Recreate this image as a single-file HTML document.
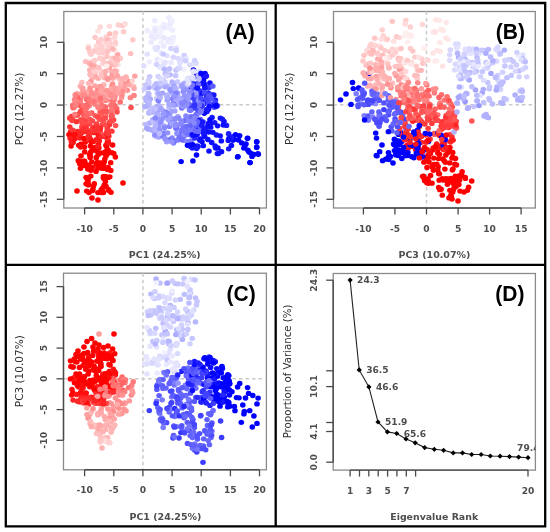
<!DOCTYPE html><html><head><meta charset="utf-8"><style>html,body{margin:0;padding:0;background:#fff}svg{display:block}</style></head><body><svg width="550" height="532" viewBox="0 0 550 532">
<defs><filter id="bl" x="-5%" y="-5%" width="110%" height="110%"><feGaussianBlur stdDeviation="0.35"/></filter></defs>
<rect width="550" height="532" fill="#ffffff"/>
<g filter="url(#bl)">
<clipPath id="cA"><rect x="63.8" y="11.5" width="202.6" height="196.5"/></clipPath>
<rect x="63.8" y="11.5" width="202.6" height="196.5" fill="none" stroke="#8a8a8a" stroke-width="1.3"/>
<line x1="142.9" y1="11.5" x2="142.9" y2="208.0" stroke="#cacaca" stroke-width="1.5" stroke-dasharray="3.5 3.0"/>
<line x1="63.8" y1="104.8" x2="266.4" y2="104.8" stroke="#cacaca" stroke-width="1.5" stroke-dasharray="3.5 3.0"/>
<g clip-path="url(#cA)">
<ellipse cx="215.4" cy="100.1" rx="2.80" ry="2.65" fill="#0f0fff"/>
<ellipse cx="98.2" cy="78.3" rx="2.80" ry="2.65" fill="#ffabab"/>
<ellipse cx="156.7" cy="124.1" rx="2.80" ry="2.65" fill="#ababff"/>
<ellipse cx="193.2" cy="108.2" rx="2.80" ry="2.65" fill="#8888ff"/>
<ellipse cx="114.0" cy="92.7" rx="2.80" ry="2.65" fill="#ff9b9b"/>
<ellipse cx="101.8" cy="58.6" rx="2.80" ry="2.65" fill="#ffd0d0"/>
<ellipse cx="72.7" cy="119.3" rx="2.80" ry="2.65" fill="#ff4d4d"/>
<ellipse cx="182.1" cy="129.7" rx="2.80" ry="2.65" fill="#6f6fff"/>
<ellipse cx="104.6" cy="77.8" rx="2.80" ry="2.65" fill="#ffadad"/>
<ellipse cx="79.4" cy="103.2" rx="2.80" ry="2.65" fill="#ff5e5e"/>
<ellipse cx="106.5" cy="133.2" rx="2.80" ry="2.65" fill="#ff2828"/>
<ellipse cx="160.9" cy="121.2" rx="2.80" ry="2.65" fill="#9c9cff"/>
<ellipse cx="103.3" cy="168.4" rx="2.80" ry="2.65" fill="#ff0000"/>
<ellipse cx="258.0" cy="153.6" rx="2.80" ry="2.65" fill="#0000ff"/>
<ellipse cx="144.3" cy="89.1" rx="2.80" ry="2.65" fill="#ccccff"/>
<ellipse cx="109.3" cy="67.3" rx="2.80" ry="2.65" fill="#ffa2a2"/>
<ellipse cx="111.8" cy="85.6" rx="2.80" ry="2.65" fill="#ffa2a2"/>
<ellipse cx="105.3" cy="100.5" rx="2.80" ry="2.65" fill="#ff8181"/>
<ellipse cx="172.0" cy="137.8" rx="2.80" ry="2.65" fill="#8383ff"/>
<ellipse cx="169.6" cy="126.4" rx="2.80" ry="2.65" fill="#8282ff"/>
<ellipse cx="100.4" cy="110.6" rx="2.80" ry="2.65" fill="#ff8282"/>
<ellipse cx="88.6" cy="46.2" rx="2.80" ry="2.65" fill="#ffe6e6"/>
<ellipse cx="129.0" cy="81.6" rx="2.80" ry="2.65" fill="#ff8d8d"/>
<ellipse cx="220.3" cy="118.1" rx="2.80" ry="2.65" fill="#1515ff"/>
<ellipse cx="69.8" cy="117.9" rx="2.80" ry="2.65" fill="#ff3232"/>
<ellipse cx="200.2" cy="105.2" rx="2.80" ry="2.65" fill="#0e0eff"/>
<ellipse cx="212.8" cy="132.3" rx="2.80" ry="2.65" fill="#0d0dff"/>
<ellipse cx="194.2" cy="133.5" rx="2.80" ry="2.65" fill="#2020ff"/>
<ellipse cx="196.2" cy="130.2" rx="2.80" ry="2.65" fill="#7070ff"/>
<ellipse cx="173.5" cy="141.4" rx="2.80" ry="2.65" fill="#8787ff"/>
<ellipse cx="197.2" cy="106.0" rx="2.80" ry="2.65" fill="#7878ff"/>
<ellipse cx="167.2" cy="95.1" rx="2.80" ry="2.65" fill="#a0a0ff"/>
<ellipse cx="158.1" cy="110.0" rx="2.80" ry="2.65" fill="#a5a5ff"/>
<ellipse cx="103.2" cy="110.0" rx="2.80" ry="2.65" fill="#ff7f7f"/>
<ellipse cx="111.9" cy="71.7" rx="2.80" ry="2.65" fill="#ffa4a4"/>
<ellipse cx="153.6" cy="112.3" rx="2.80" ry="2.65" fill="#bdbdff"/>
<ellipse cx="172.0" cy="92.7" rx="2.80" ry="2.65" fill="#b0b0ff"/>
<ellipse cx="107.1" cy="56.6" rx="2.80" ry="2.65" fill="#ffc3c3"/>
<ellipse cx="98.7" cy="68.8" rx="2.80" ry="2.65" fill="#ffa8a8"/>
<ellipse cx="168.4" cy="69.9" rx="2.80" ry="2.65" fill="#cdcdff"/>
<ellipse cx="224.0" cy="121.5" rx="2.80" ry="2.65" fill="#0d0dff"/>
<ellipse cx="203.5" cy="122.0" rx="2.80" ry="2.65" fill="#7e7eff"/>
<ellipse cx="203.3" cy="145.7" rx="2.80" ry="2.65" fill="#1111ff"/>
<ellipse cx="115.2" cy="64.8" rx="2.80" ry="2.65" fill="#ffa1a1"/>
<ellipse cx="167.3" cy="100.0" rx="2.80" ry="2.65" fill="#9e9eff"/>
<ellipse cx="108.0" cy="140.5" rx="2.80" ry="2.65" fill="#ff0000"/>
<ellipse cx="99.2" cy="130.5" rx="2.80" ry="2.65" fill="#ff3838"/>
<ellipse cx="202.9" cy="83.7" rx="2.80" ry="2.65" fill="#1212ff"/>
<ellipse cx="90.2" cy="61.6" rx="2.80" ry="2.65" fill="#ffdddd"/>
<ellipse cx="200.6" cy="82.7" rx="2.80" ry="2.65" fill="#1313ff"/>
<ellipse cx="149.6" cy="123.1" rx="2.80" ry="2.65" fill="#a5a5ff"/>
<ellipse cx="210.3" cy="123.4" rx="2.80" ry="2.65" fill="#1010ff"/>
<ellipse cx="84.4" cy="147.1" rx="2.80" ry="2.65" fill="#ff0000"/>
<ellipse cx="256.7" cy="147.6" rx="2.80" ry="2.65" fill="#0000ff"/>
<ellipse cx="191.4" cy="93.0" rx="2.80" ry="2.65" fill="#9494ff"/>
<ellipse cx="226.5" cy="125.4" rx="2.80" ry="2.65" fill="#1a1aff"/>
<ellipse cx="95.0" cy="51.3" rx="2.80" ry="2.65" fill="#ffcbcb"/>
<ellipse cx="243.8" cy="148.1" rx="2.80" ry="2.65" fill="#0000ff"/>
<ellipse cx="111.1" cy="99.0" rx="2.80" ry="2.65" fill="#ff9393"/>
<ellipse cx="92.0" cy="198.0" rx="2.80" ry="2.65" fill="#ff0000"/>
<ellipse cx="209.9" cy="83.0" rx="2.80" ry="2.65" fill="#0f0fff"/>
<ellipse cx="93.4" cy="186.2" rx="2.80" ry="2.65" fill="#ff0000"/>
<ellipse cx="157.5" cy="93.5" rx="2.80" ry="2.65" fill="#c3c3ff"/>
<ellipse cx="115.3" cy="95.1" rx="2.80" ry="2.65" fill="#ff9191"/>
<ellipse cx="153.7" cy="129.8" rx="2.80" ry="2.65" fill="#8d8dff"/>
<ellipse cx="90.4" cy="140.4" rx="2.80" ry="2.65" fill="#ff2828"/>
<ellipse cx="84.1" cy="108.0" rx="2.80" ry="2.65" fill="#ff6f6f"/>
<ellipse cx="211.7" cy="142.5" rx="2.80" ry="2.65" fill="#1111ff"/>
<ellipse cx="89.6" cy="119.1" rx="2.80" ry="2.65" fill="#ff4c4c"/>
<ellipse cx="172.6" cy="30.1" rx="2.80" ry="2.65" fill="#ececff"/>
<ellipse cx="105.7" cy="97.6" rx="2.80" ry="2.65" fill="#ff6b6b"/>
<ellipse cx="81.9" cy="82.3" rx="2.80" ry="2.65" fill="#ffbdbd"/>
<ellipse cx="71.5" cy="116.5" rx="2.80" ry="2.65" fill="#ff3434"/>
<ellipse cx="74.1" cy="107.1" rx="2.80" ry="2.65" fill="#ff6b6b"/>
<ellipse cx="81.0" cy="144.2" rx="2.80" ry="2.65" fill="#ff0000"/>
<ellipse cx="90.2" cy="155.7" rx="2.80" ry="2.65" fill="#ff0000"/>
<ellipse cx="204.1" cy="133.5" rx="2.80" ry="2.65" fill="#1515ff"/>
<ellipse cx="122.5" cy="25.6" rx="2.80" ry="2.65" fill="#ffc6c6"/>
<ellipse cx="106.0" cy="186.2" rx="2.80" ry="2.65" fill="#ff0000"/>
<ellipse cx="163.6" cy="24.4" rx="2.80" ry="2.65" fill="#efefff"/>
<ellipse cx="120.2" cy="58.4" rx="2.80" ry="2.65" fill="#ffc3c3"/>
<ellipse cx="157.7" cy="36.7" rx="2.80" ry="2.65" fill="#e5e5ff"/>
<ellipse cx="192.4" cy="148.1" rx="2.80" ry="2.65" fill="#1414ff"/>
<ellipse cx="207.0" cy="111.5" rx="2.80" ry="2.65" fill="#1414ff"/>
<ellipse cx="112.8" cy="58.1" rx="2.80" ry="2.65" fill="#ffc4c4"/>
<ellipse cx="180.3" cy="61.5" rx="2.80" ry="2.65" fill="#dcdcff"/>
<ellipse cx="108.1" cy="150.2" rx="2.80" ry="2.65" fill="#ff0000"/>
<ellipse cx="235.5" cy="134.6" rx="2.80" ry="2.65" fill="#0000ff"/>
<ellipse cx="156.2" cy="86.7" rx="2.80" ry="2.65" fill="#c2c2ff"/>
<ellipse cx="162.7" cy="118.3" rx="2.80" ry="2.65" fill="#9393ff"/>
<ellipse cx="86.1" cy="183.8" rx="2.80" ry="2.65" fill="#ff0000"/>
<ellipse cx="158.1" cy="124.1" rx="2.80" ry="2.65" fill="#ababff"/>
<ellipse cx="82.7" cy="113.5" rx="2.80" ry="2.65" fill="#ff5f5f"/>
<ellipse cx="151.3" cy="112.2" rx="2.80" ry="2.65" fill="#c2c2ff"/>
<ellipse cx="99.2" cy="47.2" rx="2.80" ry="2.65" fill="#ffc5c5"/>
<ellipse cx="204.8" cy="100.6" rx="2.80" ry="2.65" fill="#5f5fff"/>
<ellipse cx="195.1" cy="101.7" rx="2.80" ry="2.65" fill="#4444ff"/>
<ellipse cx="177.5" cy="81.9" rx="2.80" ry="2.65" fill="#c7c7ff"/>
<ellipse cx="149.0" cy="87.5" rx="2.80" ry="2.65" fill="#aaaaff"/>
<ellipse cx="189.0" cy="105.4" rx="2.80" ry="2.65" fill="#8e8eff"/>
<ellipse cx="104.2" cy="185.2" rx="2.80" ry="2.65" fill="#ff0000"/>
<ellipse cx="80.2" cy="100.3" rx="2.80" ry="2.65" fill="#ff8080"/>
<ellipse cx="107.4" cy="169.5" rx="2.80" ry="2.65" fill="#ff0000"/>
<ellipse cx="89.5" cy="123.8" rx="2.80" ry="2.65" fill="#ff5353"/>
<ellipse cx="126.0" cy="77.2" rx="2.80" ry="2.65" fill="#ffa9a9"/>
<ellipse cx="111.0" cy="192.3" rx="2.80" ry="2.65" fill="#ff0000"/>
<ellipse cx="113.0" cy="78.2" rx="2.80" ry="2.65" fill="#ffa9a9"/>
<ellipse cx="107.8" cy="79.6" rx="2.80" ry="2.65" fill="#ffa3a3"/>
<ellipse cx="212.1" cy="117.4" rx="2.80" ry="2.65" fill="#1919ff"/>
<ellipse cx="80.0" cy="98.8" rx="2.80" ry="2.65" fill="#ff7f7f"/>
<ellipse cx="163.9" cy="114.4" rx="2.80" ry="2.65" fill="#9d9dff"/>
<ellipse cx="181.8" cy="108.1" rx="2.80" ry="2.65" fill="#7171ff"/>
<ellipse cx="106.2" cy="36.8" rx="2.80" ry="2.65" fill="#ffd2d2"/>
<ellipse cx="102.2" cy="124.6" rx="2.80" ry="2.65" fill="#ff4343"/>
<ellipse cx="155.0" cy="27.9" rx="2.80" ry="2.65" fill="#ececff"/>
<ellipse cx="152.5" cy="120.2" rx="2.80" ry="2.65" fill="#c6c6ff"/>
<ellipse cx="169.5" cy="89.2" rx="2.80" ry="2.65" fill="#b9b9ff"/>
<ellipse cx="195.2" cy="77.9" rx="2.80" ry="2.65" fill="#d4d4ff"/>
<ellipse cx="90.2" cy="138.8" rx="2.80" ry="2.65" fill="#ff2424"/>
<ellipse cx="105.6" cy="114.5" rx="2.80" ry="2.65" fill="#ff6262"/>
<ellipse cx="228.6" cy="133.7" rx="2.80" ry="2.65" fill="#1a1aff"/>
<ellipse cx="211.5" cy="95.0" rx="2.80" ry="2.65" fill="#1919ff"/>
<ellipse cx="173.5" cy="143.1" rx="2.80" ry="2.65" fill="#8989ff"/>
<ellipse cx="113.3" cy="41.2" rx="2.80" ry="2.65" fill="#ffe2e2"/>
<ellipse cx="200.0" cy="105.1" rx="2.80" ry="2.65" fill="#7575ff"/>
<ellipse cx="156.7" cy="98.8" rx="2.80" ry="2.65" fill="#d0d0ff"/>
<ellipse cx="90.0" cy="102.3" rx="2.80" ry="2.65" fill="#ff9797"/>
<ellipse cx="69.8" cy="126.8" rx="2.80" ry="2.65" fill="#ff3131"/>
<ellipse cx="238.0" cy="156.6" rx="2.80" ry="2.65" fill="#0000ff"/>
<ellipse cx="187.0" cy="132.7" rx="2.80" ry="2.65" fill="#8282ff"/>
<ellipse cx="160.2" cy="36.5" rx="2.80" ry="2.65" fill="#eeeeff"/>
<ellipse cx="97.0" cy="96.7" rx="2.80" ry="2.65" fill="#ff9999"/>
<ellipse cx="90.9" cy="81.5" rx="2.80" ry="2.65" fill="#ff9595"/>
<ellipse cx="196.1" cy="127.2" rx="2.80" ry="2.65" fill="#5151ff"/>
<ellipse cx="127.3" cy="90.3" rx="2.80" ry="2.65" fill="#ff8c8c"/>
<ellipse cx="169.8" cy="24.6" rx="2.80" ry="2.65" fill="#eaeaff"/>
<ellipse cx="192.7" cy="105.4" rx="2.80" ry="2.65" fill="#4b4bff"/>
<ellipse cx="170.5" cy="122.4" rx="2.80" ry="2.65" fill="#9595ff"/>
<ellipse cx="88.4" cy="184.7" rx="2.80" ry="2.65" fill="#ff0000"/>
<ellipse cx="92.9" cy="73.0" rx="2.80" ry="2.65" fill="#ffc7c7"/>
<ellipse cx="176.0" cy="51.0" rx="2.80" ry="2.65" fill="#f1f1ff"/>
<ellipse cx="191.7" cy="80.9" rx="2.80" ry="2.65" fill="#d3d3ff"/>
<ellipse cx="197.2" cy="83.6" rx="2.80" ry="2.65" fill="#8383ff"/>
<ellipse cx="101.7" cy="91.0" rx="2.80" ry="2.65" fill="#ff9c9c"/>
<ellipse cx="98.4" cy="144.7" rx="2.80" ry="2.65" fill="#ff0000"/>
<ellipse cx="107.9" cy="42.9" rx="2.80" ry="2.65" fill="#ffcfcf"/>
<ellipse cx="109.3" cy="41.8" rx="2.80" ry="2.65" fill="#ffcece"/>
<ellipse cx="117.3" cy="89.6" rx="2.80" ry="2.65" fill="#ffa4a4"/>
<ellipse cx="213.8" cy="95.0" rx="2.80" ry="2.65" fill="#1616ff"/>
<ellipse cx="76.7" cy="115.4" rx="2.80" ry="2.65" fill="#ff6767"/>
<ellipse cx="193.0" cy="95.7" rx="2.80" ry="2.65" fill="#8a8aff"/>
<ellipse cx="80.5" cy="111.4" rx="2.80" ry="2.65" fill="#ff4b4b"/>
<ellipse cx="191.1" cy="140.8" rx="2.80" ry="2.65" fill="#7575ff"/>
<ellipse cx="164.8" cy="82.0" rx="2.80" ry="2.65" fill="#cfcfff"/>
<ellipse cx="110.8" cy="105.4" rx="2.80" ry="2.65" fill="#ff8484"/>
<ellipse cx="217.3" cy="153.6" rx="2.80" ry="2.65" fill="#1717ff"/>
<ellipse cx="198.0" cy="146.6" rx="2.80" ry="2.65" fill="#0e0eff"/>
<ellipse cx="110.0" cy="41.2" rx="2.80" ry="2.65" fill="#ffbcbc"/>
<ellipse cx="188.7" cy="103.4" rx="2.80" ry="2.65" fill="#7575ff"/>
<ellipse cx="156.8" cy="98.3" rx="2.80" ry="2.65" fill="#cbcbff"/>
<ellipse cx="103.0" cy="63.3" rx="2.80" ry="2.65" fill="#ffd0d0"/>
<ellipse cx="177.7" cy="93.2" rx="2.80" ry="2.65" fill="#a5a5ff"/>
<ellipse cx="164.2" cy="125.9" rx="2.80" ry="2.65" fill="#aaaaff"/>
<ellipse cx="130.4" cy="97.7" rx="2.80" ry="2.65" fill="#ff8484"/>
<ellipse cx="177.1" cy="124.7" rx="2.80" ry="2.65" fill="#8787ff"/>
<ellipse cx="256.7" cy="141.6" rx="2.80" ry="2.65" fill="#0000ff"/>
<ellipse cx="81.6" cy="161.7" rx="2.80" ry="2.65" fill="#ff0000"/>
<ellipse cx="181.2" cy="135.3" rx="2.80" ry="2.65" fill="#7373ff"/>
<ellipse cx="177.9" cy="116.7" rx="2.80" ry="2.65" fill="#9c9cff"/>
<ellipse cx="169.5" cy="114.0" rx="2.80" ry="2.65" fill="#8c8cff"/>
<ellipse cx="125.0" cy="23.9" rx="2.80" ry="2.65" fill="#ffdbdb"/>
<ellipse cx="184.2" cy="120.7" rx="2.80" ry="2.65" fill="#7272ff"/>
<ellipse cx="188.5" cy="78.3" rx="2.80" ry="2.65" fill="#cbcbff"/>
<ellipse cx="214.2" cy="107.3" rx="2.80" ry="2.65" fill="#4545ff"/>
<ellipse cx="197.6" cy="132.9" rx="2.80" ry="2.65" fill="#7474ff"/>
<ellipse cx="193.5" cy="69.8" rx="2.80" ry="2.65" fill="#0000ff"/>
<ellipse cx="121.8" cy="87.1" rx="2.80" ry="2.65" fill="#ffa0a0"/>
<ellipse cx="104.3" cy="91.5" rx="2.80" ry="2.65" fill="#ff9797"/>
<ellipse cx="174.5" cy="141.0" rx="2.80" ry="2.65" fill="#7171ff"/>
<ellipse cx="208.8" cy="87.5" rx="2.80" ry="2.65" fill="#1010ff"/>
<ellipse cx="110.6" cy="96.9" rx="2.80" ry="2.65" fill="#ff9d9d"/>
<ellipse cx="158.2" cy="76.4" rx="2.80" ry="2.65" fill="#d3d3ff"/>
<ellipse cx="159.3" cy="87.0" rx="2.80" ry="2.65" fill="#aeaeff"/>
<ellipse cx="134.0" cy="95.4" rx="2.80" ry="2.65" fill="#ff8383"/>
<ellipse cx="198.9" cy="97.1" rx="2.80" ry="2.65" fill="#1212ff"/>
<ellipse cx="110.8" cy="45.2" rx="2.80" ry="2.65" fill="#ffcece"/>
<ellipse cx="102.2" cy="166.7" rx="2.80" ry="2.65" fill="#ff0000"/>
<ellipse cx="183.6" cy="106.6" rx="2.80" ry="2.65" fill="#9090ff"/>
<ellipse cx="198.5" cy="107.9" rx="2.80" ry="2.65" fill="#7c7cff"/>
<ellipse cx="196.5" cy="114.1" rx="2.80" ry="2.65" fill="#6b6bff"/>
<ellipse cx="192.0" cy="84.5" rx="2.80" ry="2.65" fill="#9494ff"/>
<ellipse cx="212.0" cy="98.3" rx="2.80" ry="2.65" fill="#1313ff"/>
<ellipse cx="97.4" cy="90.1" rx="2.80" ry="2.65" fill="#ff8484"/>
<ellipse cx="117.6" cy="55.0" rx="2.80" ry="2.65" fill="#ffc5c5"/>
<ellipse cx="170.5" cy="21.7" rx="2.80" ry="2.65" fill="#eaeaff"/>
<ellipse cx="93.3" cy="94.7" rx="2.80" ry="2.65" fill="#ff8f8f"/>
<ellipse cx="190.2" cy="85.4" rx="2.80" ry="2.65" fill="#4949ff"/>
<ellipse cx="148.9" cy="113.1" rx="2.80" ry="2.65" fill="#b4b4ff"/>
<ellipse cx="108.3" cy="189.5" rx="2.80" ry="2.65" fill="#ff0000"/>
<ellipse cx="161.1" cy="53.0" rx="2.80" ry="2.65" fill="#e8e8ff"/>
<ellipse cx="250.0" cy="162.6" rx="2.80" ry="2.65" fill="#0000ff"/>
<ellipse cx="108.4" cy="91.2" rx="2.80" ry="2.65" fill="#ff9696"/>
<ellipse cx="122.1" cy="92.9" rx="2.80" ry="2.65" fill="#ffa5a5"/>
<ellipse cx="100.8" cy="95.8" rx="2.80" ry="2.65" fill="#ff9494"/>
<ellipse cx="204.1" cy="135.4" rx="2.80" ry="2.65" fill="#1e1eff"/>
<ellipse cx="97.9" cy="192.6" rx="2.80" ry="2.65" fill="#ff0000"/>
<ellipse cx="201.1" cy="100.7" rx="2.80" ry="2.65" fill="#7474ff"/>
<ellipse cx="107.2" cy="63.7" rx="2.80" ry="2.65" fill="#ffcdcd"/>
<ellipse cx="124.5" cy="90.7" rx="2.80" ry="2.65" fill="#ffa7a7"/>
<ellipse cx="200.2" cy="138.9" rx="2.80" ry="2.65" fill="#1010ff"/>
<ellipse cx="153.8" cy="32.4" rx="2.80" ry="2.65" fill="#ececff"/>
<ellipse cx="188.1" cy="131.7" rx="2.80" ry="2.65" fill="#6c6cff"/>
<ellipse cx="154.5" cy="85.8" rx="2.80" ry="2.65" fill="#bcbcff"/>
<ellipse cx="83.0" cy="127.3" rx="2.80" ry="2.65" fill="#ff2c2c"/>
<ellipse cx="78.6" cy="104.8" rx="2.80" ry="2.65" fill="#ff7373"/>
<ellipse cx="98.2" cy="135.0" rx="2.80" ry="2.65" fill="#ff1b1b"/>
<ellipse cx="134.8" cy="76.1" rx="2.80" ry="2.65" fill="#ffa3a3"/>
<ellipse cx="184.8" cy="84.9" rx="2.80" ry="2.65" fill="#c3c3ff"/>
<ellipse cx="106.1" cy="155.7" rx="2.80" ry="2.65" fill="#ff0000"/>
<ellipse cx="111.3" cy="111.5" rx="2.80" ry="2.65" fill="#ff6464"/>
<ellipse cx="191.5" cy="122.0" rx="2.80" ry="2.65" fill="#6a6aff"/>
<ellipse cx="114.6" cy="105.5" rx="2.80" ry="2.65" fill="#ff6666"/>
<ellipse cx="123.5" cy="31.7" rx="2.80" ry="2.65" fill="#ffcbcb"/>
<ellipse cx="160.3" cy="66.9" rx="2.80" ry="2.65" fill="#d2d2ff"/>
<ellipse cx="91.4" cy="142.2" rx="2.80" ry="2.65" fill="#ff0000"/>
<ellipse cx="197.4" cy="90.7" rx="2.80" ry="2.65" fill="#1010ff"/>
<ellipse cx="188.2" cy="117.5" rx="2.80" ry="2.65" fill="#ababff"/>
<ellipse cx="109.7" cy="33.8" rx="2.80" ry="2.65" fill="#ffb9b9"/>
<ellipse cx="105.3" cy="151.8" rx="2.80" ry="2.65" fill="#ff0000"/>
<ellipse cx="82.2" cy="128.4" rx="2.80" ry="2.65" fill="#ff3434"/>
<ellipse cx="191.0" cy="83.4" rx="2.80" ry="2.65" fill="#8383ff"/>
<ellipse cx="85.6" cy="128.5" rx="2.80" ry="2.65" fill="#ff3030"/>
<ellipse cx="92.1" cy="77.0" rx="2.80" ry="2.65" fill="#ffadad"/>
<ellipse cx="155.1" cy="120.2" rx="2.80" ry="2.65" fill="#a9a9ff"/>
<ellipse cx="173.4" cy="96.0" rx="2.80" ry="2.65" fill="#adadff"/>
<ellipse cx="96.5" cy="157.1" rx="2.80" ry="2.65" fill="#ff0000"/>
<ellipse cx="94.8" cy="76.8" rx="2.80" ry="2.65" fill="#ffaeae"/>
<ellipse cx="91.9" cy="99.9" rx="2.80" ry="2.65" fill="#ff9999"/>
<ellipse cx="222.3" cy="119.1" rx="2.80" ry="2.65" fill="#1313ff"/>
<ellipse cx="212.6" cy="105.0" rx="2.80" ry="2.65" fill="#0e0eff"/>
<ellipse cx="80.4" cy="101.6" rx="2.80" ry="2.65" fill="#ff8585"/>
<ellipse cx="201.1" cy="107.5" rx="2.80" ry="2.65" fill="#0909ff"/>
<ellipse cx="180.8" cy="100.1" rx="2.80" ry="2.65" fill="#9090ff"/>
<ellipse cx="198.8" cy="113.0" rx="2.80" ry="2.65" fill="#8181ff"/>
<ellipse cx="96.5" cy="71.3" rx="2.80" ry="2.65" fill="#ffc9c9"/>
<ellipse cx="164.7" cy="84.6" rx="2.80" ry="2.65" fill="#cdcdff"/>
<ellipse cx="106.1" cy="47.0" rx="2.80" ry="2.65" fill="#ffe1e1"/>
<ellipse cx="113.7" cy="71.2" rx="2.80" ry="2.65" fill="#ffb5b5"/>
<ellipse cx="103.4" cy="162.9" rx="2.80" ry="2.65" fill="#ff0000"/>
<ellipse cx="100.2" cy="27.0" rx="2.80" ry="2.65" fill="#ffd7d7"/>
<ellipse cx="181.4" cy="121.7" rx="2.80" ry="2.65" fill="#8787ff"/>
<ellipse cx="148.6" cy="129.1" rx="2.80" ry="2.65" fill="#8787ff"/>
<ellipse cx="196.6" cy="148.5" rx="2.80" ry="2.65" fill="#1919ff"/>
<ellipse cx="208.5" cy="123.5" rx="2.80" ry="2.65" fill="#1212ff"/>
<ellipse cx="89.8" cy="51.7" rx="2.80" ry="2.65" fill="#ffcaca"/>
<ellipse cx="201.5" cy="122.6" rx="2.80" ry="2.65" fill="#6f6fff"/>
<ellipse cx="99.6" cy="166.9" rx="2.80" ry="2.65" fill="#ff0000"/>
<ellipse cx="117.4" cy="60.8" rx="2.80" ry="2.65" fill="#ffb8b8"/>
<ellipse cx="176.0" cy="70.2" rx="2.80" ry="2.65" fill="#c7c7ff"/>
<ellipse cx="95.0" cy="104.2" rx="2.80" ry="2.65" fill="#ff7d7d"/>
<ellipse cx="71.1" cy="138.6" rx="2.80" ry="2.65" fill="#ff1212"/>
<ellipse cx="95.0" cy="85.8" rx="2.80" ry="2.65" fill="#ffa1a1"/>
<ellipse cx="157.4" cy="59.3" rx="2.80" ry="2.65" fill="#e6e6ff"/>
<ellipse cx="82.3" cy="88.7" rx="2.80" ry="2.65" fill="#ff9c9c"/>
<ellipse cx="187.3" cy="86.5" rx="2.80" ry="2.65" fill="#8989ff"/>
<ellipse cx="198.2" cy="92.1" rx="2.80" ry="2.65" fill="#6d6dff"/>
<ellipse cx="172.7" cy="99.0" rx="2.80" ry="2.65" fill="#8080ff"/>
<ellipse cx="208.5" cy="109.2" rx="2.80" ry="2.65" fill="#1010ff"/>
<ellipse cx="104.2" cy="92.6" rx="2.80" ry="2.65" fill="#ff8686"/>
<ellipse cx="107.4" cy="142.5" rx="2.80" ry="2.65" fill="#ff0000"/>
<ellipse cx="118.0" cy="64.6" rx="2.80" ry="2.65" fill="#ffdede"/>
<ellipse cx="112.2" cy="115.7" rx="2.80" ry="2.65" fill="#ff5454"/>
<ellipse cx="168.3" cy="39.4" rx="2.80" ry="2.65" fill="#ededff"/>
<ellipse cx="130.6" cy="53.6" rx="2.80" ry="2.65" fill="#ffbfbf"/>
<ellipse cx="154.8" cy="20.6" rx="2.80" ry="2.65" fill="#ececff"/>
<ellipse cx="204.1" cy="109.9" rx="2.80" ry="2.65" fill="#8181ff"/>
<ellipse cx="157.5" cy="47.3" rx="2.80" ry="2.65" fill="#dfdfff"/>
<ellipse cx="105.8" cy="98.5" rx="2.80" ry="2.65" fill="#ffa3a3"/>
<ellipse cx="122.3" cy="79.8" rx="2.80" ry="2.65" fill="#ffabab"/>
<ellipse cx="172.6" cy="39.8" rx="2.80" ry="2.65" fill="#f0f0ff"/>
<ellipse cx="98.0" cy="200.0" rx="2.80" ry="2.65" fill="#ff0000"/>
<ellipse cx="179.8" cy="139.0" rx="2.80" ry="2.65" fill="#8e8eff"/>
<ellipse cx="109.4" cy="26.2" rx="2.80" ry="2.65" fill="#ffdcdc"/>
<ellipse cx="107.4" cy="111.4" rx="2.80" ry="2.65" fill="#ff6c6c"/>
<ellipse cx="87.8" cy="169.0" rx="2.80" ry="2.65" fill="#ff0000"/>
<ellipse cx="204.8" cy="101.7" rx="2.80" ry="2.65" fill="#7777ff"/>
<ellipse cx="121.5" cy="97.8" rx="2.80" ry="2.65" fill="#ff9d9d"/>
<ellipse cx="195.8" cy="89.7" rx="2.80" ry="2.65" fill="#7474ff"/>
<ellipse cx="215.3" cy="101.9" rx="2.80" ry="2.65" fill="#3e3eff"/>
<ellipse cx="95.4" cy="76.2" rx="2.80" ry="2.65" fill="#ffaaaa"/>
<ellipse cx="202.6" cy="131.9" rx="2.80" ry="2.65" fill="#1212ff"/>
<ellipse cx="72.0" cy="119.3" rx="2.80" ry="2.65" fill="#ff4d4d"/>
<ellipse cx="113.7" cy="153.4" rx="2.80" ry="2.65" fill="#ff0000"/>
<ellipse cx="191.2" cy="109.6" rx="2.80" ry="2.65" fill="#6060ff"/>
<ellipse cx="205.9" cy="127.1" rx="2.80" ry="2.65" fill="#0909ff"/>
<ellipse cx="186.8" cy="120.2" rx="2.80" ry="2.65" fill="#6d6dff"/>
<ellipse cx="181.2" cy="86.2" rx="2.80" ry="2.65" fill="#acacff"/>
<ellipse cx="190.2" cy="96.9" rx="2.80" ry="2.65" fill="#5959ff"/>
<ellipse cx="118.4" cy="58.2" rx="2.80" ry="2.65" fill="#ffd5d5"/>
<ellipse cx="71.1" cy="146.0" rx="2.80" ry="2.65" fill="#ff0000"/>
<ellipse cx="200.4" cy="119.5" rx="2.80" ry="2.65" fill="#6262ff"/>
<ellipse cx="105.4" cy="106.9" rx="2.80" ry="2.65" fill="#ff6666"/>
<ellipse cx="85.1" cy="142.2" rx="2.80" ry="2.65" fill="#ff0000"/>
<ellipse cx="123.0" cy="183.0" rx="2.80" ry="2.65" fill="#ff0000"/>
<ellipse cx="70.5" cy="131.9" rx="2.80" ry="2.65" fill="#ff1c1c"/>
<ellipse cx="73.8" cy="131.3" rx="2.80" ry="2.65" fill="#ff3030"/>
<ellipse cx="95.5" cy="99.4" rx="2.80" ry="2.65" fill="#ff8787"/>
<ellipse cx="80.4" cy="98.7" rx="2.80" ry="2.65" fill="#ff7575"/>
<ellipse cx="171.0" cy="38.7" rx="2.80" ry="2.65" fill="#e8e8ff"/>
<ellipse cx="82.3" cy="122.5" rx="2.80" ry="2.65" fill="#ff4343"/>
<ellipse cx="191.4" cy="87.2" rx="2.80" ry="2.65" fill="#2525ff"/>
<ellipse cx="88.9" cy="101.6" rx="2.80" ry="2.65" fill="#ff9393"/>
<ellipse cx="157.5" cy="114.7" rx="2.80" ry="2.65" fill="#9797ff"/>
<ellipse cx="187.1" cy="141.4" rx="2.80" ry="2.65" fill="#7c7cff"/>
<ellipse cx="100.6" cy="93.5" rx="2.80" ry="2.65" fill="#ff9494"/>
<ellipse cx="151.6" cy="107.8" rx="2.80" ry="2.65" fill="#c3c3ff"/>
<ellipse cx="174.0" cy="123.7" rx="2.80" ry="2.65" fill="#8181ff"/>
<ellipse cx="184.0" cy="69.6" rx="2.80" ry="2.65" fill="#f2f2ff"/>
<ellipse cx="105.9" cy="145.2" rx="2.80" ry="2.65" fill="#ff1414"/>
<ellipse cx="89.8" cy="69.9" rx="2.80" ry="2.65" fill="#ffb4b4"/>
<ellipse cx="167.8" cy="42.1" rx="2.80" ry="2.65" fill="#ebebff"/>
<ellipse cx="163.6" cy="64.5" rx="2.80" ry="2.65" fill="#e5e5ff"/>
<ellipse cx="160.2" cy="28.2" rx="2.80" ry="2.65" fill="#f2f2ff"/>
<ellipse cx="129.6" cy="84.8" rx="2.80" ry="2.65" fill="#ffa8a8"/>
<ellipse cx="144.9" cy="106.8" rx="2.80" ry="2.65" fill="#b0b0ff"/>
<ellipse cx="166.8" cy="55.6" rx="2.80" ry="2.65" fill="#dfdfff"/>
<ellipse cx="183.4" cy="91.5" rx="2.80" ry="2.65" fill="#8c8cff"/>
<ellipse cx="91.7" cy="112.9" rx="2.80" ry="2.65" fill="#ff4f4f"/>
<ellipse cx="89.5" cy="133.4" rx="2.80" ry="2.65" fill="#ff2020"/>
<ellipse cx="112.0" cy="75.9" rx="2.80" ry="2.65" fill="#ff9c9c"/>
<ellipse cx="107.0" cy="131.4" rx="2.80" ry="2.65" fill="#ff3d3d"/>
<ellipse cx="187.3" cy="98.5" rx="2.80" ry="2.65" fill="#a3a3ff"/>
<ellipse cx="174.6" cy="95.2" rx="2.80" ry="2.65" fill="#a9a9ff"/>
<ellipse cx="76.0" cy="137.0" rx="2.80" ry="2.65" fill="#ff1515"/>
<ellipse cx="159.0" cy="125.8" rx="2.80" ry="2.65" fill="#9999ff"/>
<ellipse cx="185.3" cy="99.3" rx="2.80" ry="2.65" fill="#9797ff"/>
<ellipse cx="178.4" cy="68.2" rx="2.80" ry="2.65" fill="#d1d1ff"/>
<ellipse cx="163.1" cy="110.8" rx="2.80" ry="2.65" fill="#9595ff"/>
<ellipse cx="165.6" cy="25.2" rx="2.80" ry="2.65" fill="#f0f0ff"/>
<ellipse cx="91.1" cy="54.3" rx="2.80" ry="2.65" fill="#ffcaca"/>
<ellipse cx="83.1" cy="122.2" rx="2.80" ry="2.65" fill="#ff4d4d"/>
<ellipse cx="84.0" cy="161.2" rx="2.80" ry="2.65" fill="#ff0000"/>
<ellipse cx="100.1" cy="41.8" rx="2.80" ry="2.65" fill="#ffe7e7"/>
<ellipse cx="101.1" cy="101.8" rx="2.80" ry="2.65" fill="#ff9f9f"/>
<ellipse cx="198.3" cy="125.0" rx="2.80" ry="2.65" fill="#8282ff"/>
<ellipse cx="247.7" cy="138.2" rx="2.80" ry="2.65" fill="#0000ff"/>
<ellipse cx="123.5" cy="86.1" rx="2.80" ry="2.65" fill="#ffabab"/>
<ellipse cx="89.4" cy="138.5" rx="2.80" ry="2.65" fill="#ff1818"/>
<ellipse cx="172.8" cy="83.4" rx="2.80" ry="2.65" fill="#b7b7ff"/>
<ellipse cx="93.5" cy="141.4" rx="2.80" ry="2.65" fill="#ff0707"/>
<ellipse cx="204.7" cy="86.7" rx="2.80" ry="2.65" fill="#4545ff"/>
<ellipse cx="102.6" cy="188.1" rx="2.80" ry="2.65" fill="#ff0000"/>
<ellipse cx="112.6" cy="145.0" rx="2.80" ry="2.65" fill="#ff0000"/>
<ellipse cx="114.3" cy="99.8" rx="2.80" ry="2.65" fill="#ff8787"/>
<ellipse cx="110.7" cy="94.6" rx="2.80" ry="2.65" fill="#ff9c9c"/>
<ellipse cx="107.2" cy="135.7" rx="2.80" ry="2.65" fill="#ff0000"/>
<ellipse cx="73.2" cy="107.9" rx="2.80" ry="2.65" fill="#ff8080"/>
<ellipse cx="155.5" cy="119.5" rx="2.80" ry="2.65" fill="#bcbcff"/>
<ellipse cx="100.4" cy="101.3" rx="2.80" ry="2.65" fill="#ff7f7f"/>
<ellipse cx="197.2" cy="127.5" rx="2.80" ry="2.65" fill="#0f0fff"/>
<ellipse cx="208.3" cy="93.0" rx="2.80" ry="2.65" fill="#2626ff"/>
<ellipse cx="108.2" cy="99.8" rx="2.80" ry="2.65" fill="#ff8989"/>
<ellipse cx="152.8" cy="120.1" rx="2.80" ry="2.65" fill="#9999ff"/>
<ellipse cx="92.6" cy="127.8" rx="2.80" ry="2.65" fill="#ff3c3c"/>
<ellipse cx="184.4" cy="83.2" rx="2.80" ry="2.65" fill="#aeaeff"/>
<ellipse cx="115.3" cy="58.5" rx="2.80" ry="2.65" fill="#ffb0b0"/>
<ellipse cx="112.7" cy="101.7" rx="2.80" ry="2.65" fill="#ff7878"/>
<ellipse cx="188.5" cy="120.2" rx="2.80" ry="2.65" fill="#8686ff"/>
<ellipse cx="88.3" cy="123.7" rx="2.80" ry="2.65" fill="#ff4242"/>
<ellipse cx="156.3" cy="49.3" rx="2.80" ry="2.65" fill="#ddddff"/>
<ellipse cx="77.7" cy="114.5" rx="2.80" ry="2.65" fill="#ff4d4d"/>
<ellipse cx="184.5" cy="135.6" rx="2.80" ry="2.65" fill="#7878ff"/>
<ellipse cx="252.0" cy="156.4" rx="2.80" ry="2.65" fill="#0000ff"/>
<ellipse cx="164.1" cy="37.6" rx="2.80" ry="2.65" fill="#e8e8ff"/>
<ellipse cx="173.9" cy="102.7" rx="2.80" ry="2.65" fill="#9595ff"/>
<ellipse cx="180.7" cy="133.5" rx="2.80" ry="2.65" fill="#6565ff"/>
<ellipse cx="105.0" cy="93.9" rx="2.80" ry="2.65" fill="#ff9f9f"/>
<ellipse cx="209.0" cy="87.5" rx="2.80" ry="2.65" fill="#3737ff"/>
<ellipse cx="254.1" cy="154.3" rx="2.80" ry="2.65" fill="#0000ff"/>
<ellipse cx="204.7" cy="136.7" rx="2.80" ry="2.65" fill="#0d0dff"/>
<ellipse cx="241.7" cy="142.9" rx="2.80" ry="2.65" fill="#0000ff"/>
<ellipse cx="182.2" cy="105.6" rx="2.80" ry="2.65" fill="#9a9aff"/>
<ellipse cx="81.6" cy="93.6" rx="2.80" ry="2.65" fill="#ff9a9a"/>
<ellipse cx="93.5" cy="127.2" rx="2.80" ry="2.65" fill="#ff3d3d"/>
<ellipse cx="100.2" cy="163.0" rx="2.80" ry="2.65" fill="#ff0000"/>
<ellipse cx="195.6" cy="94.3" rx="2.80" ry="2.65" fill="#4f4fff"/>
<ellipse cx="109.2" cy="48.5" rx="2.80" ry="2.65" fill="#ffc7c7"/>
<ellipse cx="175.9" cy="89.0" rx="2.80" ry="2.65" fill="#b4b4ff"/>
<ellipse cx="189.5" cy="110.0" rx="2.80" ry="2.65" fill="#7979ff"/>
<ellipse cx="115.5" cy="43.9" rx="2.80" ry="2.65" fill="#ffd7d7"/>
<ellipse cx="102.2" cy="45.8" rx="2.80" ry="2.65" fill="#ffd9d9"/>
<ellipse cx="86.4" cy="112.8" rx="2.80" ry="2.65" fill="#ff6b6b"/>
<ellipse cx="110.7" cy="162.7" rx="2.80" ry="2.65" fill="#ff0000"/>
<ellipse cx="159.3" cy="130.2" rx="2.80" ry="2.65" fill="#9595ff"/>
<ellipse cx="147.3" cy="30.6" rx="2.80" ry="2.65" fill="#ededff"/>
<ellipse cx="87.1" cy="106.9" rx="2.80" ry="2.65" fill="#ff6363"/>
<ellipse cx="70.4" cy="136.5" rx="2.80" ry="2.65" fill="#ff1515"/>
<ellipse cx="100.2" cy="112.2" rx="2.80" ry="2.65" fill="#ff5454"/>
<ellipse cx="147.0" cy="96.6" rx="2.80" ry="2.65" fill="#c4c4ff"/>
<ellipse cx="205.9" cy="129.8" rx="2.80" ry="2.65" fill="#1818ff"/>
<ellipse cx="107.3" cy="43.6" rx="2.80" ry="2.65" fill="#ffc6c6"/>
<ellipse cx="195.9" cy="63.2" rx="2.80" ry="2.65" fill="#d5d5ff"/>
<ellipse cx="99.5" cy="119.4" rx="2.80" ry="2.65" fill="#ff4040"/>
<ellipse cx="88.9" cy="192.5" rx="2.80" ry="2.65" fill="#ff0000"/>
<ellipse cx="93.8" cy="132.6" rx="2.80" ry="2.65" fill="#ff0e0e"/>
<ellipse cx="197.8" cy="110.4" rx="2.80" ry="2.65" fill="#6161ff"/>
<ellipse cx="155.2" cy="47.7" rx="2.80" ry="2.65" fill="#e5e5ff"/>
<ellipse cx="171.8" cy="111.1" rx="2.80" ry="2.65" fill="#9f9fff"/>
<ellipse cx="246.0" cy="144.0" rx="2.80" ry="2.65" fill="#0000ff"/>
<ellipse cx="258.3" cy="154.3" rx="2.80" ry="2.65" fill="#0000ff"/>
<ellipse cx="194.0" cy="73.8" rx="2.80" ry="2.65" fill="#d4d4ff"/>
<ellipse cx="164.5" cy="127.7" rx="2.80" ry="2.65" fill="#8989ff"/>
<ellipse cx="161.3" cy="136.2" rx="2.80" ry="2.65" fill="#adadff"/>
<ellipse cx="99.1" cy="130.7" rx="2.80" ry="2.65" fill="#ff2121"/>
<ellipse cx="121.9" cy="95.3" rx="2.80" ry="2.65" fill="#ff8a8a"/>
<ellipse cx="238.5" cy="140.0" rx="2.80" ry="2.65" fill="#0000ff"/>
<ellipse cx="103.5" cy="136.1" rx="2.80" ry="2.65" fill="#ff2727"/>
<ellipse cx="180.9" cy="98.5" rx="2.80" ry="2.65" fill="#a8a8ff"/>
<ellipse cx="107.3" cy="138.9" rx="2.80" ry="2.65" fill="#ff3333"/>
<ellipse cx="200.2" cy="107.4" rx="2.80" ry="2.65" fill="#3939ff"/>
<ellipse cx="228.7" cy="148.8" rx="2.80" ry="2.65" fill="#1313ff"/>
<ellipse cx="100.2" cy="131.0" rx="2.80" ry="2.65" fill="#ff3838"/>
<ellipse cx="158.9" cy="105.7" rx="2.80" ry="2.65" fill="#a3a3ff"/>
<ellipse cx="170.8" cy="90.6" rx="2.80" ry="2.65" fill="#8d8dff"/>
<ellipse cx="103.5" cy="164.7" rx="2.80" ry="2.65" fill="#ff0000"/>
<ellipse cx="99.0" cy="52.9" rx="2.80" ry="2.65" fill="#ffd0d0"/>
<ellipse cx="98.6" cy="42.0" rx="2.80" ry="2.65" fill="#ffc7c7"/>
<ellipse cx="204.8" cy="88.0" rx="2.80" ry="2.65" fill="#1212ff"/>
<ellipse cx="189.2" cy="125.7" rx="2.80" ry="2.65" fill="#8585ff"/>
<ellipse cx="201.0" cy="121.5" rx="2.80" ry="2.65" fill="#7373ff"/>
<ellipse cx="106.2" cy="63.7" rx="2.80" ry="2.65" fill="#ffc9c9"/>
<ellipse cx="191.4" cy="134.6" rx="2.80" ry="2.65" fill="#6f6fff"/>
<ellipse cx="113.3" cy="64.6" rx="2.80" ry="2.65" fill="#ffb1b1"/>
<ellipse cx="204.8" cy="131.2" rx="2.80" ry="2.65" fill="#1818ff"/>
<ellipse cx="192.0" cy="86.4" rx="2.80" ry="2.65" fill="#8585ff"/>
<ellipse cx="100.4" cy="128.3" rx="2.80" ry="2.65" fill="#ff2a2a"/>
<ellipse cx="217.4" cy="105.7" rx="2.80" ry="2.65" fill="#4747ff"/>
<ellipse cx="80.0" cy="138.1" rx="2.80" ry="2.65" fill="#ff1a1a"/>
<ellipse cx="88.2" cy="184.8" rx="2.80" ry="2.65" fill="#ff0000"/>
<ellipse cx="82.3" cy="123.5" rx="2.80" ry="2.65" fill="#ff4545"/>
<ellipse cx="104.4" cy="113.7" rx="2.80" ry="2.65" fill="#ff8080"/>
<ellipse cx="151.5" cy="130.0" rx="2.80" ry="2.65" fill="#adadff"/>
<ellipse cx="163.2" cy="79.9" rx="2.80" ry="2.65" fill="#d0d0ff"/>
<ellipse cx="118.5" cy="25.0" rx="2.80" ry="2.65" fill="#ffd0d0"/>
<ellipse cx="105.6" cy="43.1" rx="2.80" ry="2.65" fill="#ffe4e4"/>
<ellipse cx="94.0" cy="65.5" rx="2.80" ry="2.65" fill="#ffa7a7"/>
<ellipse cx="201.5" cy="100.2" rx="2.80" ry="2.65" fill="#0101ff"/>
<ellipse cx="256.7" cy="141.9" rx="2.80" ry="2.65" fill="#0000ff"/>
<ellipse cx="183.9" cy="134.4" rx="2.80" ry="2.65" fill="#8e8eff"/>
<ellipse cx="116.6" cy="90.2" rx="2.80" ry="2.65" fill="#ff9595"/>
<ellipse cx="81.9" cy="126.6" rx="2.80" ry="2.65" fill="#ff4646"/>
<ellipse cx="73.2" cy="107.3" rx="2.80" ry="2.65" fill="#ff6767"/>
<ellipse cx="172.1" cy="81.9" rx="2.80" ry="2.65" fill="#b3b3ff"/>
<ellipse cx="168.1" cy="119.5" rx="2.80" ry="2.65" fill="#a3a3ff"/>
<ellipse cx="189.2" cy="129.1" rx="2.80" ry="2.65" fill="#7c7cff"/>
<ellipse cx="87.6" cy="94.6" rx="2.80" ry="2.65" fill="#ff9494"/>
<ellipse cx="170.2" cy="74.8" rx="2.80" ry="2.65" fill="#bebeff"/>
<ellipse cx="196.3" cy="76.1" rx="2.80" ry="2.65" fill="#0a0aff"/>
<ellipse cx="163.2" cy="54.1" rx="2.80" ry="2.65" fill="#cacaff"/>
<ellipse cx="76.8" cy="135.5" rx="2.80" ry="2.65" fill="#ff2222"/>
<ellipse cx="164.2" cy="69.1" rx="2.80" ry="2.65" fill="#b6b6ff"/>
<ellipse cx="149.6" cy="99.1" rx="2.80" ry="2.65" fill="#c7c7ff"/>
<ellipse cx="198.5" cy="92.2" rx="2.80" ry="2.65" fill="#1010ff"/>
<ellipse cx="78.7" cy="145.3" rx="2.80" ry="2.65" fill="#ff0202"/>
<ellipse cx="103.0" cy="59.6" rx="2.80" ry="2.65" fill="#ffc9c9"/>
<ellipse cx="87.7" cy="91.6" rx="2.80" ry="2.65" fill="#ffa9a9"/>
<ellipse cx="193.3" cy="130.0" rx="2.80" ry="2.65" fill="#7d7dff"/>
<ellipse cx="172.9" cy="120.0" rx="2.80" ry="2.65" fill="#8282ff"/>
<ellipse cx="194.8" cy="138.0" rx="2.80" ry="2.65" fill="#1f1fff"/>
<ellipse cx="214.6" cy="122.6" rx="2.80" ry="2.65" fill="#1212ff"/>
<ellipse cx="146.0" cy="124.4" rx="2.80" ry="2.65" fill="#b9b9ff"/>
<ellipse cx="84.1" cy="116.6" rx="2.80" ry="2.65" fill="#ff5959"/>
<ellipse cx="197.4" cy="88.7" rx="2.80" ry="2.65" fill="#8888ff"/>
<ellipse cx="108.9" cy="190.5" rx="2.80" ry="2.65" fill="#ff0000"/>
<ellipse cx="146.9" cy="128.3" rx="2.80" ry="2.65" fill="#a0a0ff"/>
<ellipse cx="143.8" cy="66.0" rx="2.80" ry="2.65" fill="#dfdfff"/>
<ellipse cx="171.6" cy="42.5" rx="2.80" ry="2.65" fill="#efefff"/>
<ellipse cx="187.6" cy="100.6" rx="2.80" ry="2.65" fill="#9999ff"/>
<ellipse cx="101.8" cy="74.5" rx="2.80" ry="2.65" fill="#ffa2a2"/>
<ellipse cx="89.2" cy="105.8" rx="2.80" ry="2.65" fill="#ff8080"/>
<ellipse cx="96.8" cy="151.3" rx="2.80" ry="2.65" fill="#ff0000"/>
<ellipse cx="115.6" cy="32.9" rx="2.80" ry="2.65" fill="#ffcece"/>
<ellipse cx="104.6" cy="75.3" rx="2.80" ry="2.65" fill="#ffa9a9"/>
<ellipse cx="132.3" cy="80.8" rx="2.80" ry="2.65" fill="#ffd1d1"/>
<ellipse cx="90.1" cy="87.9" rx="2.80" ry="2.65" fill="#ff9191"/>
<ellipse cx="152.3" cy="121.5" rx="2.80" ry="2.65" fill="#bebeff"/>
<ellipse cx="202.7" cy="125.0" rx="2.80" ry="2.65" fill="#6464ff"/>
<ellipse cx="99.1" cy="138.2" rx="2.80" ry="2.65" fill="#ff1d1d"/>
<ellipse cx="196.9" cy="133.3" rx="2.80" ry="2.65" fill="#1818ff"/>
<ellipse cx="131.0" cy="107.5" rx="2.80" ry="2.65" fill="#ff5050"/>
<ellipse cx="106.1" cy="41.5" rx="2.80" ry="2.65" fill="#ffd2d2"/>
<ellipse cx="81.3" cy="119.5" rx="2.80" ry="2.65" fill="#ff6d6d"/>
<ellipse cx="95.0" cy="147.5" rx="2.80" ry="2.65" fill="#ff0000"/>
<ellipse cx="72.8" cy="105.2" rx="2.80" ry="2.65" fill="#ff6a6a"/>
<ellipse cx="107.8" cy="153.5" rx="2.80" ry="2.65" fill="#ff0000"/>
<ellipse cx="77.5" cy="131.4" rx="2.80" ry="2.65" fill="#ff2828"/>
<ellipse cx="96.2" cy="164.0" rx="2.80" ry="2.65" fill="#ff0000"/>
<ellipse cx="204.3" cy="113.3" rx="2.80" ry="2.65" fill="#0606ff"/>
<ellipse cx="195.1" cy="106.3" rx="2.80" ry="2.65" fill="#8c8cff"/>
<ellipse cx="157.8" cy="84.1" rx="2.80" ry="2.65" fill="#cdcdff"/>
<ellipse cx="186.7" cy="133.7" rx="2.80" ry="2.65" fill="#8383ff"/>
<ellipse cx="110.9" cy="40.1" rx="2.80" ry="2.65" fill="#ffcdcd"/>
<ellipse cx="157.9" cy="136.8" rx="2.80" ry="2.65" fill="#9090ff"/>
<ellipse cx="109.8" cy="96.9" rx="2.80" ry="2.65" fill="#ffacac"/>
<ellipse cx="98.0" cy="31.1" rx="2.80" ry="2.65" fill="#ffe1e1"/>
<ellipse cx="73.1" cy="142.4" rx="2.80" ry="2.65" fill="#ff0b0b"/>
<ellipse cx="163.5" cy="113.3" rx="2.80" ry="2.65" fill="#b1b1ff"/>
<ellipse cx="148.6" cy="81.6" rx="2.80" ry="2.65" fill="#d4d4ff"/>
<ellipse cx="119.3" cy="78.6" rx="2.80" ry="2.65" fill="#ffb9b9"/>
<ellipse cx="199.1" cy="81.5" rx="2.80" ry="2.65" fill="#b1b1ff"/>
<ellipse cx="94.4" cy="50.6" rx="2.80" ry="2.65" fill="#ffcaca"/>
<ellipse cx="196.7" cy="118.1" rx="2.80" ry="2.65" fill="#8484ff"/>
<ellipse cx="106.1" cy="153.2" rx="2.80" ry="2.65" fill="#ff0000"/>
<ellipse cx="76.8" cy="95.0" rx="2.80" ry="2.65" fill="#ffa2a2"/>
<ellipse cx="105.9" cy="176.7" rx="2.80" ry="2.65" fill="#ff0000"/>
<ellipse cx="122.1" cy="90.7" rx="2.80" ry="2.65" fill="#ff8c8c"/>
<ellipse cx="159.3" cy="136.8" rx="2.80" ry="2.65" fill="#9d9dff"/>
<ellipse cx="195.1" cy="91.7" rx="2.80" ry="2.65" fill="#8080ff"/>
<ellipse cx="108.7" cy="49.3" rx="2.80" ry="2.65" fill="#ffd1d1"/>
<ellipse cx="90.4" cy="146.1" rx="2.80" ry="2.65" fill="#ff0000"/>
<ellipse cx="108.1" cy="134.1" rx="2.80" ry="2.65" fill="#ff2c2c"/>
<ellipse cx="90.3" cy="130.6" rx="2.80" ry="2.65" fill="#ff3d3d"/>
<ellipse cx="195.7" cy="89.4" rx="2.80" ry="2.65" fill="#1212ff"/>
<ellipse cx="161.3" cy="42.2" rx="2.80" ry="2.65" fill="#f0f0ff"/>
<ellipse cx="99.2" cy="141.2" rx="2.80" ry="2.65" fill="#ff1a1a"/>
<ellipse cx="182.9" cy="140.1" rx="2.80" ry="2.65" fill="#7a7aff"/>
<ellipse cx="107.3" cy="39.3" rx="2.80" ry="2.65" fill="#ffbbbb"/>
<ellipse cx="154.9" cy="135.6" rx="2.80" ry="2.65" fill="#9c9cff"/>
<ellipse cx="90.1" cy="157.5" rx="2.80" ry="2.65" fill="#ff0000"/>
<ellipse cx="209.6" cy="123.3" rx="2.80" ry="2.65" fill="#0e0eff"/>
<ellipse cx="167.3" cy="86.0" rx="2.80" ry="2.65" fill="#b7b7ff"/>
<ellipse cx="100.9" cy="92.5" rx="2.80" ry="2.65" fill="#ff9292"/>
<ellipse cx="79.7" cy="163.8" rx="2.80" ry="2.65" fill="#ff0000"/>
<ellipse cx="90.9" cy="53.5" rx="2.80" ry="2.65" fill="#ffcccc"/>
<ellipse cx="117.5" cy="54.3" rx="2.80" ry="2.65" fill="#ffa8a8"/>
<ellipse cx="159.6" cy="106.5" rx="2.80" ry="2.65" fill="#b4b4ff"/>
<ellipse cx="201.9" cy="141.6" rx="2.80" ry="2.65" fill="#0404ff"/>
<ellipse cx="149.7" cy="76.6" rx="2.80" ry="2.65" fill="#c9c9ff"/>
<ellipse cx="94.7" cy="128.1" rx="2.80" ry="2.65" fill="#ff2d2d"/>
<ellipse cx="97.6" cy="127.5" rx="2.80" ry="2.65" fill="#ff3737"/>
<ellipse cx="84.7" cy="151.9" rx="2.80" ry="2.65" fill="#ff0000"/>
<ellipse cx="115.5" cy="63.9" rx="2.80" ry="2.65" fill="#ffc6c6"/>
<ellipse cx="166.2" cy="112.1" rx="2.80" ry="2.65" fill="#8383ff"/>
<ellipse cx="216.4" cy="135.0" rx="2.80" ry="2.65" fill="#1414ff"/>
<ellipse cx="172.4" cy="20.9" rx="2.80" ry="2.65" fill="#eeeeff"/>
<ellipse cx="200.5" cy="127.3" rx="2.80" ry="2.65" fill="#6666ff"/>
<ellipse cx="221.5" cy="151.7" rx="2.80" ry="2.65" fill="#0808ff"/>
<ellipse cx="91.1" cy="169.8" rx="2.80" ry="2.65" fill="#ff0000"/>
<ellipse cx="208.8" cy="132.1" rx="2.80" ry="2.65" fill="#0d0dff"/>
<ellipse cx="203.8" cy="103.5" rx="2.80" ry="2.65" fill="#0c0cff"/>
<ellipse cx="77.0" cy="191.0" rx="2.80" ry="2.65" fill="#ff0000"/>
<ellipse cx="178.1" cy="58.3" rx="2.80" ry="2.65" fill="#dadaff"/>
<ellipse cx="88.6" cy="101.8" rx="2.80" ry="2.65" fill="#ff7a7a"/>
<ellipse cx="176.0" cy="100.9" rx="2.80" ry="2.65" fill="#a8a8ff"/>
<ellipse cx="114.2" cy="40.1" rx="2.80" ry="2.65" fill="#fff0f0"/>
<ellipse cx="103.9" cy="84.7" rx="2.80" ry="2.65" fill="#ffb7b7"/>
<ellipse cx="116.7" cy="108.5" rx="2.80" ry="2.65" fill="#ff6666"/>
<ellipse cx="212.8" cy="86.2" rx="2.80" ry="2.65" fill="#5c5cff"/>
<ellipse cx="161.1" cy="108.7" rx="2.80" ry="2.65" fill="#a4a4ff"/>
<ellipse cx="92.9" cy="69.5" rx="2.80" ry="2.65" fill="#ffb9b9"/>
<ellipse cx="205.0" cy="73.5" rx="2.80" ry="2.65" fill="#0000ff"/>
<ellipse cx="89.9" cy="133.3" rx="2.80" ry="2.65" fill="#ff1717"/>
<ellipse cx="133.6" cy="86.4" rx="2.80" ry="2.65" fill="#ffbbbb"/>
<ellipse cx="156.4" cy="83.6" rx="2.80" ry="2.65" fill="#b7b7ff"/>
<ellipse cx="200.1" cy="91.0" rx="2.80" ry="2.65" fill="#3636ff"/>
<ellipse cx="209.1" cy="95.1" rx="2.80" ry="2.65" fill="#3737ff"/>
<ellipse cx="231.4" cy="145.4" rx="2.80" ry="2.65" fill="#0909ff"/>
<ellipse cx="195.1" cy="115.8" rx="2.80" ry="2.65" fill="#7070ff"/>
<ellipse cx="93.5" cy="93.9" rx="2.80" ry="2.65" fill="#ffaeae"/>
<ellipse cx="99.9" cy="118.8" rx="2.80" ry="2.65" fill="#ff5c5c"/>
<ellipse cx="108.1" cy="135.0" rx="2.80" ry="2.65" fill="#ff0707"/>
<ellipse cx="78.9" cy="105.0" rx="2.80" ry="2.65" fill="#ff7474"/>
<ellipse cx="75.1" cy="137.5" rx="2.80" ry="2.65" fill="#ff0101"/>
<ellipse cx="111.6" cy="109.9" rx="2.80" ry="2.65" fill="#ff7474"/>
<ellipse cx="111.8" cy="94.0" rx="2.80" ry="2.65" fill="#ffa1a1"/>
<ellipse cx="96.2" cy="139.6" rx="2.80" ry="2.65" fill="#ff1b1b"/>
<ellipse cx="198.8" cy="120.3" rx="2.80" ry="2.65" fill="#1212ff"/>
<ellipse cx="161.1" cy="79.3" rx="2.80" ry="2.65" fill="#d0d0ff"/>
<ellipse cx="200.2" cy="104.2" rx="2.80" ry="2.65" fill="#4c4cff"/>
<ellipse cx="193.4" cy="98.2" rx="2.80" ry="2.65" fill="#3f3fff"/>
<ellipse cx="154.3" cy="129.9" rx="2.80" ry="2.65" fill="#9898ff"/>
<ellipse cx="77.0" cy="93.7" rx="2.80" ry="2.65" fill="#ff9b9b"/>
<ellipse cx="157.7" cy="119.6" rx="2.80" ry="2.65" fill="#a2a2ff"/>
<ellipse cx="191.0" cy="116.7" rx="2.80" ry="2.65" fill="#7070ff"/>
<ellipse cx="175.3" cy="125.7" rx="2.80" ry="2.65" fill="#7b7bff"/>
<ellipse cx="193.6" cy="71.2" rx="2.80" ry="2.65" fill="#e3e3ff"/>
<ellipse cx="191.9" cy="135.6" rx="2.80" ry="2.65" fill="#7373ff"/>
<ellipse cx="209.9" cy="94.9" rx="2.80" ry="2.65" fill="#3b3bff"/>
<ellipse cx="210.0" cy="119.6" rx="2.80" ry="2.65" fill="#0606ff"/>
<ellipse cx="101.3" cy="76.5" rx="2.80" ry="2.65" fill="#ffc1c1"/>
<ellipse cx="151.2" cy="42.2" rx="2.80" ry="2.65" fill="#ebebff"/>
<ellipse cx="84.9" cy="139.1" rx="2.80" ry="2.65" fill="#ff2222"/>
<ellipse cx="96.5" cy="124.0" rx="2.80" ry="2.65" fill="#ff4444"/>
<ellipse cx="198.7" cy="107.9" rx="2.80" ry="2.65" fill="#8989ff"/>
<ellipse cx="160.6" cy="60.4" rx="2.80" ry="2.65" fill="#f2f2ff"/>
<ellipse cx="182.4" cy="84.9" rx="2.80" ry="2.65" fill="#a1a1ff"/>
<ellipse cx="169.5" cy="68.7" rx="2.80" ry="2.65" fill="#c0c0ff"/>
<ellipse cx="105.6" cy="111.7" rx="2.80" ry="2.65" fill="#ff5555"/>
<ellipse cx="107.3" cy="128.3" rx="2.80" ry="2.65" fill="#ff3a3a"/>
<ellipse cx="175.9" cy="128.3" rx="2.80" ry="2.65" fill="#7878ff"/>
<ellipse cx="177.7" cy="96.8" rx="2.80" ry="2.65" fill="#a9a9ff"/>
<ellipse cx="155.9" cy="107.3" rx="2.80" ry="2.65" fill="#a6a6ff"/>
<ellipse cx="186.8" cy="105.7" rx="2.80" ry="2.65" fill="#8e8eff"/>
<ellipse cx="84.2" cy="95.7" rx="2.80" ry="2.65" fill="#ff9090"/>
<ellipse cx="112.6" cy="101.7" rx="2.80" ry="2.65" fill="#ff7474"/>
<ellipse cx="95.1" cy="37.3" rx="2.80" ry="2.65" fill="#ffc8c8"/>
<ellipse cx="182.0" cy="130.7" rx="2.80" ry="2.65" fill="#7575ff"/>
<ellipse cx="193.7" cy="136.2" rx="2.80" ry="2.65" fill="#4646ff"/>
<ellipse cx="96.8" cy="96.8" rx="2.80" ry="2.65" fill="#ff9393"/>
<ellipse cx="111.3" cy="61.1" rx="2.80" ry="2.65" fill="#ffcdcd"/>
<ellipse cx="76.0" cy="135.3" rx="2.80" ry="2.65" fill="#ff0d0d"/>
<ellipse cx="168.1" cy="139.9" rx="2.80" ry="2.65" fill="#6e6eff"/>
<ellipse cx="166.6" cy="115.3" rx="2.80" ry="2.65" fill="#8a8aff"/>
<ellipse cx="163.7" cy="46.2" rx="2.80" ry="2.65" fill="#e9e9ff"/>
<ellipse cx="156.6" cy="136.2" rx="2.80" ry="2.65" fill="#a9a9ff"/>
<ellipse cx="176.7" cy="125.9" rx="2.80" ry="2.65" fill="#8c8cff"/>
<ellipse cx="104.3" cy="161.5" rx="2.80" ry="2.65" fill="#ff0000"/>
<ellipse cx="103.4" cy="121.2" rx="2.80" ry="2.65" fill="#ff5454"/>
<ellipse cx="105.8" cy="92.7" rx="2.80" ry="2.65" fill="#ffa2a2"/>
<ellipse cx="183.8" cy="140.4" rx="2.80" ry="2.65" fill="#8989ff"/>
<ellipse cx="153.0" cy="130.6" rx="2.80" ry="2.65" fill="#b3b3ff"/>
<ellipse cx="84.0" cy="120.9" rx="2.80" ry="2.65" fill="#ff6363"/>
<ellipse cx="194.0" cy="95.4" rx="2.80" ry="2.65" fill="#3636ff"/>
<ellipse cx="193.9" cy="63.3" rx="2.80" ry="2.65" fill="#dedeff"/>
<ellipse cx="100.1" cy="93.2" rx="2.80" ry="2.65" fill="#ff9494"/>
<ellipse cx="159.1" cy="129.5" rx="2.80" ry="2.65" fill="#9393ff"/>
<ellipse cx="88.6" cy="177.9" rx="2.80" ry="2.65" fill="#ff0000"/>
<ellipse cx="109.4" cy="122.5" rx="2.80" ry="2.65" fill="#ff4b4b"/>
<ellipse cx="166.6" cy="141.4" rx="2.80" ry="2.65" fill="#9696ff"/>
<ellipse cx="199.0" cy="82.7" rx="2.80" ry="2.65" fill="#1313ff"/>
<ellipse cx="181.8" cy="124.5" rx="2.80" ry="2.65" fill="#8888ff"/>
<ellipse cx="101.9" cy="105.4" rx="2.80" ry="2.65" fill="#ff7272"/>
<ellipse cx="157.2" cy="121.2" rx="2.80" ry="2.65" fill="#b3b3ff"/>
<ellipse cx="249.0" cy="152.0" rx="2.80" ry="2.65" fill="#0000ff"/>
<ellipse cx="247.9" cy="150.2" rx="2.80" ry="2.65" fill="#0000ff"/>
<ellipse cx="77.4" cy="97.1" rx="2.80" ry="2.65" fill="#ff6565"/>
<ellipse cx="189.0" cy="134.6" rx="2.80" ry="2.65" fill="#6d6dff"/>
<ellipse cx="83.4" cy="94.0" rx="2.80" ry="2.65" fill="#ff8888"/>
<ellipse cx="163.9" cy="135.9" rx="2.80" ry="2.65" fill="#adadff"/>
<ellipse cx="88.6" cy="83.3" rx="2.80" ry="2.65" fill="#ffb9b9"/>
<ellipse cx="247.4" cy="138.3" rx="2.80" ry="2.65" fill="#0000ff"/>
<ellipse cx="199.8" cy="71.7" rx="2.80" ry="2.65" fill="#d3d3ff"/>
<ellipse cx="195.7" cy="97.5" rx="2.80" ry="2.65" fill="#4040ff"/>
<ellipse cx="116.4" cy="71.1" rx="2.80" ry="2.65" fill="#ffb6b6"/>
<ellipse cx="232.9" cy="140.3" rx="2.80" ry="2.65" fill="#0b0bff"/>
<ellipse cx="170.8" cy="117.7" rx="2.80" ry="2.65" fill="#a3a3ff"/>
<ellipse cx="163.0" cy="135.7" rx="2.80" ry="2.65" fill="#7979ff"/>
<ellipse cx="152.9" cy="111.7" rx="2.80" ry="2.65" fill="#b7b7ff"/>
<ellipse cx="85.6" cy="61.6" rx="2.80" ry="2.65" fill="#ffbdbd"/>
<ellipse cx="220.2" cy="135.8" rx="2.80" ry="2.65" fill="#1010ff"/>
<ellipse cx="192.9" cy="160.9" rx="2.80" ry="2.65" fill="#0000ff"/>
<ellipse cx="99.7" cy="58.4" rx="2.80" ry="2.65" fill="#ffcdcd"/>
<ellipse cx="171.0" cy="62.6" rx="2.80" ry="2.65" fill="#e8e8ff"/>
<ellipse cx="100.6" cy="98.2" rx="2.80" ry="2.65" fill="#ff8d8d"/>
<ellipse cx="184.2" cy="55.3" rx="2.80" ry="2.65" fill="#ceceff"/>
<ellipse cx="70.5" cy="118.0" rx="2.80" ry="2.65" fill="#ff5050"/>
<ellipse cx="92.0" cy="150.4" rx="2.80" ry="2.65" fill="#ff0000"/>
<ellipse cx="159.5" cy="98.4" rx="2.80" ry="2.65" fill="#b5b5ff"/>
<ellipse cx="198.5" cy="100.2" rx="2.80" ry="2.65" fill="#8c8cff"/>
<ellipse cx="88.8" cy="165.2" rx="2.80" ry="2.65" fill="#ff0000"/>
<ellipse cx="193.3" cy="120.7" rx="2.80" ry="2.65" fill="#8787ff"/>
<ellipse cx="109.8" cy="176.8" rx="2.80" ry="2.65" fill="#ff0000"/>
<ellipse cx="82.7" cy="95.7" rx="2.80" ry="2.65" fill="#ff8f8f"/>
<ellipse cx="83.5" cy="122.5" rx="2.80" ry="2.65" fill="#ff4242"/>
<ellipse cx="209.2" cy="103.4" rx="2.80" ry="2.65" fill="#4c4cff"/>
<ellipse cx="158.4" cy="100.7" rx="2.80" ry="2.65" fill="#8080ff"/>
<ellipse cx="181.1" cy="161.6" rx="2.80" ry="2.65" fill="#0000ff"/>
<ellipse cx="169.2" cy="107.3" rx="2.80" ry="2.65" fill="#b4b4ff"/>
<ellipse cx="117.0" cy="112.0" rx="2.80" ry="2.65" fill="#ff5050"/>
<ellipse cx="178.8" cy="118.3" rx="2.80" ry="2.65" fill="#8686ff"/>
<ellipse cx="192.3" cy="134.6" rx="2.80" ry="2.65" fill="#0a0aff"/>
<ellipse cx="101.3" cy="45.8" rx="2.80" ry="2.65" fill="#ffcfcf"/>
<ellipse cx="97.9" cy="168.0" rx="2.80" ry="2.65" fill="#ff0000"/>
<ellipse cx="80.3" cy="86.2" rx="2.80" ry="2.65" fill="#ffb1b1"/>
<ellipse cx="91.7" cy="92.4" rx="2.80" ry="2.65" fill="#ff8a8a"/>
<ellipse cx="196.2" cy="134.2" rx="2.80" ry="2.65" fill="#1919ff"/>
<ellipse cx="148.4" cy="80.7" rx="2.80" ry="2.65" fill="#ceceff"/>
<ellipse cx="209.1" cy="106.5" rx="2.80" ry="2.65" fill="#1010ff"/>
<ellipse cx="111.9" cy="119.8" rx="2.80" ry="2.65" fill="#ff4c4c"/>
<ellipse cx="173.6" cy="37.1" rx="2.80" ry="2.65" fill="#eeeeff"/>
<ellipse cx="111.3" cy="104.9" rx="2.80" ry="2.65" fill="#ff7373"/>
<ellipse cx="177.7" cy="104.7" rx="2.80" ry="2.65" fill="#aaaaff"/>
<ellipse cx="83.9" cy="128.2" rx="2.80" ry="2.65" fill="#ff2e2e"/>
<ellipse cx="92.4" cy="63.2" rx="2.80" ry="2.65" fill="#ffc0c0"/>
<ellipse cx="155.1" cy="30.9" rx="2.80" ry="2.65" fill="#e6e6ff"/>
<ellipse cx="98.6" cy="154.3" rx="2.80" ry="2.65" fill="#ff0000"/>
<ellipse cx="202.3" cy="105.6" rx="2.80" ry="2.65" fill="#3131ff"/>
<ellipse cx="103.1" cy="85.5" rx="2.80" ry="2.65" fill="#ffb8b8"/>
<ellipse cx="200.8" cy="77.5" rx="2.80" ry="2.65" fill="#1111ff"/>
<ellipse cx="165.3" cy="73.7" rx="2.80" ry="2.65" fill="#bfbfff"/>
<ellipse cx="84.0" cy="138.4" rx="2.80" ry="2.65" fill="#ff0505"/>
<ellipse cx="82.0" cy="130.5" rx="2.80" ry="2.65" fill="#ff3535"/>
<ellipse cx="171.0" cy="48.5" rx="2.80" ry="2.65" fill="#d3d3ff"/>
<ellipse cx="86.6" cy="99.4" rx="2.80" ry="2.65" fill="#ff6b6b"/>
<ellipse cx="186.4" cy="132.2" rx="2.80" ry="2.65" fill="#7171ff"/>
<ellipse cx="82.4" cy="132.2" rx="2.80" ry="2.65" fill="#ff2a2a"/>
<ellipse cx="74.6" cy="99.3" rx="2.80" ry="2.65" fill="#ff8282"/>
<ellipse cx="192.6" cy="91.0" rx="2.80" ry="2.65" fill="#7474ff"/>
<ellipse cx="209.0" cy="151.1" rx="2.80" ry="2.65" fill="#1010ff"/>
<ellipse cx="196.4" cy="95.2" rx="2.80" ry="2.65" fill="#7979ff"/>
<ellipse cx="111.8" cy="152.6" rx="2.80" ry="2.65" fill="#ff0000"/>
<ellipse cx="170.8" cy="89.2" rx="2.80" ry="2.65" fill="#9595ff"/>
<ellipse cx="86.1" cy="177.3" rx="2.80" ry="2.65" fill="#ff0000"/>
<ellipse cx="92.3" cy="167.3" rx="2.80" ry="2.65" fill="#ff0000"/>
<ellipse cx="110.5" cy="95.4" rx="2.80" ry="2.65" fill="#ff9d9d"/>
<ellipse cx="210.7" cy="127.2" rx="2.80" ry="2.65" fill="#1111ff"/>
<ellipse cx="92.9" cy="189.5" rx="2.80" ry="2.65" fill="#ff0000"/>
<ellipse cx="164.1" cy="132.9" rx="2.80" ry="2.65" fill="#8282ff"/>
<ellipse cx="108.8" cy="63.4" rx="2.80" ry="2.65" fill="#ffb9b9"/>
<ellipse cx="159.6" cy="66.8" rx="2.80" ry="2.65" fill="#e5e5ff"/>
<ellipse cx="174.1" cy="86.2" rx="2.80" ry="2.65" fill="#a4a4ff"/>
<ellipse cx="106.8" cy="64.7" rx="2.80" ry="2.65" fill="#ffbfbf"/>
<ellipse cx="176.4" cy="48.0" rx="2.80" ry="2.65" fill="#e0e0ff"/>
<ellipse cx="148.1" cy="103.2" rx="2.80" ry="2.65" fill="#a9a9ff"/>
<ellipse cx="187.1" cy="85.1" rx="2.80" ry="2.65" fill="#cdcdff"/>
<ellipse cx="151.9" cy="33.2" rx="2.80" ry="2.65" fill="#efefff"/>
<ellipse cx="199.1" cy="79.1" rx="2.80" ry="2.65" fill="#d3d3ff"/>
<ellipse cx="196.0" cy="107.9" rx="2.80" ry="2.65" fill="#3c3cff"/>
<ellipse cx="85.6" cy="164.0" rx="2.80" ry="2.65" fill="#ff0000"/>
<ellipse cx="166.8" cy="95.9" rx="2.80" ry="2.65" fill="#b8b8ff"/>
<ellipse cx="158.6" cy="93.1" rx="2.80" ry="2.65" fill="#b0b0ff"/>
<ellipse cx="196.5" cy="155.0" rx="2.80" ry="2.65" fill="#0000ff"/>
<ellipse cx="154.4" cy="38.2" rx="2.80" ry="2.65" fill="#ececff"/>
<ellipse cx="202.3" cy="93.3" rx="2.80" ry="2.65" fill="#1010ff"/>
<ellipse cx="197.0" cy="134.6" rx="2.80" ry="2.65" fill="#0a0aff"/>
<ellipse cx="202.6" cy="103.8" rx="2.80" ry="2.65" fill="#7474ff"/>
<ellipse cx="174.5" cy="123.0" rx="2.80" ry="2.65" fill="#9494ff"/>
<ellipse cx="101.1" cy="116.1" rx="2.80" ry="2.65" fill="#ff6464"/>
<ellipse cx="76.2" cy="137.8" rx="2.80" ry="2.65" fill="#ff2a2a"/>
<ellipse cx="120.2" cy="78.3" rx="2.80" ry="2.65" fill="#ffb9b9"/>
<ellipse cx="237.6" cy="156.9" rx="2.80" ry="2.65" fill="#0000ff"/>
<ellipse cx="198.4" cy="75.5" rx="2.80" ry="2.65" fill="#b3b3ff"/>
<ellipse cx="155.1" cy="134.5" rx="2.80" ry="2.65" fill="#8e8eff"/>
<ellipse cx="194.6" cy="117.8" rx="2.80" ry="2.65" fill="#8686ff"/>
<ellipse cx="172.1" cy="123.7" rx="2.80" ry="2.65" fill="#a5a5ff"/>
<ellipse cx="114.6" cy="37.3" rx="2.80" ry="2.65" fill="#ffd7d7"/>
<ellipse cx="177.9" cy="140.0" rx="2.80" ry="2.65" fill="#7f7fff"/>
<ellipse cx="196.1" cy="125.3" rx="2.80" ry="2.65" fill="#6262ff"/>
<ellipse cx="204.6" cy="92.4" rx="2.80" ry="2.65" fill="#4848ff"/>
<ellipse cx="197.3" cy="146.0" rx="2.80" ry="2.65" fill="#1919ff"/>
<ellipse cx="149.4" cy="61.8" rx="2.80" ry="2.65" fill="#ededff"/>
<ellipse cx="96.3" cy="157.8" rx="2.80" ry="2.65" fill="#ff0000"/>
<ellipse cx="187.2" cy="79.1" rx="2.80" ry="2.65" fill="#e4e4ff"/>
<ellipse cx="205.8" cy="76.5" rx="2.80" ry="2.65" fill="#1818ff"/>
<ellipse cx="124.8" cy="86.4" rx="2.80" ry="2.65" fill="#ffa1a1"/>
<ellipse cx="81.5" cy="106.6" rx="2.80" ry="2.65" fill="#ff5252"/>
<ellipse cx="210.0" cy="97.4" rx="2.80" ry="2.65" fill="#4444ff"/>
<ellipse cx="206.8" cy="109.4" rx="2.80" ry="2.65" fill="#1818ff"/>
<ellipse cx="174.4" cy="105.1" rx="2.80" ry="2.65" fill="#8c8cff"/>
<ellipse cx="102.2" cy="136.3" rx="2.80" ry="2.65" fill="#ff2d2d"/>
<ellipse cx="90.1" cy="74.4" rx="2.80" ry="2.65" fill="#ffb0b0"/>
<ellipse cx="125.7" cy="77.2" rx="2.80" ry="2.65" fill="#ffafaf"/>
<ellipse cx="148.9" cy="83.1" rx="2.80" ry="2.65" fill="#d4d4ff"/>
<ellipse cx="160.6" cy="122.0" rx="2.80" ry="2.65" fill="#8e8eff"/>
<ellipse cx="111.6" cy="88.0" rx="2.80" ry="2.65" fill="#ffa5a5"/>
<ellipse cx="84.6" cy="161.1" rx="2.80" ry="2.65" fill="#ff0000"/>
<ellipse cx="186.0" cy="58.3" rx="2.80" ry="2.65" fill="#e4e4ff"/>
<ellipse cx="115.2" cy="44.7" rx="2.80" ry="2.65" fill="#ffe0e0"/>
<ellipse cx="183.0" cy="87.5" rx="2.80" ry="2.65" fill="#9c9cff"/>
<ellipse cx="203.5" cy="80.2" rx="2.80" ry="2.65" fill="#0000ff"/>
<ellipse cx="149.4" cy="111.3" rx="2.80" ry="2.65" fill="#bfbfff"/>
<ellipse cx="217.6" cy="125.8" rx="2.80" ry="2.65" fill="#1010ff"/>
<ellipse cx="100.1" cy="86.4" rx="2.80" ry="2.65" fill="#ff9797"/>
<ellipse cx="169.9" cy="28.6" rx="2.80" ry="2.65" fill="#efefff"/>
<ellipse cx="83.8" cy="92.2" rx="2.80" ry="2.65" fill="#ff9696"/>
<ellipse cx="191.2" cy="108.3" rx="2.80" ry="2.65" fill="#3f3fff"/>
<ellipse cx="193.6" cy="83.9" rx="2.80" ry="2.65" fill="#1717ff"/>
<ellipse cx="70.6" cy="118.4" rx="2.80" ry="2.65" fill="#ff4343"/>
<ellipse cx="180.0" cy="62.9" rx="2.80" ry="2.65" fill="#dfdfff"/>
<ellipse cx="201.2" cy="98.4" rx="2.80" ry="2.65" fill="#4a4aff"/>
<ellipse cx="169.0" cy="17.5" rx="2.80" ry="2.65" fill="#ededff"/>
<ellipse cx="161.3" cy="78.8" rx="2.80" ry="2.65" fill="#ddddff"/>
<ellipse cx="87.3" cy="132.0" rx="2.80" ry="2.65" fill="#ff2525"/>
<ellipse cx="190.5" cy="125.8" rx="2.80" ry="2.65" fill="#6464ff"/>
<ellipse cx="223.3" cy="125.0" rx="2.80" ry="2.65" fill="#1111ff"/>
<ellipse cx="101.3" cy="189.6" rx="2.80" ry="2.65" fill="#ff0000"/>
<ellipse cx="89.4" cy="137.3" rx="2.80" ry="2.65" fill="#ff1a1a"/>
<ellipse cx="215.7" cy="148.1" rx="2.80" ry="2.65" fill="#1111ff"/>
<ellipse cx="94.3" cy="130.8" rx="2.80" ry="2.65" fill="#ff3535"/>
<ellipse cx="167.6" cy="97.6" rx="2.80" ry="2.65" fill="#adadff"/>
<ellipse cx="206.7" cy="96.7" rx="2.80" ry="2.65" fill="#1414ff"/>
<ellipse cx="167.6" cy="132.8" rx="2.80" ry="2.65" fill="#9292ff"/>
<ellipse cx="91.8" cy="95.6" rx="2.80" ry="2.65" fill="#ff9a9a"/>
<ellipse cx="101.6" cy="88.0" rx="2.80" ry="2.65" fill="#ff9d9d"/>
<ellipse cx="187.5" cy="145.3" rx="2.80" ry="2.65" fill="#0000ff"/>
<ellipse cx="94.6" cy="60.5" rx="2.80" ry="2.65" fill="#ffcaca"/>
<ellipse cx="81.0" cy="156.0" rx="2.80" ry="2.65" fill="#ff0000"/>
<ellipse cx="218.5" cy="153.6" rx="2.80" ry="2.65" fill="#0a0aff"/>
<ellipse cx="106.7" cy="65.8" rx="2.80" ry="2.65" fill="#ffecec"/>
<ellipse cx="172.9" cy="104.2" rx="2.80" ry="2.65" fill="#8e8eff"/>
<ellipse cx="221.3" cy="140.9" rx="2.80" ry="2.65" fill="#1111ff"/>
<ellipse cx="69.0" cy="134.6" rx="2.80" ry="2.65" fill="#ff0000"/>
<ellipse cx="95.2" cy="115.6" rx="2.80" ry="2.65" fill="#ff5b5b"/>
<ellipse cx="101.6" cy="71.7" rx="2.80" ry="2.65" fill="#ffc3c3"/>
<ellipse cx="104.1" cy="176.3" rx="2.80" ry="2.65" fill="#ff0000"/>
<ellipse cx="166.8" cy="141.8" rx="2.80" ry="2.65" fill="#9e9eff"/>
<ellipse cx="109.4" cy="124.7" rx="2.80" ry="2.65" fill="#ff3131"/>
<ellipse cx="158.0" cy="118.2" rx="2.80" ry="2.65" fill="#9c9cff"/>
<ellipse cx="89.4" cy="63.3" rx="2.80" ry="2.65" fill="#ffb0b0"/>
<ellipse cx="203.0" cy="82.6" rx="2.80" ry="2.65" fill="#1010ff"/>
<ellipse cx="201.6" cy="125.3" rx="2.80" ry="2.65" fill="#1d1dff"/>
<ellipse cx="173.1" cy="103.8" rx="2.80" ry="2.65" fill="#7474ff"/>
<ellipse cx="198.9" cy="106.1" rx="2.80" ry="2.65" fill="#7a7aff"/>
<ellipse cx="74.6" cy="136.5" rx="2.80" ry="2.65" fill="#ff1e1e"/>
<ellipse cx="103.4" cy="192.5" rx="2.80" ry="2.65" fill="#ff0000"/>
<ellipse cx="206.4" cy="75.8" rx="2.80" ry="2.65" fill="#1616ff"/>
<ellipse cx="201.1" cy="111.7" rx="2.80" ry="2.65" fill="#7c7cff"/>
<ellipse cx="94.9" cy="102.1" rx="2.80" ry="2.65" fill="#ff8787"/>
<ellipse cx="104.9" cy="158.8" rx="2.80" ry="2.65" fill="#ff0000"/>
<ellipse cx="159.4" cy="133.5" rx="2.80" ry="2.65" fill="#bebeff"/>
<ellipse cx="183.8" cy="105.9" rx="2.80" ry="2.65" fill="#9292ff"/>
<ellipse cx="201.6" cy="105.6" rx="2.80" ry="2.65" fill="#3333ff"/>
<ellipse cx="176.7" cy="128.2" rx="2.80" ry="2.65" fill="#7272ff"/>
<ellipse cx="192.5" cy="107.2" rx="2.80" ry="2.65" fill="#3e3eff"/>
<ellipse cx="117.2" cy="59.2" rx="2.80" ry="2.65" fill="#ffb7b7"/>
<ellipse cx="88.4" cy="166.4" rx="2.80" ry="2.65" fill="#ff0000"/>
<ellipse cx="113.6" cy="119.8" rx="2.80" ry="2.65" fill="#ff3f3f"/>
<ellipse cx="192.4" cy="84.8" rx="2.80" ry="2.65" fill="#7575ff"/>
<ellipse cx="80.5" cy="134.1" rx="2.80" ry="2.65" fill="#ff1b1b"/>
<ellipse cx="160.8" cy="32.5" rx="2.80" ry="2.65" fill="#f1f1ff"/>
<ellipse cx="98.1" cy="107.5" rx="2.80" ry="2.65" fill="#ff7f7f"/>
<ellipse cx="88.5" cy="48.2" rx="2.80" ry="2.65" fill="#ffc5c5"/>
<ellipse cx="106.1" cy="51.9" rx="2.80" ry="2.65" fill="#ffbfbf"/>
<ellipse cx="199.9" cy="140.3" rx="2.80" ry="2.65" fill="#0c0cff"/>
<ellipse cx="166.8" cy="76.0" rx="2.80" ry="2.65" fill="#d6d6ff"/>
<ellipse cx="199.3" cy="105.0" rx="2.80" ry="2.65" fill="#7272ff"/>
<ellipse cx="198.6" cy="84.7" rx="2.80" ry="2.65" fill="#7575ff"/>
<ellipse cx="163.8" cy="113.7" rx="2.80" ry="2.65" fill="#9999ff"/>
<ellipse cx="217.9" cy="148.0" rx="2.80" ry="2.65" fill="#0505ff"/>
<ellipse cx="99.4" cy="118.3" rx="2.80" ry="2.65" fill="#ff5a5a"/>
<ellipse cx="72.8" cy="138.5" rx="2.80" ry="2.65" fill="#ff0505"/>
<ellipse cx="106.6" cy="146.5" rx="2.80" ry="2.65" fill="#ff0505"/>
<ellipse cx="244.8" cy="146.0" rx="2.80" ry="2.65" fill="#0000ff"/>
<ellipse cx="107.7" cy="51.4" rx="2.80" ry="2.65" fill="#ffc1c1"/>
<ellipse cx="86.0" cy="126.8" rx="2.80" ry="2.65" fill="#ff3e3e"/>
<ellipse cx="184.3" cy="127.5" rx="2.80" ry="2.65" fill="#7575ff"/>
<ellipse cx="108.1" cy="167.3" rx="2.80" ry="2.65" fill="#ff0000"/>
<ellipse cx="207.9" cy="139.5" rx="2.80" ry="2.65" fill="#0808ff"/>
<ellipse cx="103.4" cy="176.7" rx="2.80" ry="2.65" fill="#ff0000"/>
<ellipse cx="75.3" cy="94.9" rx="2.80" ry="2.65" fill="#ff8282"/>
<ellipse cx="189.4" cy="94.3" rx="2.80" ry="2.65" fill="#8484ff"/>
<ellipse cx="182.7" cy="59.3" rx="2.80" ry="2.65" fill="#dcdcff"/>
<ellipse cx="114.6" cy="97.8" rx="2.80" ry="2.65" fill="#ff8181"/>
<ellipse cx="105.4" cy="181.4" rx="2.80" ry="2.65" fill="#ff0000"/>
<ellipse cx="188.7" cy="83.0" rx="2.80" ry="2.65" fill="#e4e4ff"/>
<ellipse cx="97.5" cy="96.8" rx="2.80" ry="2.65" fill="#ff9999"/>
<ellipse cx="176.0" cy="93.0" rx="2.80" ry="2.65" fill="#8080ff"/>
<ellipse cx="103.6" cy="178.3" rx="2.80" ry="2.65" fill="#ff0000"/>
<ellipse cx="102.8" cy="97.6" rx="2.80" ry="2.65" fill="#ff9292"/>
<ellipse cx="88.0" cy="181.8" rx="2.80" ry="2.65" fill="#ff0000"/>
<ellipse cx="100.6" cy="108.1" rx="2.80" ry="2.65" fill="#ff7c7c"/>
<ellipse cx="87.7" cy="179.8" rx="2.80" ry="2.65" fill="#ff0000"/>
<ellipse cx="162.5" cy="93.1" rx="2.80" ry="2.65" fill="#a4a4ff"/>
<ellipse cx="154.9" cy="87.9" rx="2.80" ry="2.65" fill="#c4c4ff"/>
<ellipse cx="92.2" cy="93.7" rx="2.80" ry="2.65" fill="#ff8b8b"/>
<ellipse cx="106.4" cy="136.2" rx="2.80" ry="2.65" fill="#ff0a0a"/>
<ellipse cx="124.6" cy="83.1" rx="2.80" ry="2.65" fill="#ff9797"/>
<ellipse cx="165.0" cy="62.4" rx="2.80" ry="2.65" fill="#e3e3ff"/>
<ellipse cx="83.3" cy="105.5" rx="2.80" ry="2.65" fill="#ff7272"/>
<ellipse cx="154.1" cy="130.3" rx="2.80" ry="2.65" fill="#9f9fff"/>
<ellipse cx="93.8" cy="101.5" rx="2.80" ry="2.65" fill="#ff7474"/>
<ellipse cx="108.9" cy="136.1" rx="2.80" ry="2.65" fill="#ff2e2e"/>
<ellipse cx="107.1" cy="150.5" rx="2.80" ry="2.65" fill="#ff0000"/>
<ellipse cx="90.8" cy="151.8" rx="2.80" ry="2.65" fill="#ff0000"/>
<ellipse cx="193.8" cy="135.6" rx="2.80" ry="2.65" fill="#0a0aff"/>
<ellipse cx="150.2" cy="99.0" rx="2.80" ry="2.65" fill="#aaaaff"/>
<ellipse cx="71.4" cy="141.9" rx="2.80" ry="2.65" fill="#ff1d1d"/>
<ellipse cx="146.1" cy="100.5" rx="2.80" ry="2.65" fill="#b3b3ff"/>
<ellipse cx="164.3" cy="27.7" rx="2.80" ry="2.65" fill="#eaeaff"/>
<ellipse cx="96.6" cy="46.2" rx="2.80" ry="2.65" fill="#ffd6d6"/>
<ellipse cx="115.4" cy="157.0" rx="2.80" ry="2.65" fill="#ff0000"/>
<ellipse cx="191.1" cy="91.4" rx="2.80" ry="2.65" fill="#3b3bff"/>
<ellipse cx="75.3" cy="105.7" rx="2.80" ry="2.65" fill="#ff8080"/>
<ellipse cx="83.2" cy="131.3" rx="2.80" ry="2.65" fill="#ff2a2a"/>
<ellipse cx="147.3" cy="54.2" rx="2.80" ry="2.65" fill="#e2e2ff"/>
<ellipse cx="155.4" cy="108.5" rx="2.80" ry="2.65" fill="#c1c1ff"/>
<ellipse cx="174.7" cy="96.2" rx="2.80" ry="2.65" fill="#9494ff"/>
<ellipse cx="115.2" cy="50.5" rx="2.80" ry="2.65" fill="#ffe7e7"/>
<ellipse cx="93.5" cy="71.9" rx="2.80" ry="2.65" fill="#ffcdcd"/>
<ellipse cx="91.8" cy="161.8" rx="2.80" ry="2.65" fill="#ff0000"/>
<ellipse cx="189.7" cy="64.8" rx="2.80" ry="2.65" fill="#dadaff"/>
<ellipse cx="190.4" cy="110.4" rx="2.80" ry="2.65" fill="#7979ff"/>
<ellipse cx="216.2" cy="106.6" rx="2.80" ry="2.65" fill="#1e1eff"/>
<ellipse cx="78.3" cy="160.7" rx="2.80" ry="2.65" fill="#ff0000"/>
<ellipse cx="190.6" cy="146.5" rx="2.80" ry="2.65" fill="#1818ff"/>
<ellipse cx="80.0" cy="133.6" rx="2.80" ry="2.65" fill="#ff2626"/>
<ellipse cx="122.6" cy="79.2" rx="2.80" ry="2.65" fill="#ffb1b1"/>
<ellipse cx="204.5" cy="84.2" rx="2.80" ry="2.65" fill="#1111ff"/>
<ellipse cx="86.1" cy="108.8" rx="2.80" ry="2.65" fill="#ff6d6d"/>
<ellipse cx="97.6" cy="92.9" rx="2.80" ry="2.65" fill="#ff8f8f"/>
<ellipse cx="134.0" cy="88.4" rx="2.80" ry="2.65" fill="#ffabab"/>
<ellipse cx="113.4" cy="97.3" rx="2.80" ry="2.65" fill="#ff9292"/>
<ellipse cx="111.3" cy="116.2" rx="2.80" ry="2.65" fill="#ff5858"/>
<ellipse cx="90.1" cy="133.3" rx="2.80" ry="2.65" fill="#ff3131"/>
<ellipse cx="80.6" cy="147.0" rx="2.80" ry="2.65" fill="#ff1010"/>
<ellipse cx="208.3" cy="98.9" rx="2.80" ry="2.65" fill="#4747ff"/>
<ellipse cx="95.5" cy="130.5" rx="2.80" ry="2.65" fill="#ff3232"/>
<ellipse cx="175.0" cy="88.3" rx="2.80" ry="2.65" fill="#afafff"/>
<ellipse cx="199.0" cy="79.1" rx="2.80" ry="2.65" fill="#babaff"/>
<ellipse cx="158.6" cy="86.0" rx="2.80" ry="2.65" fill="#b5b5ff"/>
<ellipse cx="192.9" cy="77.3" rx="2.80" ry="2.65" fill="#dfdfff"/>
<ellipse cx="102.9" cy="53.0" rx="2.80" ry="2.65" fill="#ffcbcb"/>
<ellipse cx="102.9" cy="119.1" rx="2.80" ry="2.65" fill="#ff4b4b"/>
<ellipse cx="101.1" cy="114.8" rx="2.80" ry="2.65" fill="#ff5e5e"/>
<ellipse cx="110.3" cy="121.4" rx="2.80" ry="2.65" fill="#ff4d4d"/>
<ellipse cx="72.9" cy="130.2" rx="2.80" ry="2.65" fill="#ff3a3a"/>
<ellipse cx="160.3" cy="97.3" rx="2.80" ry="2.65" fill="#b5b5ff"/>
<ellipse cx="103.8" cy="135.8" rx="2.80" ry="2.65" fill="#ff2020"/>
<ellipse cx="147.3" cy="128.3" rx="2.80" ry="2.65" fill="#a7a7ff"/>
<ellipse cx="120.2" cy="102.1" rx="2.80" ry="2.65" fill="#ff7070"/>
<ellipse cx="195.7" cy="92.7" rx="2.80" ry="2.65" fill="#9d9dff"/>
<ellipse cx="85.9" cy="128.3" rx="2.80" ry="2.65" fill="#ff3232"/>
<ellipse cx="191.8" cy="94.2" rx="2.80" ry="2.65" fill="#5050ff"/>
<ellipse cx="115.4" cy="42.4" rx="2.80" ry="2.65" fill="#ffcfcf"/>
<ellipse cx="108.0" cy="177.4" rx="2.80" ry="2.65" fill="#ff0000"/>
<ellipse cx="181.8" cy="103.2" rx="2.80" ry="2.65" fill="#8484ff"/>
<ellipse cx="185.6" cy="60.8" rx="2.80" ry="2.65" fill="#cfcfff"/>
<ellipse cx="87.1" cy="105.0" rx="2.80" ry="2.65" fill="#ff6b6b"/>
<ellipse cx="198.3" cy="131.5" rx="2.80" ry="2.65" fill="#6c6cff"/>
<ellipse cx="101.1" cy="39.4" rx="2.80" ry="2.65" fill="#ffcdcd"/>
<ellipse cx="91.4" cy="65.1" rx="2.80" ry="2.65" fill="#ffa3a3"/>
<ellipse cx="119.0" cy="88.0" rx="2.80" ry="2.65" fill="#ffa8a8"/>
<ellipse cx="147.1" cy="106.1" rx="2.80" ry="2.65" fill="#b1b1ff"/>
<ellipse cx="75.0" cy="100.8" rx="2.80" ry="2.65" fill="#ff8383"/>
<ellipse cx="111.2" cy="93.6" rx="2.80" ry="2.65" fill="#ff9595"/>
<ellipse cx="84.7" cy="121.3" rx="2.80" ry="2.65" fill="#ff5252"/>
<ellipse cx="88.7" cy="120.9" rx="2.80" ry="2.65" fill="#ff5656"/>
<ellipse cx="106.6" cy="90.3" rx="2.80" ry="2.65" fill="#ff9696"/>
<ellipse cx="251.0" cy="153.3" rx="2.80" ry="2.65" fill="#0000ff"/>
<ellipse cx="154.8" cy="130.1" rx="2.80" ry="2.65" fill="#b4b4ff"/>
<ellipse cx="94.3" cy="183.7" rx="2.80" ry="2.65" fill="#ff0000"/>
<ellipse cx="105.7" cy="71.3" rx="2.80" ry="2.65" fill="#ffadad"/>
<ellipse cx="194.6" cy="105.4" rx="2.80" ry="2.65" fill="#3030ff"/>
<ellipse cx="108.5" cy="143.0" rx="2.80" ry="2.65" fill="#ff1515"/>
<ellipse cx="160.1" cy="93.6" rx="2.80" ry="2.65" fill="#a8a8ff"/>
<ellipse cx="234.5" cy="139.3" rx="2.80" ry="2.65" fill="#0000ff"/>
<ellipse cx="97.8" cy="116.9" rx="2.80" ry="2.65" fill="#ff4646"/>
<ellipse cx="114.9" cy="70.9" rx="2.80" ry="2.65" fill="#ffaeae"/>
<ellipse cx="74.9" cy="138.7" rx="2.80" ry="2.65" fill="#ff2e2e"/>
<ellipse cx="98.5" cy="70.2" rx="2.80" ry="2.65" fill="#ffd3d3"/>
<ellipse cx="206.8" cy="96.6" rx="2.80" ry="2.65" fill="#2f2fff"/>
<ellipse cx="92.3" cy="190.7" rx="2.80" ry="2.65" fill="#ff0000"/>
<ellipse cx="112.6" cy="83.9" rx="2.80" ry="2.65" fill="#ff9191"/>
<ellipse cx="149.1" cy="102.5" rx="2.80" ry="2.65" fill="#b9b9ff"/>
<ellipse cx="176.9" cy="133.5" rx="2.80" ry="2.65" fill="#8e8eff"/>
<ellipse cx="215.1" cy="146.0" rx="2.80" ry="2.65" fill="#0f0fff"/>
<ellipse cx="98.9" cy="147.8" rx="2.80" ry="2.65" fill="#ff0000"/>
<ellipse cx="190.3" cy="91.4" rx="2.80" ry="2.65" fill="#8989ff"/>
<ellipse cx="202.4" cy="121.8" rx="2.80" ry="2.65" fill="#1616ff"/>
<ellipse cx="201.0" cy="73.5" rx="2.80" ry="2.65" fill="#0000ff"/>
<ellipse cx="93.5" cy="77.0" rx="2.80" ry="2.65" fill="#ffadad"/>
<ellipse cx="84.0" cy="95.4" rx="2.80" ry="2.65" fill="#ff8888"/>
<ellipse cx="98.8" cy="67.5" rx="2.80" ry="2.65" fill="#ffc0c0"/>
<ellipse cx="74.6" cy="134.5" rx="2.80" ry="2.65" fill="#ff0c0c"/>
<ellipse cx="232.5" cy="137.0" rx="2.80" ry="2.65" fill="#0000ff"/>
<ellipse cx="184.7" cy="101.8" rx="2.80" ry="2.65" fill="#8484ff"/>
<ellipse cx="97.1" cy="127.0" rx="2.80" ry="2.65" fill="#ff3030"/>
<ellipse cx="216.1" cy="105.5" rx="2.80" ry="2.65" fill="#0101ff"/>
<ellipse cx="88.7" cy="98.8" rx="2.80" ry="2.65" fill="#ff7777"/>
<ellipse cx="105.0" cy="124.9" rx="2.80" ry="2.65" fill="#ff4b4b"/>
<ellipse cx="158.3" cy="114.7" rx="2.80" ry="2.65" fill="#b0b0ff"/>
<ellipse cx="80.5" cy="168.3" rx="2.80" ry="2.65" fill="#ff0000"/>
<ellipse cx="101.4" cy="192.6" rx="2.80" ry="2.65" fill="#ff0000"/>
<ellipse cx="100.7" cy="168.1" rx="2.80" ry="2.65" fill="#ff0000"/>
<ellipse cx="120.7" cy="83.4" rx="2.80" ry="2.65" fill="#ffb3b3"/>
<ellipse cx="185.9" cy="90.0" rx="2.80" ry="2.65" fill="#9292ff"/>
<ellipse cx="85.8" cy="118.0" rx="2.80" ry="2.65" fill="#ff5858"/>
<ellipse cx="146.1" cy="84.8" rx="2.80" ry="2.65" fill="#c6c6ff"/>
<ellipse cx="239.6" cy="135.7" rx="2.80" ry="2.65" fill="#0000ff"/>
<ellipse cx="155.3" cy="126.0" rx="2.80" ry="2.65" fill="#b3b3ff"/>
<ellipse cx="197.4" cy="88.0" rx="2.80" ry="2.65" fill="#0e0eff"/>
<ellipse cx="176.3" cy="50.4" rx="2.80" ry="2.65" fill="#cfcfff"/>
<ellipse cx="156.5" cy="64.3" rx="2.80" ry="2.65" fill="#d3d3ff"/>
<ellipse cx="111.9" cy="131.2" rx="2.80" ry="2.65" fill="#ff3737"/>
<ellipse cx="104.2" cy="134.8" rx="2.80" ry="2.65" fill="#ff4040"/>
<ellipse cx="186.9" cy="128.3" rx="2.80" ry="2.65" fill="#8a8aff"/>
<ellipse cx="105.3" cy="118.0" rx="2.80" ry="2.65" fill="#ff4c4c"/>
<ellipse cx="188.9" cy="95.9" rx="2.80" ry="2.65" fill="#9a9aff"/>
<ellipse cx="195.4" cy="131.0" rx="2.80" ry="2.65" fill="#6b6bff"/>
<ellipse cx="90.8" cy="176.1" rx="2.80" ry="2.65" fill="#ff0000"/>
<ellipse cx="211.6" cy="98.8" rx="2.80" ry="2.65" fill="#4e4eff"/>
<ellipse cx="82.9" cy="88.1" rx="2.80" ry="2.65" fill="#ff9e9e"/>
<ellipse cx="179.3" cy="137.3" rx="2.80" ry="2.65" fill="#7272ff"/>
<ellipse cx="90.8" cy="170.3" rx="2.80" ry="2.65" fill="#ff0000"/>
<ellipse cx="99.2" cy="49.3" rx="2.80" ry="2.65" fill="#ffcfcf"/>
<ellipse cx="231.3" cy="137.6" rx="2.80" ry="2.65" fill="#1c1cff"/>
<ellipse cx="173.4" cy="57.2" rx="2.80" ry="2.65" fill="#d6d6ff"/>
<ellipse cx="186.6" cy="130.7" rx="2.80" ry="2.65" fill="#7676ff"/>
<ellipse cx="85.0" cy="120.2" rx="2.80" ry="2.65" fill="#ff4242"/>
<ellipse cx="160.3" cy="83.5" rx="2.80" ry="2.65" fill="#c4c4ff"/>
<ellipse cx="111.7" cy="95.1" rx="2.80" ry="2.65" fill="#ff9696"/>
<ellipse cx="90.2" cy="113.5" rx="2.80" ry="2.65" fill="#ff6d6d"/>
<ellipse cx="110.8" cy="170.4" rx="2.80" ry="2.65" fill="#ff0000"/>
<ellipse cx="151.7" cy="36.8" rx="2.80" ry="2.65" fill="#e9e9ff"/>
<ellipse cx="146.1" cy="98.1" rx="2.80" ry="2.65" fill="#b3b3ff"/>
<ellipse cx="156.9" cy="88.6" rx="2.80" ry="2.65" fill="#a9a9ff"/>
<ellipse cx="74.1" cy="139.1" rx="2.80" ry="2.65" fill="#ff0e0e"/>
<ellipse cx="194.7" cy="60.3" rx="2.80" ry="2.65" fill="#d1d1ff"/>
<ellipse cx="197.4" cy="121.6" rx="2.80" ry="2.65" fill="#6363ff"/>
<ellipse cx="105.1" cy="153.7" rx="2.80" ry="2.65" fill="#ff0000"/>
<ellipse cx="107.4" cy="134.4" rx="2.80" ry="2.65" fill="#ff1818"/>
<ellipse cx="70.2" cy="138.2" rx="2.80" ry="2.65" fill="#ff1b1b"/>
<ellipse cx="100.3" cy="98.2" rx="2.80" ry="2.65" fill="#ff7272"/>
<ellipse cx="171.8" cy="141.7" rx="2.80" ry="2.65" fill="#9595ff"/>
<ellipse cx="174.8" cy="110.9" rx="2.80" ry="2.65" fill="#a1a1ff"/>
<ellipse cx="110.4" cy="94.8" rx="2.80" ry="2.65" fill="#ff8f8f"/>
<ellipse cx="148.7" cy="94.7" rx="2.80" ry="2.65" fill="#b1b1ff"/>
<ellipse cx="228.9" cy="138.4" rx="2.80" ry="2.65" fill="#1010ff"/>
<ellipse cx="210.7" cy="98.3" rx="2.80" ry="2.65" fill="#5555ff"/>
<ellipse cx="164.2" cy="85.6" rx="2.80" ry="2.65" fill="#d0d0ff"/>
<ellipse cx="118.1" cy="93.0" rx="2.80" ry="2.65" fill="#ffa0a0"/>
<ellipse cx="98.0" cy="146.5" rx="2.80" ry="2.65" fill="#ff1c1c"/>
<ellipse cx="96.0" cy="171.4" rx="2.80" ry="2.65" fill="#ff0000"/>
<ellipse cx="184.6" cy="95.6" rx="2.80" ry="2.65" fill="#9595ff"/>
<ellipse cx="103.0" cy="111.5" rx="2.80" ry="2.65" fill="#ff5555"/>
<ellipse cx="204.0" cy="128.9" rx="2.80" ry="2.65" fill="#1717ff"/>
<ellipse cx="112.9" cy="49.1" rx="2.80" ry="2.65" fill="#ffb6b6"/>
<ellipse cx="132.8" cy="39.8" rx="2.80" ry="2.65" fill="#ffc7c7"/>
<ellipse cx="228.3" cy="140.4" rx="2.80" ry="2.65" fill="#0e0eff"/>
<ellipse cx="108.1" cy="43.3" rx="2.80" ry="2.65" fill="#ffd3d3"/>
<ellipse cx="173.1" cy="104.9" rx="2.80" ry="2.65" fill="#a3a3ff"/>
<ellipse cx="175.3" cy="118.6" rx="2.80" ry="2.65" fill="#8c8cff"/>
<ellipse cx="88.1" cy="137.0" rx="2.80" ry="2.65" fill="#ff2727"/>
<ellipse cx="111.9" cy="121.2" rx="2.80" ry="2.65" fill="#ff4a4a"/>
<ellipse cx="86.7" cy="191.1" rx="2.80" ry="2.65" fill="#ff0000"/>
<ellipse cx="179.7" cy="68.2" rx="2.80" ry="2.65" fill="#d7d7ff"/>
<ellipse cx="97.2" cy="162.5" rx="2.80" ry="2.65" fill="#ff0000"/>
<ellipse cx="155.2" cy="118.1" rx="2.80" ry="2.65" fill="#8787ff"/>
<ellipse cx="101.0" cy="91.4" rx="2.80" ry="2.65" fill="#ffa4a4"/>
<ellipse cx="117.3" cy="75.7" rx="2.80" ry="2.65" fill="#ffa3a3"/>
<ellipse cx="74.9" cy="114.3" rx="2.80" ry="2.65" fill="#ff7e7e"/>
<ellipse cx="192.8" cy="144.6" rx="2.80" ry="2.65" fill="#0000ff"/>
<ellipse cx="256.7" cy="146.8" rx="2.80" ry="2.65" fill="#0000ff"/>
<ellipse cx="72.0" cy="120.6" rx="2.80" ry="2.65" fill="#ff4343"/>
<ellipse cx="169.0" cy="104.4" rx="2.80" ry="2.65" fill="#a9a9ff"/>
<ellipse cx="91.3" cy="75.1" rx="2.80" ry="2.65" fill="#ffbaba"/>
<ellipse cx="81.0" cy="163.1" rx="2.80" ry="2.65" fill="#ff0000"/>
<ellipse cx="80.7" cy="120.0" rx="2.80" ry="2.65" fill="#ff4b4b"/>
<ellipse cx="87.2" cy="179.1" rx="2.80" ry="2.65" fill="#ff0000"/>
<ellipse cx="194.1" cy="123.0" rx="2.80" ry="2.65" fill="#8787ff"/>
<ellipse cx="208.8" cy="95.9" rx="2.80" ry="2.65" fill="#5454ff"/>
<ellipse cx="250.0" cy="162.6" rx="2.80" ry="2.65" fill="#0000ff"/>
<ellipse cx="102.5" cy="49.8" rx="2.80" ry="2.65" fill="#ffd0d0"/>
<ellipse cx="101.2" cy="152.8" rx="2.80" ry="2.65" fill="#ff0000"/>
<ellipse cx="107.9" cy="78.7" rx="2.80" ry="2.65" fill="#ff9797"/>
<ellipse cx="92.5" cy="120.9" rx="2.80" ry="2.65" fill="#ff4c4c"/>
<ellipse cx="186.0" cy="116.0" rx="2.80" ry="2.65" fill="#8383ff"/>
<ellipse cx="107.9" cy="133.6" rx="2.80" ry="2.65" fill="#ff3939"/>
<ellipse cx="175.7" cy="75.7" rx="2.80" ry="2.65" fill="#c7c7ff"/>
<ellipse cx="148.5" cy="93.3" rx="2.80" ry="2.65" fill="#b7b7ff"/>
<ellipse cx="175.6" cy="125.4" rx="2.80" ry="2.65" fill="#9090ff"/>
<ellipse cx="89.7" cy="154.2" rx="2.80" ry="2.65" fill="#ff0000"/>
<ellipse cx="206.5" cy="99.5" rx="2.80" ry="2.65" fill="#4444ff"/>
<ellipse cx="190.0" cy="145.1" rx="2.80" ry="2.65" fill="#0505ff"/>
<ellipse cx="165.0" cy="138.7" rx="2.80" ry="2.65" fill="#9393ff"/>
<ellipse cx="76.5" cy="121.7" rx="2.80" ry="2.65" fill="#ff3030"/>
<ellipse cx="114.6" cy="87.9" rx="2.80" ry="2.65" fill="#ff9e9e"/>
<ellipse cx="186.6" cy="126.3" rx="2.80" ry="2.65" fill="#6c6cff"/>
<ellipse cx="115.6" cy="125.6" rx="2.80" ry="2.65" fill="#ff5050"/>
<ellipse cx="182.0" cy="139.5" rx="2.80" ry="2.65" fill="#6d6dff"/>
<ellipse cx="86.2" cy="116.2" rx="2.80" ry="2.65" fill="#ff6565"/>
<ellipse cx="165.1" cy="86.8" rx="2.80" ry="2.65" fill="#a8a8ff"/>
<ellipse cx="84.4" cy="165.5" rx="2.80" ry="2.65" fill="#ff0000"/>
</g>
<line x1="84.6" y1="208.0" x2="259.5" y2="208.0" stroke="#4a4a4a" stroke-width="1.4"/>
<line x1="84.6" y1="208.0" x2="84.6" y2="214.5" stroke="#4a4a4a" stroke-width="1.3"/>
<line x1="113.8" y1="208.0" x2="113.8" y2="214.5" stroke="#4a4a4a" stroke-width="1.3"/>
<line x1="142.9" y1="208.0" x2="142.9" y2="214.5" stroke="#4a4a4a" stroke-width="1.3"/>
<line x1="172.1" y1="208.0" x2="172.1" y2="214.5" stroke="#4a4a4a" stroke-width="1.3"/>
<line x1="201.2" y1="208.0" x2="201.2" y2="214.5" stroke="#4a4a4a" stroke-width="1.3"/>
<line x1="230.4" y1="208.0" x2="230.4" y2="214.5" stroke="#4a4a4a" stroke-width="1.3"/>
<line x1="259.5" y1="208.0" x2="259.5" y2="214.5" stroke="#4a4a4a" stroke-width="1.3"/>
<line x1="63.8" y1="199.3" x2="63.8" y2="42.3" stroke="#4a4a4a" stroke-width="1.4"/>
<line x1="56.8" y1="199.3" x2="63.8" y2="199.3" stroke="#4a4a4a" stroke-width="1.3"/>
<line x1="56.8" y1="167.9" x2="63.8" y2="167.9" stroke="#4a4a4a" stroke-width="1.3"/>
<line x1="56.8" y1="136.5" x2="63.8" y2="136.5" stroke="#4a4a4a" stroke-width="1.3"/>
<line x1="56.8" y1="105.1" x2="63.8" y2="105.1" stroke="#4a4a4a" stroke-width="1.3"/>
<line x1="56.8" y1="73.7" x2="63.8" y2="73.7" stroke="#4a4a4a" stroke-width="1.3"/>
<line x1="56.8" y1="42.3" x2="63.8" y2="42.3" stroke="#4a4a4a" stroke-width="1.3"/>
<text transform="translate(84.60 231.60) scale(1.000 0.920)" font-size="9.10" text-anchor="middle" font-weight="bold" fill="#4d4d4d" font-family='"DejaVu Sans", "Liberation Sans", sans-serif' >-10</text>
<text transform="translate(113.75 231.60) scale(1.000 0.920)" font-size="9.10" text-anchor="middle" font-weight="bold" fill="#4d4d4d" font-family='"DejaVu Sans", "Liberation Sans", sans-serif' >-5</text>
<text transform="translate(142.90 231.60) scale(1.000 0.920)" font-size="9.10" text-anchor="middle" font-weight="bold" fill="#4d4d4d" font-family='"DejaVu Sans", "Liberation Sans", sans-serif' >0</text>
<text transform="translate(172.05 231.60) scale(1.000 0.920)" font-size="9.10" text-anchor="middle" font-weight="bold" fill="#4d4d4d" font-family='"DejaVu Sans", "Liberation Sans", sans-serif' >5</text>
<text transform="translate(201.20 231.60) scale(1.000 0.920)" font-size="9.10" text-anchor="middle" font-weight="bold" fill="#4d4d4d" font-family='"DejaVu Sans", "Liberation Sans", sans-serif' >10</text>
<text transform="translate(230.35 231.60) scale(1.000 0.920)" font-size="9.10" text-anchor="middle" font-weight="bold" fill="#4d4d4d" font-family='"DejaVu Sans", "Liberation Sans", sans-serif' >15</text>
<text transform="translate(259.50 231.60) scale(1.000 0.920)" font-size="9.10" text-anchor="middle" font-weight="bold" fill="#4d4d4d" font-family='"DejaVu Sans", "Liberation Sans", sans-serif' >20</text>
<text transform="translate(47.30 199.30) rotate(-90)" font-size="9.30" text-anchor="middle" font-weight="bold" fill="#4d4d4d" font-family='"DejaVu Sans", "Liberation Sans", sans-serif' >-15</text>
<text transform="translate(47.30 167.90) rotate(-90)" font-size="9.30" text-anchor="middle" font-weight="bold" fill="#4d4d4d" font-family='"DejaVu Sans", "Liberation Sans", sans-serif' >-10</text>
<text transform="translate(47.30 136.50) rotate(-90)" font-size="9.30" text-anchor="middle" font-weight="bold" fill="#4d4d4d" font-family='"DejaVu Sans", "Liberation Sans", sans-serif' >-5</text>
<text transform="translate(47.30 105.10) rotate(-90)" font-size="9.30" text-anchor="middle" font-weight="bold" fill="#4d4d4d" font-family='"DejaVu Sans", "Liberation Sans", sans-serif' >0</text>
<text transform="translate(47.30 73.70) rotate(-90)" font-size="9.30" text-anchor="middle" font-weight="bold" fill="#4d4d4d" font-family='"DejaVu Sans", "Liberation Sans", sans-serif' >5</text>
<text transform="translate(47.30 42.30) rotate(-90)" font-size="9.30" text-anchor="middle" font-weight="bold" fill="#4d4d4d" font-family='"DejaVu Sans", "Liberation Sans", sans-serif' >10</text>
<text transform="translate(164.70 257.70) scale(1.000 0.920)" font-size="9.50" text-anchor="middle" font-weight="bold" fill="#4d4d4d" font-family='"DejaVu Sans", "Liberation Sans", sans-serif' >PC1 (24.25%)</text>
<text transform="translate(23.20 108.90) rotate(-90)" font-size="10.60" text-anchor="middle" font-weight="normal" fill="#2e2e2e" font-family='"DejaVu Sans", "Liberation Sans", sans-serif' >PC2 (12.27%)</text>
<clipPath id="cB"><rect x="333.5" y="11.5" width="201.8" height="196.5"/></clipPath>
<rect x="333.5" y="11.5" width="201.8" height="196.5" fill="none" stroke="#8a8a8a" stroke-width="1.3"/>
<line x1="426.5" y1="11.5" x2="426.5" y2="208.0" stroke="#cacaca" stroke-width="1.5" stroke-dasharray="3.5 3.0"/>
<line x1="333.5" y1="104.8" x2="535.3" y2="104.8" stroke="#cacaca" stroke-width="1.5" stroke-dasharray="3.5 3.0"/>
<g clip-path="url(#cB)">
<ellipse cx="428.4" cy="183.3" rx="2.80" ry="2.65" fill="#ff0000"/>
<ellipse cx="405.0" cy="62.9" rx="2.80" ry="2.65" fill="#ffe1e1"/>
<ellipse cx="421.7" cy="150.6" rx="2.80" ry="2.65" fill="#0000ff"/>
<ellipse cx="457.0" cy="103.0" rx="2.80" ry="2.65" fill="#b1b1ff"/>
<ellipse cx="391.2" cy="126.8" rx="2.80" ry="2.65" fill="#5050ff"/>
<ellipse cx="439.3" cy="20.4" rx="2.80" ry="2.65" fill="#ffe8e8"/>
<ellipse cx="372.2" cy="94.1" rx="2.80" ry="2.65" fill="#6868ff"/>
<ellipse cx="416.3" cy="131.5" rx="2.80" ry="2.65" fill="#ff2929"/>
<ellipse cx="399.7" cy="144.6" rx="2.80" ry="2.65" fill="#0000ff"/>
<ellipse cx="398.1" cy="141.6" rx="2.80" ry="2.65" fill="#0000ff"/>
<ellipse cx="388.4" cy="156.8" rx="2.80" ry="2.65" fill="#0000ff"/>
<ellipse cx="375.7" cy="133.1" rx="2.80" ry="2.65" fill="#0000ff"/>
<ellipse cx="374.7" cy="38.2" rx="2.80" ry="2.65" fill="#ffc7c7"/>
<ellipse cx="450.5" cy="142.1" rx="2.80" ry="2.65" fill="#ff3030"/>
<ellipse cx="422.2" cy="110.8" rx="2.80" ry="2.65" fill="#ff4545"/>
<ellipse cx="424.4" cy="48.6" rx="2.80" ry="2.65" fill="#ffe9e9"/>
<ellipse cx="388.2" cy="96.0" rx="2.80" ry="2.65" fill="#5c5cff"/>
<ellipse cx="408.3" cy="105.7" rx="2.80" ry="2.65" fill="#ff6060"/>
<ellipse cx="382.0" cy="87.8" rx="2.80" ry="2.65" fill="#ffa4a4"/>
<ellipse cx="369.0" cy="73.5" rx="2.80" ry="2.65" fill="#0000ff"/>
<ellipse cx="449.3" cy="148.5" rx="2.80" ry="2.65" fill="#ff0000"/>
<ellipse cx="486.0" cy="114.4" rx="2.80" ry="2.65" fill="#b1b1ff"/>
<ellipse cx="519.1" cy="76.8" rx="2.80" ry="2.65" fill="#d1d1ff"/>
<ellipse cx="439.6" cy="104.5" rx="2.80" ry="2.65" fill="#ff6767"/>
<ellipse cx="457.4" cy="103.0" rx="2.80" ry="2.65" fill="#b1b1ff"/>
<ellipse cx="398.6" cy="110.1" rx="2.80" ry="2.65" fill="#ff4848"/>
<ellipse cx="471.8" cy="121.0" rx="2.80" ry="2.65" fill="#ff5454"/>
<ellipse cx="396.0" cy="99.5" rx="2.80" ry="2.65" fill="#ff9090"/>
<ellipse cx="467.4" cy="190.3" rx="2.80" ry="2.65" fill="#ff0000"/>
<ellipse cx="379.9" cy="45.9" rx="2.80" ry="2.65" fill="#ffe0e0"/>
<ellipse cx="369.7" cy="100.4" rx="2.80" ry="2.65" fill="#6b6bff"/>
<ellipse cx="376.0" cy="70.5" rx="2.80" ry="2.65" fill="#ffbcbc"/>
<ellipse cx="425.5" cy="111.8" rx="2.80" ry="2.65" fill="#ff4747"/>
<ellipse cx="403.5" cy="133.9" rx="2.80" ry="2.65" fill="#0000ff"/>
<ellipse cx="461.6" cy="78.4" rx="2.80" ry="2.65" fill="#c3c3ff"/>
<ellipse cx="421.4" cy="156.4" rx="2.80" ry="2.65" fill="#ff0000"/>
<ellipse cx="456.5" cy="165.0" rx="2.80" ry="2.65" fill="#ff0000"/>
<ellipse cx="398.7" cy="80.1" rx="2.80" ry="2.65" fill="#ffa5a5"/>
<ellipse cx="445.4" cy="162.3" rx="2.80" ry="2.65" fill="#ff0000"/>
<ellipse cx="390.7" cy="104.8" rx="2.80" ry="2.65" fill="#5c5cff"/>
<ellipse cx="448.2" cy="178.8" rx="2.80" ry="2.65" fill="#ff0000"/>
<ellipse cx="434.4" cy="134.3" rx="2.80" ry="2.65" fill="#ff4444"/>
<ellipse cx="401.0" cy="112.2" rx="2.80" ry="2.65" fill="#4242ff"/>
<ellipse cx="423.3" cy="96.8" rx="2.80" ry="2.65" fill="#ff5f5f"/>
<ellipse cx="385.7" cy="159.2" rx="2.80" ry="2.65" fill="#0000ff"/>
<ellipse cx="432.1" cy="165.9" rx="2.80" ry="2.65" fill="#ff0000"/>
<ellipse cx="449.0" cy="122.7" rx="2.80" ry="2.65" fill="#ff3535"/>
<ellipse cx="388.9" cy="68.0" rx="2.80" ry="2.65" fill="#ffadad"/>
<ellipse cx="382.9" cy="55.3" rx="2.80" ry="2.65" fill="#ffb7b7"/>
<ellipse cx="398.6" cy="133.4" rx="2.80" ry="2.65" fill="#0000ff"/>
<ellipse cx="375.8" cy="119.8" rx="2.80" ry="2.65" fill="#6565ff"/>
<ellipse cx="386.4" cy="120.6" rx="2.80" ry="2.65" fill="#5656ff"/>
<ellipse cx="426.9" cy="101.4" rx="2.80" ry="2.65" fill="#ff7474"/>
<ellipse cx="432.8" cy="149.9" rx="2.80" ry="2.65" fill="#ff0000"/>
<ellipse cx="379.7" cy="151.7" rx="2.80" ry="2.65" fill="#0000ff"/>
<ellipse cx="408.3" cy="148.1" rx="2.80" ry="2.65" fill="#ff1212"/>
<ellipse cx="363.5" cy="73.0" rx="2.80" ry="2.65" fill="#ffacac"/>
<ellipse cx="455.3" cy="176.1" rx="2.80" ry="2.65" fill="#ff0000"/>
<ellipse cx="407.5" cy="119.0" rx="2.80" ry="2.65" fill="#ff6464"/>
<ellipse cx="410.5" cy="48.5" rx="2.80" ry="2.65" fill="#ffcbcb"/>
<ellipse cx="406.3" cy="129.3" rx="2.80" ry="2.65" fill="#4d4dff"/>
<ellipse cx="525.5" cy="67.6" rx="2.80" ry="2.65" fill="#cdcdff"/>
<ellipse cx="404.4" cy="77.4" rx="2.80" ry="2.65" fill="#ffb3b3"/>
<ellipse cx="487.8" cy="82.4" rx="2.80" ry="2.65" fill="#c6c6ff"/>
<ellipse cx="466.0" cy="93.3" rx="2.80" ry="2.65" fill="#b1b1ff"/>
<ellipse cx="412.6" cy="146.2" rx="2.80" ry="2.65" fill="#ff2222"/>
<ellipse cx="418.1" cy="116.0" rx="2.80" ry="2.65" fill="#ff3838"/>
<ellipse cx="395.4" cy="101.1" rx="2.80" ry="2.65" fill="#7878ff"/>
<ellipse cx="388.8" cy="96.0" rx="2.80" ry="2.65" fill="#6060ff"/>
<ellipse cx="484.5" cy="68.6" rx="2.80" ry="2.65" fill="#e1e1ff"/>
<ellipse cx="464.3" cy="70.5" rx="2.80" ry="2.65" fill="#c6c6ff"/>
<ellipse cx="510.7" cy="59.6" rx="2.80" ry="2.65" fill="#bcbcff"/>
<ellipse cx="436.3" cy="60.8" rx="2.80" ry="2.65" fill="#ffe8e8"/>
<ellipse cx="409.9" cy="139.2" rx="2.80" ry="2.65" fill="#0000ff"/>
<ellipse cx="418.2" cy="140.5" rx="2.80" ry="2.65" fill="#0000ff"/>
<ellipse cx="465.4" cy="178.4" rx="2.80" ry="2.65" fill="#ff0000"/>
<ellipse cx="427.3" cy="117.3" rx="2.80" ry="2.65" fill="#ff5252"/>
<ellipse cx="401.8" cy="158.5" rx="2.80" ry="2.65" fill="#0000ff"/>
<ellipse cx="522.8" cy="54.9" rx="2.80" ry="2.65" fill="#dedeff"/>
<ellipse cx="456.8" cy="47.9" rx="2.80" ry="2.65" fill="#dbdbff"/>
<ellipse cx="459.8" cy="67.7" rx="2.80" ry="2.65" fill="#b9b9ff"/>
<ellipse cx="454.8" cy="164.1" rx="2.80" ry="2.65" fill="#ff0000"/>
<ellipse cx="449.1" cy="149.6" rx="2.80" ry="2.65" fill="#ff2020"/>
<ellipse cx="404.3" cy="134.6" rx="2.80" ry="2.65" fill="#0000ff"/>
<ellipse cx="450.3" cy="134.5" rx="2.80" ry="2.65" fill="#ff3f3f"/>
<ellipse cx="435.5" cy="119.7" rx="2.80" ry="2.65" fill="#ff6666"/>
<ellipse cx="402.3" cy="134.8" rx="2.80" ry="2.65" fill="#ff1313"/>
<ellipse cx="411.3" cy="92.5" rx="2.80" ry="2.65" fill="#ff7272"/>
<ellipse cx="421.3" cy="136.6" rx="2.80" ry="2.65" fill="#ff1515"/>
<ellipse cx="428.5" cy="141.5" rx="2.80" ry="2.65" fill="#0000ff"/>
<ellipse cx="351.0" cy="104.4" rx="2.80" ry="2.65" fill="#0000ff"/>
<ellipse cx="448.1" cy="121.7" rx="2.80" ry="2.65" fill="#ff3d3d"/>
<ellipse cx="482.2" cy="92.8" rx="2.80" ry="2.65" fill="#a1a1ff"/>
<ellipse cx="482.4" cy="71.6" rx="2.80" ry="2.65" fill="#c7c7ff"/>
<ellipse cx="398.5" cy="134.4" rx="2.80" ry="2.65" fill="#0000ff"/>
<ellipse cx="369.8" cy="46.6" rx="2.80" ry="2.65" fill="#ffcdcd"/>
<ellipse cx="524.5" cy="59.9" rx="2.80" ry="2.65" fill="#e0e0ff"/>
<ellipse cx="408.0" cy="96.5" rx="2.80" ry="2.65" fill="#ffbaba"/>
<ellipse cx="452.4" cy="106.8" rx="2.80" ry="2.65" fill="#ff5454"/>
<ellipse cx="419.5" cy="135.4" rx="2.80" ry="2.65" fill="#ff2323"/>
<ellipse cx="387.1" cy="63.5" rx="2.80" ry="2.65" fill="#ffdddd"/>
<ellipse cx="451.9" cy="136.8" rx="2.80" ry="2.65" fill="#ff2c2c"/>
<ellipse cx="496.6" cy="61.2" rx="2.80" ry="2.65" fill="#d5d5ff"/>
<ellipse cx="448.9" cy="151.7" rx="2.80" ry="2.65" fill="#ff0000"/>
<ellipse cx="446.7" cy="120.6" rx="2.80" ry="2.65" fill="#ff3434"/>
<ellipse cx="458.9" cy="184.5" rx="2.80" ry="2.65" fill="#ff0000"/>
<ellipse cx="430.2" cy="118.3" rx="2.80" ry="2.65" fill="#ff6060"/>
<ellipse cx="435.3" cy="120.5" rx="2.80" ry="2.65" fill="#ff5555"/>
<ellipse cx="410.1" cy="89.4" rx="2.80" ry="2.65" fill="#ffd1d1"/>
<ellipse cx="424.8" cy="101.8" rx="2.80" ry="2.65" fill="#ff8585"/>
<ellipse cx="434.4" cy="133.4" rx="2.80" ry="2.65" fill="#ff4d4d"/>
<ellipse cx="472.9" cy="62.7" rx="2.80" ry="2.65" fill="#c1c1ff"/>
<ellipse cx="442.3" cy="195.2" rx="2.80" ry="2.65" fill="#ff0000"/>
<ellipse cx="427.6" cy="94.0" rx="2.80" ry="2.65" fill="#ff7878"/>
<ellipse cx="417.0" cy="75.9" rx="2.80" ry="2.65" fill="#ffb7b7"/>
<ellipse cx="427.0" cy="167.5" rx="2.80" ry="2.65" fill="#ff0000"/>
<ellipse cx="402.6" cy="115.9" rx="2.80" ry="2.65" fill="#6363ff"/>
<ellipse cx="384.9" cy="117.0" rx="2.80" ry="2.65" fill="#5d5dff"/>
<ellipse cx="424.7" cy="47.3" rx="2.80" ry="2.65" fill="#fff0f0"/>
<ellipse cx="369.4" cy="117.3" rx="2.80" ry="2.65" fill="#6363ff"/>
<ellipse cx="424.2" cy="178.6" rx="2.80" ry="2.65" fill="#ff0000"/>
<ellipse cx="452.7" cy="181.5" rx="2.80" ry="2.65" fill="#ff0000"/>
<ellipse cx="388.6" cy="114.7" rx="2.80" ry="2.65" fill="#4e4eff"/>
<ellipse cx="371.2" cy="44.2" rx="2.80" ry="2.65" fill="#ffcece"/>
<ellipse cx="444.9" cy="169.1" rx="2.80" ry="2.65" fill="#ff0000"/>
<ellipse cx="401.3" cy="142.1" rx="2.80" ry="2.65" fill="#0000ff"/>
<ellipse cx="452.0" cy="199.0" rx="2.80" ry="2.65" fill="#ff0000"/>
<ellipse cx="423.6" cy="176.1" rx="2.80" ry="2.65" fill="#ff0000"/>
<ellipse cx="401.0" cy="132.5" rx="2.80" ry="2.65" fill="#5454ff"/>
<ellipse cx="445.9" cy="126.3" rx="2.80" ry="2.65" fill="#ff4141"/>
<ellipse cx="424.0" cy="149.4" rx="2.80" ry="2.65" fill="#ff1d1d"/>
<ellipse cx="414.7" cy="98.6" rx="2.80" ry="2.65" fill="#ff7272"/>
<ellipse cx="508.0" cy="59.7" rx="2.80" ry="2.65" fill="#d2d2ff"/>
<ellipse cx="396.2" cy="75.7" rx="2.80" ry="2.65" fill="#ff9696"/>
<ellipse cx="448.5" cy="127.7" rx="2.80" ry="2.65" fill="#ff3b3b"/>
<ellipse cx="443.2" cy="142.8" rx="2.80" ry="2.65" fill="#ff1515"/>
<ellipse cx="361.3" cy="103.8" rx="2.80" ry="2.65" fill="#6c6cff"/>
<ellipse cx="444.4" cy="120.8" rx="2.80" ry="2.65" fill="#ff4b4b"/>
<ellipse cx="449.0" cy="197.9" rx="2.80" ry="2.65" fill="#ff0000"/>
<ellipse cx="385.5" cy="117.2" rx="2.80" ry="2.65" fill="#5e5eff"/>
<ellipse cx="506.2" cy="99.5" rx="2.80" ry="2.65" fill="#cacaff"/>
<ellipse cx="366.1" cy="65.2" rx="2.80" ry="2.65" fill="#ffc1c1"/>
<ellipse cx="428.2" cy="180.7" rx="2.80" ry="2.65" fill="#ff0000"/>
<ellipse cx="486.1" cy="62.5" rx="2.80" ry="2.65" fill="#c6c6ff"/>
<ellipse cx="390.4" cy="156.5" rx="2.80" ry="2.65" fill="#0000ff"/>
<ellipse cx="387.8" cy="63.7" rx="2.80" ry="2.65" fill="#ffc6c6"/>
<ellipse cx="402.1" cy="102.4" rx="2.80" ry="2.65" fill="#ff6464"/>
<ellipse cx="519.0" cy="70.8" rx="2.80" ry="2.65" fill="#bbbbff"/>
<ellipse cx="374.1" cy="100.1" rx="2.80" ry="2.65" fill="#5f5fff"/>
<ellipse cx="368.9" cy="63.6" rx="2.80" ry="2.65" fill="#ffbcbc"/>
<ellipse cx="415.7" cy="149.8" rx="2.80" ry="2.65" fill="#ff1212"/>
<ellipse cx="404.3" cy="122.2" rx="2.80" ry="2.65" fill="#4545ff"/>
<ellipse cx="380.6" cy="59.5" rx="2.80" ry="2.65" fill="#ffacac"/>
<ellipse cx="369.9" cy="85.2" rx="2.80" ry="2.65" fill="#ffb0b0"/>
<ellipse cx="442.3" cy="178.6" rx="2.80" ry="2.65" fill="#ff0000"/>
<ellipse cx="504.8" cy="60.5" rx="2.80" ry="2.65" fill="#d3d3ff"/>
<ellipse cx="406.0" cy="127.1" rx="2.80" ry="2.65" fill="#ff1616"/>
<ellipse cx="359.7" cy="98.1" rx="2.80" ry="2.65" fill="#5151ff"/>
<ellipse cx="456.8" cy="177.6" rx="2.80" ry="2.65" fill="#ff0000"/>
<ellipse cx="395.9" cy="140.7" rx="2.80" ry="2.65" fill="#0000ff"/>
<ellipse cx="434.7" cy="31.8" rx="2.80" ry="2.65" fill="#ffebeb"/>
<ellipse cx="415.3" cy="109.6" rx="2.80" ry="2.65" fill="#ff5151"/>
<ellipse cx="406.8" cy="145.4" rx="2.80" ry="2.65" fill="#ff0808"/>
<ellipse cx="375.5" cy="103.7" rx="2.80" ry="2.65" fill="#8989ff"/>
<ellipse cx="465.8" cy="53.0" rx="2.80" ry="2.65" fill="#e0e0ff"/>
<ellipse cx="453.0" cy="183.3" rx="2.80" ry="2.65" fill="#ff0000"/>
<ellipse cx="417.4" cy="69.9" rx="2.80" ry="2.65" fill="#ffd7d7"/>
<ellipse cx="424.9" cy="124.0" rx="2.80" ry="2.65" fill="#ff3838"/>
<ellipse cx="428.9" cy="119.6" rx="2.80" ry="2.65" fill="#ff3636"/>
<ellipse cx="379.7" cy="114.4" rx="2.80" ry="2.65" fill="#5a5aff"/>
<ellipse cx="423.8" cy="156.9" rx="2.80" ry="2.65" fill="#0000ff"/>
<ellipse cx="400.3" cy="58.7" rx="2.80" ry="2.65" fill="#fff0f0"/>
<ellipse cx="483.6" cy="102.3" rx="2.80" ry="2.65" fill="#c1c1ff"/>
<ellipse cx="466.8" cy="93.7" rx="2.80" ry="2.65" fill="#b1b1ff"/>
<ellipse cx="403.2" cy="118.9" rx="2.80" ry="2.65" fill="#4545ff"/>
<ellipse cx="440.1" cy="103.0" rx="2.80" ry="2.65" fill="#ff7d7d"/>
<ellipse cx="471.7" cy="181.0" rx="2.80" ry="2.65" fill="#ff0000"/>
<ellipse cx="430.6" cy="175.5" rx="2.80" ry="2.65" fill="#ff0000"/>
<ellipse cx="406.1" cy="99.5" rx="2.80" ry="2.65" fill="#ff6565"/>
<ellipse cx="420.0" cy="119.4" rx="2.80" ry="2.65" fill="#ff5858"/>
<ellipse cx="417.4" cy="134.4" rx="2.80" ry="2.65" fill="#ff2929"/>
<ellipse cx="411.4" cy="62.7" rx="2.80" ry="2.65" fill="#ffd2d2"/>
<ellipse cx="439.3" cy="135.6" rx="2.80" ry="2.65" fill="#ff2727"/>
<ellipse cx="491.0" cy="73.4" rx="2.80" ry="2.65" fill="#a7a7ff"/>
<ellipse cx="409.4" cy="35.0" rx="2.80" ry="2.65" fill="#ffe4e4"/>
<ellipse cx="427.7" cy="178.8" rx="2.80" ry="2.65" fill="#ff0000"/>
<ellipse cx="395.7" cy="113.2" rx="2.80" ry="2.65" fill="#5858ff"/>
<ellipse cx="381.9" cy="60.8" rx="2.80" ry="2.65" fill="#ffc9c9"/>
<ellipse cx="410.8" cy="35.9" rx="2.80" ry="2.65" fill="#ffe3e3"/>
<ellipse cx="370.5" cy="63.1" rx="2.80" ry="2.65" fill="#ffc5c5"/>
<ellipse cx="404.6" cy="86.9" rx="2.80" ry="2.65" fill="#ff7474"/>
<ellipse cx="469.0" cy="62.2" rx="2.80" ry="2.65" fill="#bcbcff"/>
<ellipse cx="467.6" cy="108.4" rx="2.80" ry="2.65" fill="#b1b1ff"/>
<ellipse cx="368.3" cy="120.3" rx="2.80" ry="2.65" fill="#7a7aff"/>
<ellipse cx="395.8" cy="154.9" rx="2.80" ry="2.65" fill="#0000ff"/>
<ellipse cx="398.4" cy="122.1" rx="2.80" ry="2.65" fill="#ff5555"/>
<ellipse cx="433.1" cy="89.2" rx="2.80" ry="2.65" fill="#ff9393"/>
<ellipse cx="427.1" cy="149.3" rx="2.80" ry="2.65" fill="#ff0d0d"/>
<ellipse cx="454.6" cy="116.0" rx="2.80" ry="2.65" fill="#ff5454"/>
<ellipse cx="449.9" cy="190.3" rx="2.80" ry="2.65" fill="#ff0000"/>
<ellipse cx="417.2" cy="78.6" rx="2.80" ry="2.65" fill="#ffcccc"/>
<ellipse cx="375.6" cy="64.6" rx="2.80" ry="2.65" fill="#ffb4b4"/>
<ellipse cx="396.7" cy="105.3" rx="2.80" ry="2.65" fill="#5f5fff"/>
<ellipse cx="378.0" cy="60.2" rx="2.80" ry="2.65" fill="#ffdede"/>
<ellipse cx="421.9" cy="58.8" rx="2.80" ry="2.65" fill="#ffcfcf"/>
<ellipse cx="370.8" cy="69.2" rx="2.80" ry="2.65" fill="#ffbcbc"/>
<ellipse cx="473.1" cy="66.8" rx="2.80" ry="2.65" fill="#cdcdff"/>
<ellipse cx="405.8" cy="20.3" rx="2.80" ry="2.65" fill="#ffcece"/>
<ellipse cx="502.6" cy="72.2" rx="2.80" ry="2.65" fill="#d1d1ff"/>
<ellipse cx="458.8" cy="57.3" rx="2.80" ry="2.65" fill="#cacaff"/>
<ellipse cx="388.0" cy="111.7" rx="2.80" ry="2.65" fill="#6666ff"/>
<ellipse cx="450.7" cy="115.6" rx="2.80" ry="2.65" fill="#ff4949"/>
<ellipse cx="497.8" cy="50.6" rx="2.80" ry="2.65" fill="#dfdfff"/>
<ellipse cx="468.8" cy="48.9" rx="2.80" ry="2.65" fill="#ccccff"/>
<ellipse cx="395.1" cy="119.0" rx="2.80" ry="2.65" fill="#4949ff"/>
<ellipse cx="458.6" cy="57.5" rx="2.80" ry="2.65" fill="#afafff"/>
<ellipse cx="407.8" cy="129.0" rx="2.80" ry="2.65" fill="#ff3b3b"/>
<ellipse cx="401.6" cy="84.8" rx="2.80" ry="2.65" fill="#ff7171"/>
<ellipse cx="406.8" cy="134.1" rx="2.80" ry="2.65" fill="#ff3131"/>
<ellipse cx="521.1" cy="100.4" rx="2.80" ry="2.65" fill="#b2b2ff"/>
<ellipse cx="389.2" cy="57.4" rx="2.80" ry="2.65" fill="#ffd2d2"/>
<ellipse cx="445.0" cy="142.1" rx="2.80" ry="2.65" fill="#ff2b2b"/>
<ellipse cx="452.7" cy="152.5" rx="2.80" ry="2.65" fill="#ff0000"/>
<ellipse cx="441.6" cy="136.8" rx="2.80" ry="2.65" fill="#0000ff"/>
<ellipse cx="377.5" cy="96.5" rx="2.80" ry="2.65" fill="#6767ff"/>
<ellipse cx="405.8" cy="32.9" rx="2.80" ry="2.65" fill="#fff0f0"/>
<ellipse cx="472.6" cy="49.4" rx="2.80" ry="2.65" fill="#ddddff"/>
<ellipse cx="450.3" cy="49.8" rx="2.80" ry="2.65" fill="#d6d6ff"/>
<ellipse cx="389.9" cy="51.8" rx="2.80" ry="2.65" fill="#ffc4c4"/>
<ellipse cx="438.1" cy="148.5" rx="2.80" ry="2.65" fill="#ff1616"/>
<ellipse cx="401.0" cy="121.2" rx="2.80" ry="2.65" fill="#ff4848"/>
<ellipse cx="392.1" cy="103.8" rx="2.80" ry="2.65" fill="#5f5fff"/>
<ellipse cx="369.5" cy="72.4" rx="2.80" ry="2.65" fill="#ffa7a7"/>
<ellipse cx="476.4" cy="53.8" rx="2.80" ry="2.65" fill="#cfcfff"/>
<ellipse cx="468.4" cy="107.7" rx="2.80" ry="2.65" fill="#b1b1ff"/>
<ellipse cx="520.2" cy="90.9" rx="2.80" ry="2.65" fill="#c3c3ff"/>
<ellipse cx="449.5" cy="108.8" rx="2.80" ry="2.65" fill="#ff7272"/>
<ellipse cx="419.4" cy="126.5" rx="2.80" ry="2.65" fill="#ff4a4a"/>
<ellipse cx="364.2" cy="92.9" rx="2.80" ry="2.65" fill="#5050ff"/>
<ellipse cx="441.5" cy="122.0" rx="2.80" ry="2.65" fill="#ff2e2e"/>
<ellipse cx="401.7" cy="68.6" rx="2.80" ry="2.65" fill="#ffb7b7"/>
<ellipse cx="358.2" cy="105.0" rx="2.80" ry="2.65" fill="#5757ff"/>
<ellipse cx="388.3" cy="100.1" rx="2.80" ry="2.65" fill="#5e5eff"/>
<ellipse cx="396.7" cy="49.7" rx="2.80" ry="2.65" fill="#ffdbdb"/>
<ellipse cx="456.2" cy="121.3" rx="2.80" ry="2.65" fill="#ff4242"/>
<ellipse cx="429.0" cy="162.0" rx="2.80" ry="2.65" fill="#ff0000"/>
<ellipse cx="465.1" cy="101.4" rx="2.80" ry="2.65" fill="#9797ff"/>
<ellipse cx="363.3" cy="73.0" rx="2.80" ry="2.65" fill="#ffadad"/>
<ellipse cx="445.2" cy="146.6" rx="2.80" ry="2.65" fill="#ff0000"/>
<ellipse cx="447.5" cy="184.3" rx="2.80" ry="2.65" fill="#ff0000"/>
<ellipse cx="442.7" cy="127.3" rx="2.80" ry="2.65" fill="#ff3232"/>
<ellipse cx="399.7" cy="112.4" rx="2.80" ry="2.65" fill="#5b5bff"/>
<ellipse cx="504.8" cy="66.0" rx="2.80" ry="2.65" fill="#c8c8ff"/>
<ellipse cx="419.0" cy="99.8" rx="2.80" ry="2.65" fill="#ff6d6d"/>
<ellipse cx="460.0" cy="191.1" rx="2.80" ry="2.65" fill="#ff0000"/>
<ellipse cx="488.4" cy="117.7" rx="2.80" ry="2.65" fill="#b1b1ff"/>
<ellipse cx="445.9" cy="155.0" rx="2.80" ry="2.65" fill="#ff0000"/>
<ellipse cx="392.2" cy="21.3" rx="2.80" ry="2.65" fill="#ffc5c5"/>
<ellipse cx="405.2" cy="24.0" rx="2.80" ry="2.65" fill="#ffdbdb"/>
<ellipse cx="441.8" cy="145.2" rx="2.80" ry="2.65" fill="#ff0000"/>
<ellipse cx="473.9" cy="106.6" rx="2.80" ry="2.65" fill="#c3c3ff"/>
<ellipse cx="448.8" cy="120.5" rx="2.80" ry="2.65" fill="#ff4b4b"/>
<ellipse cx="413.1" cy="91.7" rx="2.80" ry="2.65" fill="#ffbfbf"/>
<ellipse cx="416.9" cy="147.7" rx="2.80" ry="2.65" fill="#0000ff"/>
<ellipse cx="486.6" cy="117.0" rx="2.80" ry="2.65" fill="#b1b1ff"/>
<ellipse cx="426.7" cy="84.8" rx="2.80" ry="2.65" fill="#ff6a6a"/>
<ellipse cx="523.1" cy="61.1" rx="2.80" ry="2.65" fill="#ceceff"/>
<ellipse cx="427.8" cy="60.2" rx="2.80" ry="2.65" fill="#ffd5d5"/>
<ellipse cx="414.9" cy="57.1" rx="2.80" ry="2.65" fill="#ffcccc"/>
<ellipse cx="380.9" cy="47.9" rx="2.80" ry="2.65" fill="#ffc9c9"/>
<ellipse cx="371.1" cy="102.9" rx="2.80" ry="2.65" fill="#6060ff"/>
<ellipse cx="479.0" cy="105.6" rx="2.80" ry="2.65" fill="#9696ff"/>
<ellipse cx="455.7" cy="127.8" rx="2.80" ry="2.65" fill="#ff4b4b"/>
<ellipse cx="522.2" cy="58.5" rx="2.80" ry="2.65" fill="#c0c0ff"/>
<ellipse cx="418.8" cy="135.0" rx="2.80" ry="2.65" fill="#0000ff"/>
<ellipse cx="416.6" cy="90.5" rx="2.80" ry="2.65" fill="#ff7d7d"/>
<ellipse cx="406.8" cy="79.1" rx="2.80" ry="2.65" fill="#ffbaba"/>
<ellipse cx="470.0" cy="72.5" rx="2.80" ry="2.65" fill="#b8b8ff"/>
<ellipse cx="378.9" cy="76.7" rx="2.80" ry="2.65" fill="#ffc8c8"/>
<ellipse cx="408.9" cy="35.9" rx="2.80" ry="2.65" fill="#fff0f0"/>
<ellipse cx="372.1" cy="100.3" rx="2.80" ry="2.65" fill="#5e5eff"/>
<ellipse cx="440.9" cy="105.7" rx="2.80" ry="2.65" fill="#ff5858"/>
<ellipse cx="444.2" cy="160.8" rx="2.80" ry="2.65" fill="#ff0000"/>
<ellipse cx="446.2" cy="115.3" rx="2.80" ry="2.65" fill="#ff4c4c"/>
<ellipse cx="407.7" cy="42.2" rx="2.80" ry="2.65" fill="#fff0f0"/>
<ellipse cx="406.7" cy="103.4" rx="2.80" ry="2.65" fill="#ff6969"/>
<ellipse cx="453.1" cy="140.1" rx="2.80" ry="2.65" fill="#ff1a1a"/>
<ellipse cx="411.7" cy="35.8" rx="2.80" ry="2.65" fill="#ffeded"/>
<ellipse cx="460.2" cy="60.2" rx="2.80" ry="2.65" fill="#d3d3ff"/>
<ellipse cx="465.2" cy="177.5" rx="2.80" ry="2.65" fill="#ff0000"/>
<ellipse cx="378.0" cy="119.0" rx="2.80" ry="2.65" fill="#6161ff"/>
<ellipse cx="489.3" cy="88.8" rx="2.80" ry="2.65" fill="#bebeff"/>
<ellipse cx="437.7" cy="114.8" rx="2.80" ry="2.65" fill="#ff6a6a"/>
<ellipse cx="352.5" cy="82.5" rx="2.80" ry="2.65" fill="#0000ff"/>
<ellipse cx="376.2" cy="76.3" rx="2.80" ry="2.65" fill="#ff9e9e"/>
<ellipse cx="382.6" cy="160.7" rx="2.80" ry="2.65" fill="#0000ff"/>
<ellipse cx="340.5" cy="99.8" rx="2.80" ry="2.65" fill="#0000ff"/>
<ellipse cx="393.0" cy="163.0" rx="2.80" ry="2.65" fill="#0000ff"/>
<ellipse cx="504.1" cy="98.4" rx="2.80" ry="2.65" fill="#c1c1ff"/>
<ellipse cx="488.9" cy="98.3" rx="2.80" ry="2.65" fill="#c4c4ff"/>
<ellipse cx="499.4" cy="82.1" rx="2.80" ry="2.65" fill="#bdbdff"/>
<ellipse cx="405.2" cy="88.7" rx="2.80" ry="2.65" fill="#ff9d9d"/>
<ellipse cx="394.9" cy="73.3" rx="2.80" ry="2.65" fill="#ffabab"/>
<ellipse cx="380.1" cy="65.3" rx="2.80" ry="2.65" fill="#ffcbcb"/>
<ellipse cx="384.9" cy="50.4" rx="2.80" ry="2.65" fill="#ffcdcd"/>
<ellipse cx="426.8" cy="141.5" rx="2.80" ry="2.65" fill="#ff2020"/>
<ellipse cx="390.8" cy="88.1" rx="2.80" ry="2.65" fill="#ffc2c2"/>
<ellipse cx="439.8" cy="106.9" rx="2.80" ry="2.65" fill="#ff5e5e"/>
<ellipse cx="361.9" cy="96.7" rx="2.80" ry="2.65" fill="#5c5cff"/>
<ellipse cx="442.8" cy="144.1" rx="2.80" ry="2.65" fill="#ff1b1b"/>
<ellipse cx="439.5" cy="154.3" rx="2.80" ry="2.65" fill="#ff0000"/>
<ellipse cx="403.3" cy="135.1" rx="2.80" ry="2.65" fill="#ff1e1e"/>
<ellipse cx="406.4" cy="85.4" rx="2.80" ry="2.65" fill="#ff6a6a"/>
<ellipse cx="404.3" cy="36.3" rx="2.80" ry="2.65" fill="#fff0f0"/>
<ellipse cx="419.7" cy="106.3" rx="2.80" ry="2.65" fill="#ff4141"/>
<ellipse cx="367.2" cy="104.1" rx="2.80" ry="2.65" fill="#5e5eff"/>
<ellipse cx="444.9" cy="136.7" rx="2.80" ry="2.65" fill="#0000ff"/>
<ellipse cx="442.0" cy="147.0" rx="2.80" ry="2.65" fill="#0000ff"/>
<ellipse cx="441.3" cy="129.6" rx="2.80" ry="2.65" fill="#ff3d3d"/>
<ellipse cx="405.5" cy="123.8" rx="2.80" ry="2.65" fill="#ff4b4b"/>
<ellipse cx="452.0" cy="158.1" rx="2.80" ry="2.65" fill="#ff0000"/>
<ellipse cx="412.1" cy="146.3" rx="2.80" ry="2.65" fill="#ff1b1b"/>
<ellipse cx="444.4" cy="100.1" rx="2.80" ry="2.65" fill="#ff6f6f"/>
<ellipse cx="407.8" cy="108.5" rx="2.80" ry="2.65" fill="#ff6262"/>
<ellipse cx="423.9" cy="162.2" rx="2.80" ry="2.65" fill="#ff0000"/>
<ellipse cx="413.9" cy="157.8" rx="2.80" ry="2.65" fill="#0000ff"/>
<ellipse cx="472.9" cy="48.8" rx="2.80" ry="2.65" fill="#dedeff"/>
<ellipse cx="383.9" cy="109.6" rx="2.80" ry="2.65" fill="#4242ff"/>
<ellipse cx="513.3" cy="61.4" rx="2.80" ry="2.65" fill="#cacaff"/>
<ellipse cx="411.0" cy="64.1" rx="2.80" ry="2.65" fill="#ffe6e6"/>
<ellipse cx="421.5" cy="88.7" rx="2.80" ry="2.65" fill="#ff9c9c"/>
<ellipse cx="405.7" cy="71.5" rx="2.80" ry="2.65" fill="#ffd5d5"/>
<ellipse cx="401.2" cy="133.3" rx="2.80" ry="2.65" fill="#0000ff"/>
<ellipse cx="421.8" cy="121.6" rx="2.80" ry="2.65" fill="#ff4545"/>
<ellipse cx="358.1" cy="106.7" rx="2.80" ry="2.65" fill="#5656ff"/>
<ellipse cx="435.3" cy="116.6" rx="2.80" ry="2.65" fill="#ff4c4c"/>
<ellipse cx="428.4" cy="133.7" rx="2.80" ry="2.65" fill="#ff4a4a"/>
<ellipse cx="403.3" cy="85.5" rx="2.80" ry="2.65" fill="#ffa6a6"/>
<ellipse cx="448.0" cy="39.4" rx="2.80" ry="2.65" fill="#ffe8e8"/>
<ellipse cx="405.4" cy="127.0" rx="2.80" ry="2.65" fill="#5858ff"/>
<ellipse cx="422.4" cy="24.4" rx="2.80" ry="2.65" fill="#ffd6d6"/>
<ellipse cx="483.8" cy="80.3" rx="2.80" ry="2.65" fill="#ddddff"/>
<ellipse cx="365.1" cy="76.0" rx="2.80" ry="2.65" fill="#ffa8a8"/>
<ellipse cx="421.6" cy="94.6" rx="2.80" ry="2.65" fill="#ff7878"/>
<ellipse cx="455.3" cy="124.1" rx="2.80" ry="2.65" fill="#ff3e3e"/>
<ellipse cx="441.0" cy="29.4" rx="2.80" ry="2.65" fill="#ffe7e7"/>
<ellipse cx="445.2" cy="139.7" rx="2.80" ry="2.65" fill="#0000ff"/>
<ellipse cx="468.6" cy="187.2" rx="2.80" ry="2.65" fill="#ff0000"/>
<ellipse cx="433.0" cy="32.1" rx="2.80" ry="2.65" fill="#ffe9e9"/>
<ellipse cx="421.6" cy="142.3" rx="2.80" ry="2.65" fill="#ff3232"/>
<ellipse cx="443.5" cy="149.7" rx="2.80" ry="2.65" fill="#ff2a2a"/>
<ellipse cx="407.0" cy="111.0" rx="2.80" ry="2.65" fill="#ff6060"/>
<ellipse cx="467.4" cy="62.1" rx="2.80" ry="2.65" fill="#aeaeff"/>
<ellipse cx="420.5" cy="124.0" rx="2.80" ry="2.65" fill="#ff3838"/>
<ellipse cx="414.0" cy="100.0" rx="2.80" ry="2.65" fill="#ff6d6d"/>
<ellipse cx="427.7" cy="120.2" rx="2.80" ry="2.65" fill="#ff4545"/>
<ellipse cx="394.4" cy="139.2" rx="2.80" ry="2.65" fill="#0000ff"/>
<ellipse cx="460.3" cy="78.7" rx="2.80" ry="2.65" fill="#bdbdff"/>
<ellipse cx="372.2" cy="77.9" rx="2.80" ry="2.65" fill="#ffb5b5"/>
<ellipse cx="379.9" cy="122.7" rx="2.80" ry="2.65" fill="#4848ff"/>
<ellipse cx="433.0" cy="53.2" rx="2.80" ry="2.65" fill="#ffe6e6"/>
<ellipse cx="418.5" cy="134.8" rx="2.80" ry="2.65" fill="#ff1e1e"/>
<ellipse cx="435.5" cy="118.0" rx="2.80" ry="2.65" fill="#ff3d3d"/>
<ellipse cx="418.3" cy="70.3" rx="2.80" ry="2.65" fill="#ffbbbb"/>
<ellipse cx="375.5" cy="85.0" rx="2.80" ry="2.65" fill="#ffbaba"/>
<ellipse cx="375.4" cy="98.3" rx="2.80" ry="2.65" fill="#5b5bff"/>
<ellipse cx="511.2" cy="75.5" rx="2.80" ry="2.65" fill="#c6c6ff"/>
<ellipse cx="445.5" cy="127.4" rx="2.80" ry="2.65" fill="#ff4f4f"/>
<ellipse cx="417.7" cy="129.9" rx="2.80" ry="2.65" fill="#0000ff"/>
<ellipse cx="433.2" cy="147.8" rx="2.80" ry="2.65" fill="#ff1111"/>
<ellipse cx="492.6" cy="63.0" rx="2.80" ry="2.65" fill="#ceceff"/>
<ellipse cx="368.4" cy="104.4" rx="2.80" ry="2.65" fill="#4b4bff"/>
<ellipse cx="394.2" cy="144.8" rx="2.80" ry="2.65" fill="#0000ff"/>
<ellipse cx="479.6" cy="53.3" rx="2.80" ry="2.65" fill="#e8e8ff"/>
<ellipse cx="485.2" cy="50.3" rx="2.80" ry="2.65" fill="#b9b9ff"/>
<ellipse cx="451.8" cy="121.7" rx="2.80" ry="2.65" fill="#ff4c4c"/>
<ellipse cx="378.0" cy="94.2" rx="2.80" ry="2.65" fill="#6b6bff"/>
<ellipse cx="398.3" cy="59.7" rx="2.80" ry="2.65" fill="#ffe0e0"/>
<ellipse cx="425.8" cy="92.3" rx="2.80" ry="2.65" fill="#ff7171"/>
<ellipse cx="426.3" cy="109.3" rx="2.80" ry="2.65" fill="#ff6161"/>
<ellipse cx="394.6" cy="114.2" rx="2.80" ry="2.65" fill="#6565ff"/>
<ellipse cx="450.9" cy="103.9" rx="2.80" ry="2.65" fill="#ff5f5f"/>
<ellipse cx="411.9" cy="101.4" rx="2.80" ry="2.65" fill="#ff7474"/>
<ellipse cx="378.9" cy="111.9" rx="2.80" ry="2.65" fill="#5f5fff"/>
<ellipse cx="454.0" cy="132.0" rx="2.80" ry="2.65" fill="#b1b1ff"/>
<ellipse cx="445.9" cy="117.3" rx="2.80" ry="2.65" fill="#ff3434"/>
<ellipse cx="416.2" cy="120.3" rx="2.80" ry="2.65" fill="#ff4d4d"/>
<ellipse cx="506.9" cy="77.7" rx="2.80" ry="2.65" fill="#c1c1ff"/>
<ellipse cx="437.9" cy="149.3" rx="2.80" ry="2.65" fill="#ff1313"/>
<ellipse cx="407.4" cy="126.4" rx="2.80" ry="2.65" fill="#ff3939"/>
<ellipse cx="416.3" cy="66.2" rx="2.80" ry="2.65" fill="#ffcccc"/>
<ellipse cx="476.5" cy="49.1" rx="2.80" ry="2.65" fill="#b3b3ff"/>
<ellipse cx="413.5" cy="93.4" rx="2.80" ry="2.65" fill="#ff6565"/>
<ellipse cx="437.9" cy="120.3" rx="2.80" ry="2.65" fill="#ff4747"/>
<ellipse cx="428.4" cy="157.4" rx="2.80" ry="2.65" fill="#ff0000"/>
<ellipse cx="452.3" cy="179.4" rx="2.80" ry="2.65" fill="#ff0000"/>
<ellipse cx="425.7" cy="135.0" rx="2.80" ry="2.65" fill="#ff2929"/>
<ellipse cx="452.5" cy="117.0" rx="2.80" ry="2.65" fill="#ff4848"/>
<ellipse cx="449.4" cy="150.0" rx="2.80" ry="2.65" fill="#ff0c0c"/>
<ellipse cx="464.9" cy="58.7" rx="2.80" ry="2.65" fill="#babaff"/>
<ellipse cx="442.7" cy="124.5" rx="2.80" ry="2.65" fill="#ff4242"/>
<ellipse cx="423.7" cy="96.2" rx="2.80" ry="2.65" fill="#ff7777"/>
<ellipse cx="432.4" cy="167.0" rx="2.80" ry="2.65" fill="#ff0000"/>
<ellipse cx="399.4" cy="132.8" rx="2.80" ry="2.65" fill="#ff2525"/>
<ellipse cx="364.2" cy="115.7" rx="2.80" ry="2.65" fill="#7e7eff"/>
<ellipse cx="500.5" cy="89.5" rx="2.80" ry="2.65" fill="#d3d3ff"/>
<ellipse cx="478.6" cy="63.7" rx="2.80" ry="2.65" fill="#d5d5ff"/>
<ellipse cx="384.0" cy="102.9" rx="2.80" ry="2.65" fill="#5353ff"/>
<ellipse cx="415.9" cy="113.7" rx="2.80" ry="2.65" fill="#ff5959"/>
<ellipse cx="400.5" cy="90.0" rx="2.80" ry="2.65" fill="#ff7474"/>
<ellipse cx="454.4" cy="119.6" rx="2.80" ry="2.65" fill="#ff5858"/>
<ellipse cx="418.1" cy="132.1" rx="2.80" ry="2.65" fill="#ff2121"/>
<ellipse cx="404.8" cy="126.2" rx="2.80" ry="2.65" fill="#ff3838"/>
<ellipse cx="379.9" cy="71.1" rx="2.80" ry="2.65" fill="#ffa5a5"/>
<ellipse cx="377.5" cy="53.2" rx="2.80" ry="2.65" fill="#ffc4c4"/>
<ellipse cx="452.3" cy="126.0" rx="2.80" ry="2.65" fill="#ff4141"/>
<ellipse cx="398.5" cy="58.2" rx="2.80" ry="2.65" fill="#ffbdbd"/>
<ellipse cx="496.3" cy="90.1" rx="2.80" ry="2.65" fill="#a8a8ff"/>
<ellipse cx="460.2" cy="74.8" rx="2.80" ry="2.65" fill="#b6b6ff"/>
<ellipse cx="377.4" cy="79.9" rx="2.80" ry="2.65" fill="#ffb1b1"/>
<ellipse cx="405.7" cy="132.4" rx="2.80" ry="2.65" fill="#ff3434"/>
<ellipse cx="371.7" cy="51.9" rx="2.80" ry="2.65" fill="#ffc4c4"/>
<ellipse cx="468.0" cy="79.3" rx="2.80" ry="2.65" fill="#d2d2ff"/>
<ellipse cx="452.1" cy="111.3" rx="2.80" ry="2.65" fill="#ff6d6d"/>
<ellipse cx="456.5" cy="128.0" rx="2.80" ry="2.65" fill="#ff5555"/>
<ellipse cx="397.6" cy="103.1" rx="2.80" ry="2.65" fill="#4f4fff"/>
<ellipse cx="447.1" cy="96.6" rx="2.80" ry="2.65" fill="#ff7070"/>
<ellipse cx="499.8" cy="54.2" rx="2.80" ry="2.65" fill="#cdcdff"/>
<ellipse cx="362.7" cy="98.3" rx="2.80" ry="2.65" fill="#5555ff"/>
<ellipse cx="417.7" cy="82.8" rx="2.80" ry="2.65" fill="#ff8787"/>
<ellipse cx="412.3" cy="145.5" rx="2.80" ry="2.65" fill="#0000ff"/>
<ellipse cx="398.3" cy="149.9" rx="2.80" ry="2.65" fill="#0000ff"/>
<ellipse cx="473.6" cy="65.3" rx="2.80" ry="2.65" fill="#dcdcff"/>
<ellipse cx="400.7" cy="58.7" rx="2.80" ry="2.65" fill="#ffc5c5"/>
<ellipse cx="515.4" cy="71.2" rx="2.80" ry="2.65" fill="#d7d7ff"/>
<ellipse cx="396.6" cy="144.7" rx="2.80" ry="2.65" fill="#0000ff"/>
<ellipse cx="411.9" cy="156.7" rx="2.80" ry="2.65" fill="#0000ff"/>
<ellipse cx="386.8" cy="79.7" rx="2.80" ry="2.65" fill="#ffb5b5"/>
<ellipse cx="416.4" cy="153.1" rx="2.80" ry="2.65" fill="#0000ff"/>
<ellipse cx="458.0" cy="201.0" rx="2.80" ry="2.65" fill="#ff0000"/>
<ellipse cx="382.2" cy="29.8" rx="2.80" ry="2.65" fill="#ffd1d1"/>
<ellipse cx="439.9" cy="42.4" rx="2.80" ry="2.65" fill="#ffe6e6"/>
<ellipse cx="411.6" cy="108.4" rx="2.80" ry="2.65" fill="#ff5555"/>
<ellipse cx="412.8" cy="51.1" rx="2.80" ry="2.65" fill="#ffc9c9"/>
<ellipse cx="430.1" cy="139.0" rx="2.80" ry="2.65" fill="#ff3737"/>
<ellipse cx="521.3" cy="59.7" rx="2.80" ry="2.65" fill="#dfdfff"/>
<ellipse cx="408.5" cy="146.2" rx="2.80" ry="2.65" fill="#ff1919"/>
<ellipse cx="359.0" cy="88.5" rx="2.80" ry="2.65" fill="#4d4dff"/>
<ellipse cx="398.1" cy="87.1" rx="2.80" ry="2.65" fill="#ff7474"/>
<ellipse cx="438.7" cy="187.4" rx="2.80" ry="2.65" fill="#ff0000"/>
<ellipse cx="450.9" cy="195.2" rx="2.80" ry="2.65" fill="#ff0000"/>
<ellipse cx="392.1" cy="107.3" rx="2.80" ry="2.65" fill="#5c5cff"/>
<ellipse cx="408.6" cy="100.4" rx="2.80" ry="2.65" fill="#ff5454"/>
<ellipse cx="517.7" cy="100.0" rx="2.80" ry="2.65" fill="#b2b2ff"/>
<ellipse cx="387.5" cy="57.8" rx="2.80" ry="2.65" fill="#ffe0e0"/>
<ellipse cx="428.4" cy="114.5" rx="2.80" ry="2.65" fill="#ff5151"/>
<ellipse cx="399.5" cy="78.0" rx="2.80" ry="2.65" fill="#ffa3a3"/>
<ellipse cx="400.3" cy="60.6" rx="2.80" ry="2.65" fill="#ffcccc"/>
<ellipse cx="412.7" cy="121.3" rx="2.80" ry="2.65" fill="#ff2323"/>
<ellipse cx="417.3" cy="97.4" rx="2.80" ry="2.65" fill="#ff7878"/>
<ellipse cx="386.4" cy="39.7" rx="2.80" ry="2.65" fill="#ffd8d8"/>
<ellipse cx="418.4" cy="153.9" rx="2.80" ry="2.65" fill="#ff0000"/>
<ellipse cx="455.8" cy="125.1" rx="2.80" ry="2.65" fill="#ff2828"/>
<ellipse cx="374.7" cy="45.1" rx="2.80" ry="2.65" fill="#ffd6d6"/>
<ellipse cx="516.5" cy="65.0" rx="2.80" ry="2.65" fill="#ceceff"/>
<ellipse cx="448.1" cy="182.2" rx="2.80" ry="2.65" fill="#ff0000"/>
<ellipse cx="420.3" cy="156.6" rx="2.80" ry="2.65" fill="#0000ff"/>
<ellipse cx="393.7" cy="41.3" rx="2.80" ry="2.65" fill="#ffdfdf"/>
<ellipse cx="456.0" cy="186.4" rx="2.80" ry="2.65" fill="#ff0000"/>
<ellipse cx="425.9" cy="83.4" rx="2.80" ry="2.65" fill="#ff9a9a"/>
<ellipse cx="396.3" cy="153.1" rx="2.80" ry="2.65" fill="#0000ff"/>
<ellipse cx="437.7" cy="170.0" rx="2.80" ry="2.65" fill="#ff0000"/>
<ellipse cx="407.6" cy="134.4" rx="2.80" ry="2.65" fill="#ff2b2b"/>
<ellipse cx="448.4" cy="113.5" rx="2.80" ry="2.65" fill="#ff5858"/>
<ellipse cx="449.7" cy="60.3" rx="2.80" ry="2.65" fill="#dbdbff"/>
<ellipse cx="435.1" cy="109.0" rx="2.80" ry="2.65" fill="#ff6262"/>
<ellipse cx="441.3" cy="135.1" rx="2.80" ry="2.65" fill="#0000ff"/>
<ellipse cx="438.7" cy="173.5" rx="2.80" ry="2.65" fill="#ff0000"/>
<ellipse cx="405.7" cy="78.6" rx="2.80" ry="2.65" fill="#ffd7d7"/>
<ellipse cx="400.3" cy="122.5" rx="2.80" ry="2.65" fill="#6666ff"/>
<ellipse cx="382.5" cy="86.0" rx="2.80" ry="2.65" fill="#ffa9a9"/>
<ellipse cx="497.7" cy="79.6" rx="2.80" ry="2.65" fill="#d3d3ff"/>
<ellipse cx="430.4" cy="153.5" rx="2.80" ry="2.65" fill="#ff0000"/>
<ellipse cx="428.2" cy="154.7" rx="2.80" ry="2.65" fill="#ff0000"/>
<ellipse cx="492.9" cy="60.7" rx="2.80" ry="2.65" fill="#b1b1ff"/>
<ellipse cx="375.2" cy="45.4" rx="2.80" ry="2.65" fill="#ffd4d4"/>
<ellipse cx="382.8" cy="59.4" rx="2.80" ry="2.65" fill="#ffbaba"/>
<ellipse cx="408.4" cy="82.5" rx="2.80" ry="2.65" fill="#ff8a8a"/>
<ellipse cx="409.6" cy="89.5" rx="2.80" ry="2.65" fill="#ff7b7b"/>
<ellipse cx="377.8" cy="58.8" rx="2.80" ry="2.65" fill="#ffaeae"/>
<ellipse cx="475.5" cy="89.9" rx="2.80" ry="2.65" fill="#a4a4ff"/>
<ellipse cx="497.6" cy="75.3" rx="2.80" ry="2.65" fill="#ccccff"/>
<ellipse cx="394.5" cy="150.6" rx="2.80" ry="2.65" fill="#0000ff"/>
<ellipse cx="448.0" cy="152.4" rx="2.80" ry="2.65" fill="#ff0000"/>
<ellipse cx="446.2" cy="22.4" rx="2.80" ry="2.65" fill="#ffe7e7"/>
<ellipse cx="497.0" cy="87.0" rx="2.80" ry="2.65" fill="#b2b2ff"/>
<ellipse cx="416.4" cy="93.7" rx="2.80" ry="2.65" fill="#ff6666"/>
<ellipse cx="455.4" cy="64.1" rx="2.80" ry="2.65" fill="#d9d9ff"/>
<ellipse cx="383.6" cy="78.8" rx="2.80" ry="2.65" fill="#ffbcbc"/>
<ellipse cx="421.1" cy="70.3" rx="2.80" ry="2.65" fill="#ffb5b5"/>
<ellipse cx="392.6" cy="55.1" rx="2.80" ry="2.65" fill="#ffcbcb"/>
<ellipse cx="389.2" cy="110.7" rx="2.80" ry="2.65" fill="#5b5bff"/>
<ellipse cx="442.9" cy="158.9" rx="2.80" ry="2.65" fill="#ff0000"/>
<ellipse cx="489.6" cy="100.0" rx="2.80" ry="2.65" fill="#bebeff"/>
<ellipse cx="488.4" cy="49.3" rx="2.80" ry="2.65" fill="#b9b9ff"/>
<ellipse cx="379.6" cy="115.3" rx="2.80" ry="2.65" fill="#4e4eff"/>
<ellipse cx="495.4" cy="77.5" rx="2.80" ry="2.65" fill="#bcbcff"/>
<ellipse cx="404.1" cy="90.4" rx="2.80" ry="2.65" fill="#ff6161"/>
<ellipse cx="381.2" cy="61.7" rx="2.80" ry="2.65" fill="#ffa5a5"/>
<ellipse cx="364.1" cy="104.8" rx="2.80" ry="2.65" fill="#5959ff"/>
<ellipse cx="388.9" cy="67.6" rx="2.80" ry="2.65" fill="#ffb8b8"/>
<ellipse cx="411.2" cy="118.4" rx="2.80" ry="2.65" fill="#ff5050"/>
<ellipse cx="414.8" cy="101.9" rx="2.80" ry="2.65" fill="#ff7e7e"/>
<ellipse cx="410.2" cy="144.9" rx="2.80" ry="2.65" fill="#0000ff"/>
<ellipse cx="405.4" cy="155.7" rx="2.80" ry="2.65" fill="#0000ff"/>
<ellipse cx="421.4" cy="156.6" rx="2.80" ry="2.65" fill="#ff0000"/>
<ellipse cx="379.0" cy="68.0" rx="2.80" ry="2.65" fill="#ffbaba"/>
<ellipse cx="402.5" cy="87.9" rx="2.80" ry="2.65" fill="#ffc0c0"/>
<ellipse cx="426.0" cy="142.2" rx="2.80" ry="2.65" fill="#ff1a1a"/>
<ellipse cx="401.9" cy="62.0" rx="2.80" ry="2.65" fill="#ffe9e9"/>
<ellipse cx="449.7" cy="54.8" rx="2.80" ry="2.65" fill="#d7d7ff"/>
<ellipse cx="412.6" cy="118.1" rx="2.80" ry="2.65" fill="#ff6262"/>
<ellipse cx="471.9" cy="86.7" rx="2.80" ry="2.65" fill="#bdbdff"/>
<ellipse cx="403.7" cy="147.4" rx="2.80" ry="2.65" fill="#0000ff"/>
<ellipse cx="477.2" cy="62.9" rx="2.80" ry="2.65" fill="#b9b9ff"/>
<ellipse cx="399.2" cy="37.6" rx="2.80" ry="2.65" fill="#ffd8d8"/>
<ellipse cx="461.6" cy="87.1" rx="2.80" ry="2.65" fill="#e0e0ff"/>
<ellipse cx="519.8" cy="98.2" rx="2.80" ry="2.65" fill="#afafff"/>
<ellipse cx="362.7" cy="92.4" rx="2.80" ry="2.65" fill="#6969ff"/>
<ellipse cx="398.6" cy="106.0" rx="2.80" ry="2.65" fill="#ff4d4d"/>
<ellipse cx="407.2" cy="60.1" rx="2.80" ry="2.65" fill="#ffcaca"/>
<ellipse cx="409.9" cy="115.5" rx="2.80" ry="2.65" fill="#ff5050"/>
<ellipse cx="381.4" cy="71.1" rx="2.80" ry="2.65" fill="#ff9b9b"/>
<ellipse cx="399.6" cy="69.4" rx="2.80" ry="2.65" fill="#ff9999"/>
<ellipse cx="414.2" cy="91.0" rx="2.80" ry="2.65" fill="#ff8484"/>
<ellipse cx="418.7" cy="143.4" rx="2.80" ry="2.65" fill="#0000ff"/>
<ellipse cx="368.2" cy="115.9" rx="2.80" ry="2.65" fill="#5858ff"/>
<ellipse cx="436.5" cy="133.5" rx="2.80" ry="2.65" fill="#ff5c5c"/>
<ellipse cx="407.9" cy="152.3" rx="2.80" ry="2.65" fill="#0000ff"/>
<ellipse cx="441.1" cy="189.2" rx="2.80" ry="2.65" fill="#ff0000"/>
<ellipse cx="372.7" cy="116.8" rx="2.80" ry="2.65" fill="#7f7fff"/>
<ellipse cx="399.8" cy="152.2" rx="2.80" ry="2.65" fill="#0000ff"/>
<ellipse cx="487.7" cy="68.0" rx="2.80" ry="2.65" fill="#d5d5ff"/>
<ellipse cx="401.0" cy="48.5" rx="2.80" ry="2.65" fill="#ffc6c6"/>
<ellipse cx="407.2" cy="87.7" rx="2.80" ry="2.65" fill="#ff7373"/>
<ellipse cx="476.4" cy="71.3" rx="2.80" ry="2.65" fill="#bbbbff"/>
<ellipse cx="465.3" cy="71.6" rx="2.80" ry="2.65" fill="#c1c1ff"/>
<ellipse cx="460.2" cy="59.9" rx="2.80" ry="2.65" fill="#dbdbff"/>
<ellipse cx="410.5" cy="137.3" rx="2.80" ry="2.65" fill="#ff2929"/>
<ellipse cx="373.1" cy="95.0" rx="2.80" ry="2.65" fill="#6a6aff"/>
<ellipse cx="436.7" cy="144.0" rx="2.80" ry="2.65" fill="#ff1818"/>
<ellipse cx="392.5" cy="83.1" rx="2.80" ry="2.65" fill="#ffbcbc"/>
<ellipse cx="462.1" cy="171.7" rx="2.80" ry="2.65" fill="#ff0000"/>
<ellipse cx="366.9" cy="50.7" rx="2.80" ry="2.65" fill="#ffd8d8"/>
<ellipse cx="452.6" cy="157.1" rx="2.80" ry="2.65" fill="#ff0000"/>
<ellipse cx="397.6" cy="66.3" rx="2.80" ry="2.65" fill="#ffa8a8"/>
<ellipse cx="388.8" cy="159.5" rx="2.80" ry="2.65" fill="#0000ff"/>
<ellipse cx="381.5" cy="74.8" rx="2.80" ry="2.65" fill="#ffb9b9"/>
<ellipse cx="411.6" cy="89.2" rx="2.80" ry="2.65" fill="#ff9090"/>
<ellipse cx="448.8" cy="102.1" rx="2.80" ry="2.65" fill="#ff7878"/>
<ellipse cx="429.7" cy="134.1" rx="2.80" ry="2.65" fill="#0000ff"/>
<ellipse cx="477.3" cy="100.8" rx="2.80" ry="2.65" fill="#acacff"/>
<ellipse cx="428.2" cy="128.3" rx="2.80" ry="2.65" fill="#ff3c3c"/>
<ellipse cx="481.8" cy="50.2" rx="2.80" ry="2.65" fill="#c7c7ff"/>
<ellipse cx="389.3" cy="78.4" rx="2.80" ry="2.65" fill="#ffafaf"/>
<ellipse cx="501.3" cy="84.6" rx="2.80" ry="2.65" fill="#bfbfff"/>
<ellipse cx="396.0" cy="146.2" rx="2.80" ry="2.65" fill="#0000ff"/>
<ellipse cx="488.5" cy="64.4" rx="2.80" ry="2.65" fill="#bdbdff"/>
<ellipse cx="440.4" cy="107.0" rx="2.80" ry="2.65" fill="#ff5757"/>
<ellipse cx="409.4" cy="135.7" rx="2.80" ry="2.65" fill="#ff2b2b"/>
<ellipse cx="431.9" cy="123.4" rx="2.80" ry="2.65" fill="#ff3a3a"/>
<ellipse cx="406.8" cy="93.6" rx="2.80" ry="2.65" fill="#ffa6a6"/>
<ellipse cx="381.2" cy="39.3" rx="2.80" ry="2.65" fill="#ffdfdf"/>
<ellipse cx="368.9" cy="101.2" rx="2.80" ry="2.65" fill="#6565ff"/>
<ellipse cx="454.7" cy="69.9" rx="2.80" ry="2.65" fill="#dbdbff"/>
<ellipse cx="518.5" cy="55.6" rx="2.80" ry="2.65" fill="#ebebff"/>
<ellipse cx="425.3" cy="133.3" rx="2.80" ry="2.65" fill="#0000ff"/>
<ellipse cx="461.9" cy="176.0" rx="2.80" ry="2.65" fill="#ff0000"/>
<ellipse cx="445.8" cy="178.7" rx="2.80" ry="2.65" fill="#ff0000"/>
<ellipse cx="503.0" cy="82.0" rx="2.80" ry="2.65" fill="#bebeff"/>
<ellipse cx="411.6" cy="135.7" rx="2.80" ry="2.65" fill="#ff1e1e"/>
<ellipse cx="438.1" cy="147.1" rx="2.80" ry="2.65" fill="#ff1818"/>
<ellipse cx="484.0" cy="116.0" rx="2.80" ry="2.65" fill="#b1b1ff"/>
<ellipse cx="402.2" cy="152.7" rx="2.80" ry="2.65" fill="#0000ff"/>
<ellipse cx="511.0" cy="66.9" rx="2.80" ry="2.65" fill="#ceceff"/>
<ellipse cx="440.0" cy="51.4" rx="2.80" ry="2.65" fill="#ffe6e6"/>
<ellipse cx="459.9" cy="60.0" rx="2.80" ry="2.65" fill="#e2e2ff"/>
<ellipse cx="390.9" cy="87.5" rx="2.80" ry="2.65" fill="#ff9393"/>
<ellipse cx="416.6" cy="154.2" rx="2.80" ry="2.65" fill="#0000ff"/>
<ellipse cx="401.4" cy="73.6" rx="2.80" ry="2.65" fill="#ffc6c6"/>
<ellipse cx="363.7" cy="94.6" rx="2.80" ry="2.65" fill="#4f4fff"/>
<ellipse cx="441.5" cy="94.6" rx="2.80" ry="2.65" fill="#ff6e6e"/>
<ellipse cx="438.1" cy="166.7" rx="2.80" ry="2.65" fill="#ff0000"/>
<ellipse cx="434.4" cy="92.9" rx="2.80" ry="2.65" fill="#ff7c7c"/>
<ellipse cx="470.6" cy="53.4" rx="2.80" ry="2.65" fill="#e4e4ff"/>
<ellipse cx="437.8" cy="152.9" rx="2.80" ry="2.65" fill="#ff0000"/>
<ellipse cx="392.4" cy="49.2" rx="2.80" ry="2.65" fill="#ffcfcf"/>
<ellipse cx="448.9" cy="148.9" rx="2.80" ry="2.65" fill="#ff0202"/>
<ellipse cx="496.0" cy="49.3" rx="2.80" ry="2.65" fill="#dadaff"/>
<ellipse cx="417.0" cy="152.9" rx="2.80" ry="2.65" fill="#0000ff"/>
<ellipse cx="437.8" cy="133.1" rx="2.80" ry="2.65" fill="#0000ff"/>
<ellipse cx="420.8" cy="136.7" rx="2.80" ry="2.65" fill="#ff2f2f"/>
<ellipse cx="480.0" cy="95.4" rx="2.80" ry="2.65" fill="#e1e1ff"/>
<ellipse cx="418.3" cy="151.0" rx="2.80" ry="2.65" fill="#0000ff"/>
<ellipse cx="357.6" cy="99.5" rx="2.80" ry="2.65" fill="#5757ff"/>
<ellipse cx="393.3" cy="51.7" rx="2.80" ry="2.65" fill="#ffdcdc"/>
<ellipse cx="414.0" cy="134.6" rx="2.80" ry="2.65" fill="#0000ff"/>
<ellipse cx="405.2" cy="86.7" rx="2.80" ry="2.65" fill="#ffc2c2"/>
<ellipse cx="421.1" cy="156.9" rx="2.80" ry="2.65" fill="#0000ff"/>
<ellipse cx="500.4" cy="53.5" rx="2.80" ry="2.65" fill="#c3c3ff"/>
<ellipse cx="458.6" cy="76.2" rx="2.80" ry="2.65" fill="#ddddff"/>
<ellipse cx="490.5" cy="57.0" rx="2.80" ry="2.65" fill="#bcbcff"/>
<ellipse cx="398.1" cy="132.6" rx="2.80" ry="2.65" fill="#0000ff"/>
<ellipse cx="425.1" cy="97.1" rx="2.80" ry="2.65" fill="#ff6060"/>
<ellipse cx="374.8" cy="119.2" rx="2.80" ry="2.65" fill="#5151ff"/>
<ellipse cx="460.2" cy="95.8" rx="2.80" ry="2.65" fill="#adadff"/>
<ellipse cx="379.1" cy="126.3" rx="2.80" ry="2.65" fill="#5151ff"/>
<ellipse cx="423.6" cy="105.8" rx="2.80" ry="2.65" fill="#ff4444"/>
<ellipse cx="370.5" cy="78.8" rx="2.80" ry="2.65" fill="#ffa7a7"/>
<ellipse cx="373.7" cy="69.8" rx="2.80" ry="2.65" fill="#ffa3a3"/>
<ellipse cx="477.0" cy="57.6" rx="2.80" ry="2.65" fill="#bdbdff"/>
<ellipse cx="454.4" cy="113.1" rx="2.80" ry="2.65" fill="#ff4b4b"/>
<ellipse cx="374.0" cy="91.6" rx="2.80" ry="2.65" fill="#6767ff"/>
<ellipse cx="435.2" cy="31.9" rx="2.80" ry="2.65" fill="#ffe3e3"/>
<ellipse cx="436.8" cy="164.2" rx="2.80" ry="2.65" fill="#ff0000"/>
<ellipse cx="430.1" cy="109.1" rx="2.80" ry="2.65" fill="#ff6363"/>
<ellipse cx="500.7" cy="102.6" rx="2.80" ry="2.65" fill="#b5b5ff"/>
<ellipse cx="393.2" cy="124.0" rx="2.80" ry="2.65" fill="#6565ff"/>
<ellipse cx="381.9" cy="95.6" rx="2.80" ry="2.65" fill="#ff9f9f"/>
<ellipse cx="410.3" cy="26.9" rx="2.80" ry="2.65" fill="#ffd0d0"/>
<ellipse cx="454.1" cy="188.0" rx="2.80" ry="2.65" fill="#ff0000"/>
<ellipse cx="438.5" cy="158.6" rx="2.80" ry="2.65" fill="#ff0000"/>
<ellipse cx="390.0" cy="104.7" rx="2.80" ry="2.65" fill="#5c5cff"/>
<ellipse cx="418.3" cy="148.0" rx="2.80" ry="2.65" fill="#ff1313"/>
<ellipse cx="409.5" cy="106.4" rx="2.80" ry="2.65" fill="#ff4d4d"/>
<ellipse cx="526.8" cy="76.8" rx="2.80" ry="2.65" fill="#d2d2ff"/>
<ellipse cx="459.3" cy="87.0" rx="2.80" ry="2.65" fill="#b1b1ff"/>
<ellipse cx="379.3" cy="116.0" rx="2.80" ry="2.65" fill="#6e6eff"/>
<ellipse cx="463.2" cy="98.8" rx="2.80" ry="2.65" fill="#b5b5ff"/>
<ellipse cx="397.4" cy="104.9" rx="2.80" ry="2.65" fill="#6767ff"/>
<ellipse cx="398.1" cy="155.6" rx="2.80" ry="2.65" fill="#0000ff"/>
<ellipse cx="460.9" cy="58.4" rx="2.80" ry="2.65" fill="#cdcdff"/>
<ellipse cx="522.8" cy="69.3" rx="2.80" ry="2.65" fill="#d3d3ff"/>
<ellipse cx="438.3" cy="133.4" rx="2.80" ry="2.65" fill="#ff2929"/>
<ellipse cx="395.0" cy="121.1" rx="2.80" ry="2.65" fill="#6060ff"/>
<ellipse cx="396.5" cy="36.7" rx="2.80" ry="2.65" fill="#ffcccc"/>
<ellipse cx="368.0" cy="99.9" rx="2.80" ry="2.65" fill="#4f4fff"/>
<ellipse cx="458.4" cy="97.5" rx="2.80" ry="2.65" fill="#a6a6ff"/>
<ellipse cx="464.0" cy="192.0" rx="2.80" ry="2.65" fill="#ff0000"/>
<ellipse cx="414.2" cy="109.0" rx="2.80" ry="2.65" fill="#ff5959"/>
<ellipse cx="521.7" cy="90.0" rx="2.80" ry="2.65" fill="#c4c4ff"/>
<ellipse cx="401.2" cy="117.4" rx="2.80" ry="2.65" fill="#ff4747"/>
<ellipse cx="525.3" cy="61.8" rx="2.80" ry="2.65" fill="#c0c0ff"/>
<ellipse cx="356.2" cy="93.7" rx="2.80" ry="2.65" fill="#7c7cff"/>
<ellipse cx="381.5" cy="64.0" rx="2.80" ry="2.65" fill="#ffb3b3"/>
<ellipse cx="459.5" cy="175.7" rx="2.80" ry="2.65" fill="#ff0000"/>
<ellipse cx="395.3" cy="52.7" rx="2.80" ry="2.65" fill="#ffcece"/>
<ellipse cx="459.2" cy="69.6" rx="2.80" ry="2.65" fill="#e1e1ff"/>
<ellipse cx="373.3" cy="88.0" rx="2.80" ry="2.65" fill="#ffafaf"/>
<ellipse cx="476.8" cy="100.8" rx="2.80" ry="2.65" fill="#b3b3ff"/>
<ellipse cx="358.6" cy="87.8" rx="2.80" ry="2.65" fill="#0000ff"/>
<ellipse cx="410.0" cy="142.4" rx="2.80" ry="2.65" fill="#ff2222"/>
<ellipse cx="408.1" cy="129.1" rx="2.80" ry="2.65" fill="#ff3535"/>
<ellipse cx="405.5" cy="87.6" rx="2.80" ry="2.65" fill="#ff8686"/>
<ellipse cx="413.8" cy="132.0" rx="2.80" ry="2.65" fill="#0000ff"/>
<ellipse cx="451.2" cy="197.1" rx="2.80" ry="2.65" fill="#ff0000"/>
<ellipse cx="397.1" cy="107.9" rx="2.80" ry="2.65" fill="#5555ff"/>
<ellipse cx="391.9" cy="130.9" rx="2.80" ry="2.65" fill="#5d5dff"/>
<ellipse cx="376.9" cy="123.0" rx="2.80" ry="2.65" fill="#4a4aff"/>
<ellipse cx="433.8" cy="164.4" rx="2.80" ry="2.65" fill="#ff0000"/>
<ellipse cx="395.7" cy="152.0" rx="2.80" ry="2.65" fill="#0000ff"/>
<ellipse cx="439.8" cy="189.7" rx="2.80" ry="2.65" fill="#ff0000"/>
<ellipse cx="390.0" cy="85.4" rx="2.80" ry="2.65" fill="#ffa9a9"/>
<ellipse cx="465.2" cy="49.1" rx="2.80" ry="2.65" fill="#e0e0ff"/>
<ellipse cx="397.0" cy="132.7" rx="2.80" ry="2.65" fill="#5c5cff"/>
<ellipse cx="469.8" cy="49.8" rx="2.80" ry="2.65" fill="#d7d7ff"/>
<ellipse cx="439.0" cy="97.5" rx="2.80" ry="2.65" fill="#ff5f5f"/>
<ellipse cx="364.1" cy="55.3" rx="2.80" ry="2.65" fill="#ffc3c3"/>
<ellipse cx="387.6" cy="84.2" rx="2.80" ry="2.65" fill="#ff9494"/>
<ellipse cx="443.2" cy="30.4" rx="2.80" ry="2.65" fill="#ffe7e7"/>
<ellipse cx="404.2" cy="95.7" rx="2.80" ry="2.65" fill="#ff6f6f"/>
<ellipse cx="373.7" cy="91.6" rx="2.80" ry="2.65" fill="#6565ff"/>
<ellipse cx="410.2" cy="136.6" rx="2.80" ry="2.65" fill="#ff3232"/>
<ellipse cx="417.7" cy="105.5" rx="2.80" ry="2.65" fill="#ff6868"/>
<ellipse cx="372.0" cy="71.6" rx="2.80" ry="2.65" fill="#ffcbcb"/>
<ellipse cx="371.8" cy="54.2" rx="2.80" ry="2.65" fill="#ffbfbf"/>
<ellipse cx="444.1" cy="107.3" rx="2.80" ry="2.65" fill="#ff6060"/>
<ellipse cx="362.0" cy="89.9" rx="2.80" ry="2.65" fill="#5757ff"/>
<ellipse cx="405.2" cy="139.9" rx="2.80" ry="2.65" fill="#ff1717"/>
<ellipse cx="382.0" cy="119.2" rx="2.80" ry="2.65" fill="#4e4eff"/>
<ellipse cx="367.7" cy="86.2" rx="2.80" ry="2.65" fill="#ffb1b1"/>
<ellipse cx="433.4" cy="170.3" rx="2.80" ry="2.65" fill="#ff0000"/>
<ellipse cx="413.2" cy="96.5" rx="2.80" ry="2.65" fill="#ff8080"/>
<ellipse cx="433.8" cy="158.1" rx="2.80" ry="2.65" fill="#ff0000"/>
<ellipse cx="403.8" cy="100.0" rx="2.80" ry="2.65" fill="#ff8282"/>
<ellipse cx="421.5" cy="112.5" rx="2.80" ry="2.65" fill="#ff5959"/>
<ellipse cx="443.7" cy="180.2" rx="2.80" ry="2.65" fill="#ff0000"/>
<ellipse cx="424.7" cy="180.8" rx="2.80" ry="2.65" fill="#ff0000"/>
<ellipse cx="375.5" cy="68.7" rx="2.80" ry="2.65" fill="#ffb0b0"/>
<ellipse cx="439.2" cy="130.7" rx="2.80" ry="2.65" fill="#ff6363"/>
<ellipse cx="464.3" cy="61.6" rx="2.80" ry="2.65" fill="#ececff"/>
<ellipse cx="367.5" cy="101.0" rx="2.80" ry="2.65" fill="#4646ff"/>
<ellipse cx="390.4" cy="97.7" rx="2.80" ry="2.65" fill="#ff9a9a"/>
<ellipse cx="371.9" cy="91.1" rx="2.80" ry="2.65" fill="#5f5fff"/>
<ellipse cx="403.6" cy="151.2" rx="2.80" ry="2.65" fill="#0000ff"/>
<ellipse cx="363.0" cy="60.9" rx="2.80" ry="2.65" fill="#ffc7c7"/>
<ellipse cx="456.5" cy="181.4" rx="2.80" ry="2.65" fill="#ff0000"/>
<ellipse cx="457.9" cy="44.2" rx="2.80" ry="2.65" fill="#d7d7ff"/>
<ellipse cx="442.6" cy="66.2" rx="2.80" ry="2.65" fill="#ffe4e4"/>
<ellipse cx="482.8" cy="50.5" rx="2.80" ry="2.65" fill="#cbcbff"/>
<ellipse cx="430.0" cy="104.5" rx="2.80" ry="2.65" fill="#ff6a6a"/>
<ellipse cx="434.9" cy="61.1" rx="2.80" ry="2.65" fill="#ffebeb"/>
<ellipse cx="466.0" cy="65.5" rx="2.80" ry="2.65" fill="#ccccff"/>
<ellipse cx="451.1" cy="140.7" rx="2.80" ry="2.65" fill="#ff1c1c"/>
<ellipse cx="369.9" cy="68.2" rx="2.80" ry="2.65" fill="#ff9191"/>
<ellipse cx="453.3" cy="189.7" rx="2.80" ry="2.65" fill="#ff0000"/>
<ellipse cx="372.7" cy="100.8" rx="2.80" ry="2.65" fill="#4545ff"/>
<ellipse cx="419.3" cy="125.4" rx="2.80" ry="2.65" fill="#0000ff"/>
<ellipse cx="408.1" cy="155.6" rx="2.80" ry="2.65" fill="#0000ff"/>
<ellipse cx="435.3" cy="146.7" rx="2.80" ry="2.65" fill="#ff0000"/>
<ellipse cx="353.3" cy="88.6" rx="2.80" ry="2.65" fill="#0000ff"/>
<ellipse cx="435.6" cy="19.6" rx="2.80" ry="2.65" fill="#ffe7e7"/>
<ellipse cx="476.8" cy="95.3" rx="2.80" ry="2.65" fill="#bbbbff"/>
<ellipse cx="400.1" cy="150.5" rx="2.80" ry="2.65" fill="#0000ff"/>
<ellipse cx="389.1" cy="105.2" rx="2.80" ry="2.65" fill="#5353ff"/>
<ellipse cx="369.6" cy="53.0" rx="2.80" ry="2.65" fill="#ffc0c0"/>
<ellipse cx="477.7" cy="60.1" rx="2.80" ry="2.65" fill="#c6c6ff"/>
<ellipse cx="453.0" cy="168.8" rx="2.80" ry="2.65" fill="#ff0000"/>
<ellipse cx="397.9" cy="89.8" rx="2.80" ry="2.65" fill="#ff7a7a"/>
<ellipse cx="422.9" cy="151.2" rx="2.80" ry="2.65" fill="#0000ff"/>
<ellipse cx="377.0" cy="155.8" rx="2.80" ry="2.65" fill="#0000ff"/>
<ellipse cx="398.7" cy="140.9" rx="2.80" ry="2.65" fill="#0000ff"/>
<ellipse cx="376.1" cy="88.8" rx="2.80" ry="2.65" fill="#ff9a9a"/>
<ellipse cx="433.9" cy="113.2" rx="2.80" ry="2.65" fill="#ff4d4d"/>
<ellipse cx="504.3" cy="50.1" rx="2.80" ry="2.65" fill="#afafff"/>
<ellipse cx="406.4" cy="86.7" rx="2.80" ry="2.65" fill="#ff8383"/>
<ellipse cx="426.9" cy="182.8" rx="2.80" ry="2.65" fill="#ff0000"/>
<ellipse cx="461.0" cy="65.7" rx="2.80" ry="2.65" fill="#dedeff"/>
<ellipse cx="449.0" cy="100.3" rx="2.80" ry="2.65" fill="#ff5151"/>
<ellipse cx="441.8" cy="139.4" rx="2.80" ry="2.65" fill="#ff3838"/>
<ellipse cx="397.7" cy="87.2" rx="2.80" ry="2.65" fill="#ff9a9a"/>
<ellipse cx="446.4" cy="135.0" rx="2.80" ry="2.65" fill="#ff0f0f"/>
<ellipse cx="422.6" cy="176.3" rx="2.80" ry="2.65" fill="#ff0000"/>
<ellipse cx="469.3" cy="80.0" rx="2.80" ry="2.65" fill="#a9a9ff"/>
<ellipse cx="465.9" cy="76.8" rx="2.80" ry="2.65" fill="#cfcfff"/>
<ellipse cx="483.3" cy="89.3" rx="2.80" ry="2.65" fill="#aeaeff"/>
<ellipse cx="364.7" cy="83.2" rx="2.80" ry="2.65" fill="#5656ff"/>
<ellipse cx="415.8" cy="138.8" rx="2.80" ry="2.65" fill="#ff1717"/>
<ellipse cx="409.0" cy="126.3" rx="2.80" ry="2.65" fill="#6868ff"/>
<ellipse cx="382.0" cy="145.0" rx="2.80" ry="2.65" fill="#0000ff"/>
<ellipse cx="384.8" cy="58.1" rx="2.80" ry="2.65" fill="#ffefef"/>
<ellipse cx="451.0" cy="178.4" rx="2.80" ry="2.65" fill="#ff0000"/>
<ellipse cx="382.3" cy="91.9" rx="2.80" ry="2.65" fill="#ffb8b8"/>
<ellipse cx="457.5" cy="53.2" rx="2.80" ry="2.65" fill="#b6b6ff"/>
<ellipse cx="414.8" cy="88.3" rx="2.80" ry="2.65" fill="#ff6d6d"/>
<ellipse cx="437.1" cy="50.3" rx="2.80" ry="2.65" fill="#ffe6e6"/>
<ellipse cx="414.9" cy="75.4" rx="2.80" ry="2.65" fill="#ffbdbd"/>
<ellipse cx="432.4" cy="114.0" rx="2.80" ry="2.65" fill="#ff5555"/>
<ellipse cx="417.7" cy="148.8" rx="2.80" ry="2.65" fill="#0000ff"/>
<ellipse cx="428.4" cy="90.1" rx="2.80" ry="2.65" fill="#ff5f5f"/>
<ellipse cx="413.6" cy="109.4" rx="2.80" ry="2.65" fill="#ff3c3c"/>
<ellipse cx="487.7" cy="63.5" rx="2.80" ry="2.65" fill="#e6e6ff"/>
<ellipse cx="485.9" cy="53.3" rx="2.80" ry="2.65" fill="#adadff"/>
<ellipse cx="502.6" cy="103.4" rx="2.80" ry="2.65" fill="#b3b3ff"/>
<ellipse cx="450.6" cy="197.2" rx="2.80" ry="2.65" fill="#ff0000"/>
<ellipse cx="418.4" cy="144.8" rx="2.80" ry="2.65" fill="#0000ff"/>
<ellipse cx="400.0" cy="65.9" rx="2.80" ry="2.65" fill="#ffc6c6"/>
<ellipse cx="457.6" cy="47.1" rx="2.80" ry="2.65" fill="#e4e4ff"/>
<ellipse cx="515.1" cy="95.0" rx="2.80" ry="2.65" fill="#b0b0ff"/>
<ellipse cx="428.1" cy="140.4" rx="2.80" ry="2.65" fill="#ff0101"/>
<ellipse cx="424.8" cy="100.0" rx="2.80" ry="2.65" fill="#ff8383"/>
<ellipse cx="480.6" cy="76.6" rx="2.80" ry="2.65" fill="#d2d2ff"/>
<ellipse cx="388.5" cy="152.6" rx="2.80" ry="2.65" fill="#0000ff"/>
<ellipse cx="463.8" cy="65.7" rx="2.80" ry="2.65" fill="#c5c5ff"/>
<ellipse cx="401.1" cy="95.9" rx="2.80" ry="2.65" fill="#ff7878"/>
<ellipse cx="378.3" cy="54.1" rx="2.80" ry="2.65" fill="#ffcdcd"/>
<ellipse cx="381.7" cy="67.3" rx="2.80" ry="2.65" fill="#ff9e9e"/>
<ellipse cx="429.7" cy="105.9" rx="2.80" ry="2.65" fill="#ff4040"/>
<ellipse cx="440.1" cy="42.6" rx="2.80" ry="2.65" fill="#ffeaea"/>
<ellipse cx="400.6" cy="93.3" rx="2.80" ry="2.65" fill="#ff8383"/>
<ellipse cx="422.8" cy="63.4" rx="2.80" ry="2.65" fill="#ffc7c7"/>
<ellipse cx="522.3" cy="91.3" rx="2.80" ry="2.65" fill="#b9b9ff"/>
<ellipse cx="439.2" cy="180.2" rx="2.80" ry="2.65" fill="#ff0000"/>
<ellipse cx="419.4" cy="157.9" rx="2.80" ry="2.65" fill="#ff0000"/>
<ellipse cx="373.0" cy="50.4" rx="2.80" ry="2.65" fill="#ffb9b9"/>
<ellipse cx="376.3" cy="155.5" rx="2.80" ry="2.65" fill="#0000ff"/>
<ellipse cx="429.6" cy="151.9" rx="2.80" ry="2.65" fill="#ff1111"/>
<ellipse cx="449.9" cy="147.3" rx="2.80" ry="2.65" fill="#ff0000"/>
<ellipse cx="522.3" cy="97.2" rx="2.80" ry="2.65" fill="#bdbdff"/>
<ellipse cx="429.0" cy="96.2" rx="2.80" ry="2.65" fill="#ff6e6e"/>
<ellipse cx="388.4" cy="131.7" rx="2.80" ry="2.65" fill="#0000ff"/>
<ellipse cx="373.4" cy="93.0" rx="2.80" ry="2.65" fill="#6161ff"/>
<ellipse cx="489.7" cy="86.8" rx="2.80" ry="2.65" fill="#c8c8ff"/>
<ellipse cx="393.6" cy="144.0" rx="2.80" ry="2.65" fill="#0000ff"/>
<ellipse cx="377.7" cy="68.9" rx="2.80" ry="2.65" fill="#ffacac"/>
<ellipse cx="497.9" cy="47.2" rx="2.80" ry="2.65" fill="#d6d6ff"/>
<ellipse cx="398.9" cy="102.7" rx="2.80" ry="2.65" fill="#ff4646"/>
<ellipse cx="478.2" cy="66.1" rx="2.80" ry="2.65" fill="#e8e8ff"/>
<ellipse cx="452.4" cy="170.0" rx="2.80" ry="2.65" fill="#ff0000"/>
<ellipse cx="492.5" cy="104.0" rx="2.80" ry="2.65" fill="#bcbcff"/>
<ellipse cx="467.9" cy="61.9" rx="2.80" ry="2.65" fill="#dbdbff"/>
<ellipse cx="399.7" cy="128.5" rx="2.80" ry="2.65" fill="#ff3d3d"/>
<ellipse cx="446.1" cy="37.9" rx="2.80" ry="2.65" fill="#ffe5e5"/>
<ellipse cx="441.2" cy="126.2" rx="2.80" ry="2.65" fill="#ff3838"/>
<ellipse cx="457.0" cy="112.0" rx="2.80" ry="2.65" fill="#b1b1ff"/>
<ellipse cx="427.8" cy="112.1" rx="2.80" ry="2.65" fill="#ff6969"/>
<ellipse cx="447.3" cy="125.3" rx="2.80" ry="2.65" fill="#ff3c3c"/>
<ellipse cx="403.0" cy="93.9" rx="2.80" ry="2.65" fill="#ff6b6b"/>
<ellipse cx="435.6" cy="88.6" rx="2.80" ry="2.65" fill="#ff8b8b"/>
<ellipse cx="384.9" cy="76.2" rx="2.80" ry="2.65" fill="#ffb0b0"/>
<ellipse cx="392.4" cy="101.9" rx="2.80" ry="2.65" fill="#5c5cff"/>
<ellipse cx="404.6" cy="139.4" rx="2.80" ry="2.65" fill="#ff2d2d"/>
<ellipse cx="383.3" cy="35.7" rx="2.80" ry="2.65" fill="#ffd5d5"/>
<ellipse cx="379.3" cy="100.4" rx="2.80" ry="2.65" fill="#5454ff"/>
<ellipse cx="395.3" cy="66.3" rx="2.80" ry="2.65" fill="#ffc5c5"/>
<ellipse cx="455.5" cy="158.5" rx="2.80" ry="2.65" fill="#ff0000"/>
<ellipse cx="442.9" cy="128.2" rx="2.80" ry="2.65" fill="#ff3b3b"/>
<ellipse cx="417.3" cy="95.7" rx="2.80" ry="2.65" fill="#ff7171"/>
<ellipse cx="446.1" cy="147.9" rx="2.80" ry="2.65" fill="#ff1b1b"/>
<ellipse cx="409.8" cy="110.6" rx="2.80" ry="2.65" fill="#ff6464"/>
<ellipse cx="516.9" cy="52.3" rx="2.80" ry="2.65" fill="#d1d1ff"/>
<ellipse cx="385.2" cy="93.6" rx="2.80" ry="2.65" fill="#7a7aff"/>
<ellipse cx="459.6" cy="180.1" rx="2.80" ry="2.65" fill="#ff0000"/>
<ellipse cx="432.0" cy="183.2" rx="2.80" ry="2.65" fill="#ff0000"/>
<ellipse cx="364.6" cy="120.0" rx="2.80" ry="2.65" fill="#0000ff"/>
<ellipse cx="468.6" cy="74.0" rx="2.80" ry="2.65" fill="#c9c9ff"/>
<ellipse cx="415.8" cy="144.1" rx="2.80" ry="2.65" fill="#ff1919"/>
<ellipse cx="371.9" cy="111.8" rx="2.80" ry="2.65" fill="#6262ff"/>
<ellipse cx="346.0" cy="94.0" rx="2.80" ry="2.65" fill="#0000ff"/>
<ellipse cx="476.5" cy="53.0" rx="2.80" ry="2.65" fill="#cdcdff"/>
<ellipse cx="403.0" cy="136.9" rx="2.80" ry="2.65" fill="#ff3d3d"/>
<ellipse cx="387.3" cy="39.1" rx="2.80" ry="2.65" fill="#ffcaca"/>
<ellipse cx="399.2" cy="60.7" rx="2.80" ry="2.65" fill="#ffc9c9"/>
<ellipse cx="402.6" cy="93.5" rx="2.80" ry="2.65" fill="#ff7878"/>
<ellipse cx="368.6" cy="78.7" rx="2.80" ry="2.65" fill="#ffa8a8"/>
<ellipse cx="382.4" cy="71.9" rx="2.80" ry="2.65" fill="#ffb4b4"/>
<ellipse cx="405.8" cy="111.8" rx="2.80" ry="2.65" fill="#ff4444"/>
<ellipse cx="379.2" cy="83.7" rx="2.80" ry="2.65" fill="#ffb0b0"/>
<ellipse cx="403.6" cy="137.1" rx="2.80" ry="2.65" fill="#0000ff"/>
<ellipse cx="455.6" cy="43.9" rx="2.80" ry="2.65" fill="#ddddff"/>
<ellipse cx="424.6" cy="147.5" rx="2.80" ry="2.65" fill="#ff0000"/>
<ellipse cx="464.3" cy="54.2" rx="2.80" ry="2.65" fill="#d2d2ff"/>
<ellipse cx="397.5" cy="126.8" rx="2.80" ry="2.65" fill="#5050ff"/>
<ellipse cx="452.7" cy="192.0" rx="2.80" ry="2.65" fill="#ff0000"/>
<ellipse cx="422.1" cy="151.6" rx="2.80" ry="2.65" fill="#ff0000"/>
<ellipse cx="473.3" cy="64.1" rx="2.80" ry="2.65" fill="#e5e5ff"/>
<ellipse cx="464.1" cy="96.0" rx="2.80" ry="2.65" fill="#bdbdff"/>
<ellipse cx="449.7" cy="162.9" rx="2.80" ry="2.65" fill="#ff0000"/>
<ellipse cx="474.6" cy="72.4" rx="2.80" ry="2.65" fill="#d0d0ff"/>
<ellipse cx="426.7" cy="160.0" rx="2.80" ry="2.65" fill="#ff0000"/>
<ellipse cx="376.5" cy="138.1" rx="2.80" ry="2.65" fill="#0000ff"/>
<ellipse cx="439.4" cy="173.8" rx="2.80" ry="2.65" fill="#ff0000"/>
<ellipse cx="418.6" cy="57.4" rx="2.80" ry="2.65" fill="#ffe0e0"/>
</g>
<line x1="363.4" y1="208.0" x2="521.1" y2="208.0" stroke="#4a4a4a" stroke-width="1.4"/>
<line x1="363.4" y1="208.0" x2="363.4" y2="214.5" stroke="#4a4a4a" stroke-width="1.3"/>
<line x1="394.9" y1="208.0" x2="394.9" y2="214.5" stroke="#4a4a4a" stroke-width="1.3"/>
<line x1="426.5" y1="208.0" x2="426.5" y2="214.5" stroke="#4a4a4a" stroke-width="1.3"/>
<line x1="458.1" y1="208.0" x2="458.1" y2="214.5" stroke="#4a4a4a" stroke-width="1.3"/>
<line x1="489.6" y1="208.0" x2="489.6" y2="214.5" stroke="#4a4a4a" stroke-width="1.3"/>
<line x1="521.1" y1="208.0" x2="521.1" y2="214.5" stroke="#4a4a4a" stroke-width="1.3"/>
<line x1="333.5" y1="199.3" x2="333.5" y2="42.3" stroke="#4a4a4a" stroke-width="1.4"/>
<line x1="326.5" y1="199.3" x2="333.5" y2="199.3" stroke="#4a4a4a" stroke-width="1.3"/>
<line x1="326.5" y1="167.9" x2="333.5" y2="167.9" stroke="#4a4a4a" stroke-width="1.3"/>
<line x1="326.5" y1="136.5" x2="333.5" y2="136.5" stroke="#4a4a4a" stroke-width="1.3"/>
<line x1="326.5" y1="105.1" x2="333.5" y2="105.1" stroke="#4a4a4a" stroke-width="1.3"/>
<line x1="326.5" y1="73.7" x2="333.5" y2="73.7" stroke="#4a4a4a" stroke-width="1.3"/>
<line x1="326.5" y1="42.3" x2="333.5" y2="42.3" stroke="#4a4a4a" stroke-width="1.3"/>
<text transform="translate(363.40 231.60) scale(1.000 0.920)" font-size="9.10" text-anchor="middle" font-weight="bold" fill="#4d4d4d" font-family='"DejaVu Sans", "Liberation Sans", sans-serif' >-10</text>
<text transform="translate(394.95 231.60) scale(1.000 0.920)" font-size="9.10" text-anchor="middle" font-weight="bold" fill="#4d4d4d" font-family='"DejaVu Sans", "Liberation Sans", sans-serif' >-5</text>
<text transform="translate(426.50 231.60) scale(1.000 0.920)" font-size="9.10" text-anchor="middle" font-weight="bold" fill="#4d4d4d" font-family='"DejaVu Sans", "Liberation Sans", sans-serif' >0</text>
<text transform="translate(458.05 231.60) scale(1.000 0.920)" font-size="9.10" text-anchor="middle" font-weight="bold" fill="#4d4d4d" font-family='"DejaVu Sans", "Liberation Sans", sans-serif' >5</text>
<text transform="translate(489.60 231.60) scale(1.000 0.920)" font-size="9.10" text-anchor="middle" font-weight="bold" fill="#4d4d4d" font-family='"DejaVu Sans", "Liberation Sans", sans-serif' >10</text>
<text transform="translate(521.15 231.60) scale(1.000 0.920)" font-size="9.10" text-anchor="middle" font-weight="bold" fill="#4d4d4d" font-family='"DejaVu Sans", "Liberation Sans", sans-serif' >15</text>
<text transform="translate(317.00 199.30) rotate(-90)" font-size="9.30" text-anchor="middle" font-weight="bold" fill="#4d4d4d" font-family='"DejaVu Sans", "Liberation Sans", sans-serif' >-15</text>
<text transform="translate(317.00 167.90) rotate(-90)" font-size="9.30" text-anchor="middle" font-weight="bold" fill="#4d4d4d" font-family='"DejaVu Sans", "Liberation Sans", sans-serif' >-10</text>
<text transform="translate(317.00 136.50) rotate(-90)" font-size="9.30" text-anchor="middle" font-weight="bold" fill="#4d4d4d" font-family='"DejaVu Sans", "Liberation Sans", sans-serif' >-5</text>
<text transform="translate(317.00 105.10) rotate(-90)" font-size="9.30" text-anchor="middle" font-weight="bold" fill="#4d4d4d" font-family='"DejaVu Sans", "Liberation Sans", sans-serif' >0</text>
<text transform="translate(317.00 73.70) rotate(-90)" font-size="9.30" text-anchor="middle" font-weight="bold" fill="#4d4d4d" font-family='"DejaVu Sans", "Liberation Sans", sans-serif' >5</text>
<text transform="translate(317.00 42.30) rotate(-90)" font-size="9.30" text-anchor="middle" font-weight="bold" fill="#4d4d4d" font-family='"DejaVu Sans", "Liberation Sans", sans-serif' >10</text>
<text transform="translate(434.40 257.70) scale(1.000 0.920)" font-size="9.50" text-anchor="middle" font-weight="bold" fill="#4d4d4d" font-family='"DejaVu Sans", "Liberation Sans", sans-serif' >PC3 (10.07%)</text>
<text transform="translate(292.60 108.80) rotate(-90)" font-size="10.60" text-anchor="middle" font-weight="normal" fill="#2e2e2e" font-family='"DejaVu Sans", "Liberation Sans", sans-serif' >PC2 (12.27%)</text>
<clipPath id="cC"><rect x="63.5" y="273.2" width="202.9" height="196.6"/></clipPath>
<rect x="63.5" y="273.2" width="202.9" height="196.6" fill="none" stroke="#8a8a8a" stroke-width="1.3"/>
<line x1="142.9" y1="273.2" x2="142.9" y2="469.8" stroke="#cacaca" stroke-width="1.5" stroke-dasharray="3.5 3.0"/>
<line x1="63.5" y1="378.8" x2="266.4" y2="378.8" stroke="#cacaca" stroke-width="1.5" stroke-dasharray="3.5 3.0"/>
<g clip-path="url(#cC)">
<ellipse cx="218.5" cy="401.7" rx="2.80" ry="2.65" fill="#1515ff"/>
<ellipse cx="152.8" cy="341.5" rx="2.80" ry="2.65" fill="#c5c5ff"/>
<ellipse cx="208.3" cy="379.4" rx="2.80" ry="2.65" fill="#4b4bff"/>
<ellipse cx="80.7" cy="359.1" rx="2.80" ry="2.65" fill="#ff0000"/>
<ellipse cx="197.0" cy="437.3" rx="2.80" ry="2.65" fill="#5050ff"/>
<ellipse cx="167.3" cy="297.9" rx="2.80" ry="2.65" fill="#c8c8ff"/>
<ellipse cx="109.3" cy="371.5" rx="2.80" ry="2.65" fill="#ff0404"/>
<ellipse cx="114.7" cy="353.7" rx="2.80" ry="2.65" fill="#ff0000"/>
<ellipse cx="98.0" cy="429.0" rx="2.80" ry="2.65" fill="#ffafaf"/>
<ellipse cx="226.5" cy="377.6" rx="2.80" ry="2.65" fill="#0000ff"/>
<ellipse cx="95.1" cy="390.7" rx="2.80" ry="2.65" fill="#ff0b0b"/>
<ellipse cx="98.0" cy="349.0" rx="2.80" ry="2.65" fill="#ff0000"/>
<ellipse cx="94.1" cy="366.2" rx="2.80" ry="2.65" fill="#ff0000"/>
<ellipse cx="94.6" cy="400.7" rx="2.80" ry="2.65" fill="#ff2424"/>
<ellipse cx="76.8" cy="362.1" rx="2.80" ry="2.65" fill="#ff0000"/>
<ellipse cx="180.5" cy="317.5" rx="2.80" ry="2.65" fill="#d1d1ff"/>
<ellipse cx="201.0" cy="401.9" rx="2.80" ry="2.65" fill="#2323ff"/>
<ellipse cx="86.3" cy="399.3" rx="2.80" ry="2.65" fill="#ff0c0c"/>
<ellipse cx="109.3" cy="357.7" rx="2.80" ry="2.65" fill="#ff1010"/>
<ellipse cx="93.3" cy="379.9" rx="2.80" ry="2.65" fill="#ff0000"/>
<ellipse cx="109.8" cy="394.1" rx="2.80" ry="2.65" fill="#ff1a1a"/>
<ellipse cx="200.7" cy="448.1" rx="2.80" ry="2.65" fill="#8888ff"/>
<ellipse cx="107.8" cy="437.6" rx="2.80" ry="2.65" fill="#ffbcbc"/>
<ellipse cx="157.5" cy="313.8" rx="2.80" ry="2.65" fill="#c6c6ff"/>
<ellipse cx="94.9" cy="381.2" rx="2.80" ry="2.65" fill="#ff0404"/>
<ellipse cx="200.7" cy="368.9" rx="2.80" ry="2.65" fill="#7d7dff"/>
<ellipse cx="109.6" cy="352.8" rx="2.80" ry="2.65" fill="#ff1a1a"/>
<ellipse cx="115.1" cy="389.2" rx="2.80" ry="2.65" fill="#ff6f6f"/>
<ellipse cx="104.4" cy="375.4" rx="2.80" ry="2.65" fill="#ff0202"/>
<ellipse cx="105.8" cy="429.7" rx="2.80" ry="2.65" fill="#ffb3b3"/>
<ellipse cx="107.9" cy="355.0" rx="2.80" ry="2.65" fill="#ff0000"/>
<ellipse cx="208.7" cy="361.8" rx="2.80" ry="2.65" fill="#0f0fff"/>
<ellipse cx="88.6" cy="414.8" rx="2.80" ry="2.65" fill="#ffaeae"/>
<ellipse cx="176.7" cy="426.6" rx="2.80" ry="2.65" fill="#7272ff"/>
<ellipse cx="195.4" cy="368.7" rx="2.80" ry="2.65" fill="#5f5fff"/>
<ellipse cx="155.9" cy="363.5" rx="2.80" ry="2.65" fill="#e9e9ff"/>
<ellipse cx="185.9" cy="395.4" rx="2.80" ry="2.65" fill="#5757ff"/>
<ellipse cx="171.9" cy="293.1" rx="2.80" ry="2.65" fill="#d6d6ff"/>
<ellipse cx="176.5" cy="412.9" rx="2.80" ry="2.65" fill="#4f4fff"/>
<ellipse cx="197.3" cy="372.6" rx="2.80" ry="2.65" fill="#2727ff"/>
<ellipse cx="101.6" cy="426.2" rx="2.80" ry="2.65" fill="#ffb2b2"/>
<ellipse cx="125.0" cy="382.7" rx="2.80" ry="2.65" fill="#ff7f7f"/>
<ellipse cx="196.0" cy="374.5" rx="2.80" ry="2.65" fill="#1818ff"/>
<ellipse cx="117.7" cy="392.6" rx="2.80" ry="2.65" fill="#ff8888"/>
<ellipse cx="73.6" cy="377.9" rx="2.80" ry="2.65" fill="#ff0202"/>
<ellipse cx="203.0" cy="462.3" rx="2.80" ry="2.65" fill="#3c3cff"/>
<ellipse cx="98.8" cy="356.0" rx="2.80" ry="2.65" fill="#ff0606"/>
<ellipse cx="108.4" cy="373.4" rx="2.80" ry="2.65" fill="#ff0000"/>
<ellipse cx="108.1" cy="395.9" rx="2.80" ry="2.65" fill="#ff8c8c"/>
<ellipse cx="99.0" cy="430.9" rx="2.80" ry="2.65" fill="#ffa0a0"/>
<ellipse cx="203.2" cy="390.6" rx="2.80" ry="2.65" fill="#2626ff"/>
<ellipse cx="169.1" cy="412.0" rx="2.80" ry="2.65" fill="#6868ff"/>
<ellipse cx="171.3" cy="380.8" rx="2.80" ry="2.65" fill="#5252ff"/>
<ellipse cx="196.2" cy="373.4" rx="2.80" ry="2.65" fill="#5151ff"/>
<ellipse cx="99.6" cy="396.6" rx="2.80" ry="2.65" fill="#ff9595"/>
<ellipse cx="189.4" cy="430.5" rx="2.80" ry="2.65" fill="#5959ff"/>
<ellipse cx="225.7" cy="391.5" rx="2.80" ry="2.65" fill="#1515ff"/>
<ellipse cx="229.5" cy="395.1" rx="2.80" ry="2.65" fill="#0000ff"/>
<ellipse cx="175.7" cy="344.6" rx="2.80" ry="2.65" fill="#e1e1ff"/>
<ellipse cx="76.0" cy="374.0" rx="2.80" ry="2.65" fill="#ff0000"/>
<ellipse cx="168.0" cy="282.8" rx="2.80" ry="2.65" fill="#c5c5ff"/>
<ellipse cx="89.0" cy="365.8" rx="2.80" ry="2.65" fill="#ff0000"/>
<ellipse cx="241.3" cy="422.3" rx="2.80" ry="2.65" fill="#0000ff"/>
<ellipse cx="156.1" cy="279.0" rx="2.80" ry="2.65" fill="#b2b2ff"/>
<ellipse cx="91.2" cy="397.2" rx="2.80" ry="2.65" fill="#ff1717"/>
<ellipse cx="112.4" cy="416.4" rx="2.80" ry="2.65" fill="#ffa3a3"/>
<ellipse cx="199.6" cy="371.9" rx="2.80" ry="2.65" fill="#6b6bff"/>
<ellipse cx="208.2" cy="393.4" rx="2.80" ry="2.65" fill="#6565ff"/>
<ellipse cx="166.8" cy="357.0" rx="2.80" ry="2.65" fill="#e1e1ff"/>
<ellipse cx="178.0" cy="365.4" rx="2.80" ry="2.65" fill="#e3e3ff"/>
<ellipse cx="86.6" cy="401.5" rx="2.80" ry="2.65" fill="#ff1313"/>
<ellipse cx="227.7" cy="406.9" rx="2.80" ry="2.65" fill="#0000ff"/>
<ellipse cx="105.7" cy="438.0" rx="2.80" ry="2.65" fill="#ffb4b4"/>
<ellipse cx="178.5" cy="389.5" rx="2.80" ry="2.65" fill="#6565ff"/>
<ellipse cx="208.9" cy="386.0" rx="2.80" ry="2.65" fill="#0000ff"/>
<ellipse cx="107.7" cy="395.8" rx="2.80" ry="2.65" fill="#ff2525"/>
<ellipse cx="223.1" cy="397.5" rx="2.80" ry="2.65" fill="#0909ff"/>
<ellipse cx="168.8" cy="352.9" rx="2.80" ry="2.65" fill="#dfdfff"/>
<ellipse cx="224.3" cy="396.8" rx="2.80" ry="2.65" fill="#0000ff"/>
<ellipse cx="199.6" cy="433.6" rx="2.80" ry="2.65" fill="#5151ff"/>
<ellipse cx="72.0" cy="389.3" rx="2.80" ry="2.65" fill="#ff1010"/>
<ellipse cx="109.9" cy="417.3" rx="2.80" ry="2.65" fill="#ff9999"/>
<ellipse cx="205.5" cy="371.2" rx="2.80" ry="2.65" fill="#1c1cff"/>
<ellipse cx="80.8" cy="355.4" rx="2.80" ry="2.65" fill="#ff0000"/>
<ellipse cx="160.3" cy="309.0" rx="2.80" ry="2.65" fill="#c3c3ff"/>
<ellipse cx="102.6" cy="380.6" rx="2.80" ry="2.65" fill="#ff0202"/>
<ellipse cx="225.7" cy="377.1" rx="2.80" ry="2.65" fill="#0000ff"/>
<ellipse cx="106.4" cy="390.3" rx="2.80" ry="2.65" fill="#ff7474"/>
<ellipse cx="96.3" cy="375.5" rx="2.80" ry="2.65" fill="#ff0000"/>
<ellipse cx="211.7" cy="386.6" rx="2.80" ry="2.65" fill="#0000ff"/>
<ellipse cx="201.3" cy="398.8" rx="2.80" ry="2.65" fill="#4e4eff"/>
<ellipse cx="191.4" cy="279.3" rx="2.80" ry="2.65" fill="#dcdcff"/>
<ellipse cx="147.0" cy="363.8" rx="2.80" ry="2.65" fill="#dadaff"/>
<ellipse cx="120.0" cy="388.6" rx="2.80" ry="2.65" fill="#ff8383"/>
<ellipse cx="99.0" cy="358.4" rx="2.80" ry="2.65" fill="#ff0a0a"/>
<ellipse cx="249.7" cy="410.7" rx="2.80" ry="2.65" fill="#0000ff"/>
<ellipse cx="164.4" cy="322.4" rx="2.80" ry="2.65" fill="#dcdcff"/>
<ellipse cx="112.8" cy="360.7" rx="2.80" ry="2.65" fill="#ff1414"/>
<ellipse cx="120.1" cy="379.8" rx="2.80" ry="2.65" fill="#ff6868"/>
<ellipse cx="167.6" cy="316.6" rx="2.80" ry="2.65" fill="#b7b7ff"/>
<ellipse cx="187.2" cy="372.3" rx="2.80" ry="2.65" fill="#2a2aff"/>
<ellipse cx="224.4" cy="400.3" rx="2.80" ry="2.65" fill="#0000ff"/>
<ellipse cx="103.3" cy="380.3" rx="2.80" ry="2.65" fill="#ff0404"/>
<ellipse cx="103.7" cy="405.0" rx="2.80" ry="2.65" fill="#ff9090"/>
<ellipse cx="192.4" cy="279.4" rx="2.80" ry="2.65" fill="#dcdcff"/>
<ellipse cx="159.7" cy="379.4" rx="2.80" ry="2.65" fill="#7d7dff"/>
<ellipse cx="163.7" cy="334.8" rx="2.80" ry="2.65" fill="#c9c9ff"/>
<ellipse cx="111.8" cy="387.4" rx="2.80" ry="2.65" fill="#ff6f6f"/>
<ellipse cx="174.3" cy="385.0" rx="2.80" ry="2.65" fill="#7272ff"/>
<ellipse cx="172.8" cy="377.6" rx="2.80" ry="2.65" fill="#6464ff"/>
<ellipse cx="204.8" cy="398.3" rx="2.80" ry="2.65" fill="#6969ff"/>
<ellipse cx="161.7" cy="418.0" rx="2.80" ry="2.65" fill="#7171ff"/>
<ellipse cx="155.8" cy="311.9" rx="2.80" ry="2.65" fill="#c8c8ff"/>
<ellipse cx="178.3" cy="398.3" rx="2.80" ry="2.65" fill="#5454ff"/>
<ellipse cx="195.6" cy="297.8" rx="2.80" ry="2.65" fill="#bfbfff"/>
<ellipse cx="114.1" cy="380.6" rx="2.80" ry="2.65" fill="#ff6666"/>
<ellipse cx="124.0" cy="409.0" rx="2.80" ry="2.65" fill="#ff9292"/>
<ellipse cx="104.5" cy="392.9" rx="2.80" ry="2.65" fill="#ff1d1d"/>
<ellipse cx="187.9" cy="322.5" rx="2.80" ry="2.65" fill="#b5b5ff"/>
<ellipse cx="197.5" cy="439.1" rx="2.80" ry="2.65" fill="#5959ff"/>
<ellipse cx="81.3" cy="382.3" rx="2.80" ry="2.65" fill="#ff0000"/>
<ellipse cx="119.6" cy="403.3" rx="2.80" ry="2.65" fill="#ff8c8c"/>
<ellipse cx="161.0" cy="312.7" rx="2.80" ry="2.65" fill="#bfbfff"/>
<ellipse cx="91.5" cy="425.0" rx="2.80" ry="2.65" fill="#ffbebe"/>
<ellipse cx="164.0" cy="319.7" rx="2.80" ry="2.65" fill="#d3d3ff"/>
<ellipse cx="195.0" cy="279.9" rx="2.80" ry="2.65" fill="#c6c6ff"/>
<ellipse cx="183.1" cy="317.0" rx="2.80" ry="2.65" fill="#ccccff"/>
<ellipse cx="176.5" cy="362.9" rx="2.80" ry="2.65" fill="#e1e1ff"/>
<ellipse cx="119.3" cy="414.4" rx="2.80" ry="2.65" fill="#ffb4b4"/>
<ellipse cx="185.3" cy="385.1" rx="2.80" ry="2.65" fill="#7b7bff"/>
<ellipse cx="199.8" cy="367.4" rx="2.80" ry="2.65" fill="#3838ff"/>
<ellipse cx="184.0" cy="334.6" rx="2.80" ry="2.65" fill="#babaff"/>
<ellipse cx="86.7" cy="397.3" rx="2.80" ry="2.65" fill="#ff2828"/>
<ellipse cx="81.6" cy="388.6" rx="2.80" ry="2.65" fill="#ff0d0d"/>
<ellipse cx="92.2" cy="382.9" rx="2.80" ry="2.65" fill="#ff0000"/>
<ellipse cx="176.6" cy="378.2" rx="2.80" ry="2.65" fill="#7575ff"/>
<ellipse cx="219.0" cy="399.5" rx="2.80" ry="2.65" fill="#0000ff"/>
<ellipse cx="92.1" cy="400.6" rx="2.80" ry="2.65" fill="#ff3838"/>
<ellipse cx="177.9" cy="283.9" rx="2.80" ry="2.65" fill="#c3c3ff"/>
<ellipse cx="190.6" cy="293.2" rx="2.80" ry="2.65" fill="#cbcbff"/>
<ellipse cx="95.6" cy="391.4" rx="2.80" ry="2.65" fill="#ff1d1d"/>
<ellipse cx="164.0" cy="372.5" rx="2.80" ry="2.65" fill="#7575ff"/>
<ellipse cx="205.3" cy="401.9" rx="2.80" ry="2.65" fill="#6d6dff"/>
<ellipse cx="207.7" cy="364.0" rx="2.80" ry="2.65" fill="#0000ff"/>
<ellipse cx="189.2" cy="407.3" rx="2.80" ry="2.65" fill="#6060ff"/>
<ellipse cx="202.7" cy="400.1" rx="2.80" ry="2.65" fill="#0000ff"/>
<ellipse cx="159.9" cy="318.5" rx="2.80" ry="2.65" fill="#d2d2ff"/>
<ellipse cx="95.2" cy="403.3" rx="2.80" ry="2.65" fill="#ff3030"/>
<ellipse cx="111.1" cy="427.1" rx="2.80" ry="2.65" fill="#ffaaaa"/>
<ellipse cx="180.9" cy="432.6" rx="2.80" ry="2.65" fill="#3535ff"/>
<ellipse cx="90.7" cy="423.8" rx="2.80" ry="2.65" fill="#ff9999"/>
<ellipse cx="82.9" cy="387.9" rx="2.80" ry="2.65" fill="#ff0202"/>
<ellipse cx="77.1" cy="356.4" rx="2.80" ry="2.65" fill="#ff0000"/>
<ellipse cx="203.6" cy="448.0" rx="2.80" ry="2.65" fill="#4747ff"/>
<ellipse cx="118.0" cy="403.3" rx="2.80" ry="2.65" fill="#ff9393"/>
<ellipse cx="216.0" cy="398.1" rx="2.80" ry="2.65" fill="#1b1bff"/>
<ellipse cx="170.1" cy="382.5" rx="2.80" ry="2.65" fill="#6161ff"/>
<ellipse cx="218.9" cy="382.8" rx="2.80" ry="2.65" fill="#0000ff"/>
<ellipse cx="104.2" cy="438.4" rx="2.80" ry="2.65" fill="#ffbcbc"/>
<ellipse cx="192.3" cy="390.1" rx="2.80" ry="2.65" fill="#3b3bff"/>
<ellipse cx="165.3" cy="331.0" rx="2.80" ry="2.65" fill="#a8a8ff"/>
<ellipse cx="168.7" cy="318.5" rx="2.80" ry="2.65" fill="#c7c7ff"/>
<ellipse cx="173.3" cy="321.5" rx="2.80" ry="2.65" fill="#c9c9ff"/>
<ellipse cx="189.6" cy="414.8" rx="2.80" ry="2.65" fill="#5c5cff"/>
<ellipse cx="195.7" cy="397.4" rx="2.80" ry="2.65" fill="#6a6aff"/>
<ellipse cx="107.6" cy="375.8" rx="2.80" ry="2.65" fill="#ff0000"/>
<ellipse cx="88.6" cy="416.4" rx="2.80" ry="2.65" fill="#ff9d9d"/>
<ellipse cx="116.9" cy="384.3" rx="2.80" ry="2.65" fill="#ff7777"/>
<ellipse cx="228.8" cy="380.3" rx="2.80" ry="2.65" fill="#0000ff"/>
<ellipse cx="168.3" cy="309.7" rx="2.80" ry="2.65" fill="#e9e9ff"/>
<ellipse cx="189.4" cy="382.5" rx="2.80" ry="2.65" fill="#5d5dff"/>
<ellipse cx="107.9" cy="395.5" rx="2.80" ry="2.65" fill="#ff8686"/>
<ellipse cx="209.1" cy="396.4" rx="2.80" ry="2.65" fill="#5353ff"/>
<ellipse cx="163.2" cy="323.4" rx="2.80" ry="2.65" fill="#bdbdff"/>
<ellipse cx="151.0" cy="294.1" rx="2.80" ry="2.65" fill="#babaff"/>
<ellipse cx="203.3" cy="445.9" rx="2.80" ry="2.65" fill="#5656ff"/>
<ellipse cx="171.9" cy="390.8" rx="2.80" ry="2.65" fill="#5353ff"/>
<ellipse cx="90.7" cy="401.0" rx="2.80" ry="2.65" fill="#ff2c2c"/>
<ellipse cx="125.2" cy="403.3" rx="2.80" ry="2.65" fill="#ffa6a6"/>
<ellipse cx="121.2" cy="384.6" rx="2.80" ry="2.65" fill="#ff6666"/>
<ellipse cx="224.2" cy="390.5" rx="2.80" ry="2.65" fill="#1313ff"/>
<ellipse cx="91.6" cy="338.5" rx="2.80" ry="2.65" fill="#ff0000"/>
<ellipse cx="167.6" cy="371.7" rx="2.80" ry="2.65" fill="#5e5eff"/>
<ellipse cx="102.0" cy="403.5" rx="2.80" ry="2.65" fill="#ff2f2f"/>
<ellipse cx="211.0" cy="437.5" rx="2.80" ry="2.65" fill="#6363ff"/>
<ellipse cx="124.6" cy="402.8" rx="2.80" ry="2.65" fill="#ff9999"/>
<ellipse cx="184.0" cy="417.8" rx="2.80" ry="2.65" fill="#5454ff"/>
<ellipse cx="200.6" cy="416.1" rx="2.80" ry="2.65" fill="#6969ff"/>
<ellipse cx="111.1" cy="391.9" rx="2.80" ry="2.65" fill="#ff8383"/>
<ellipse cx="157.8" cy="407.6" rx="2.80" ry="2.65" fill="#6363ff"/>
<ellipse cx="180.6" cy="393.6" rx="2.80" ry="2.65" fill="#7979ff"/>
<ellipse cx="201.4" cy="402.0" rx="2.80" ry="2.65" fill="#2222ff"/>
<ellipse cx="154.0" cy="310.6" rx="2.80" ry="2.65" fill="#c7c7ff"/>
<ellipse cx="235.0" cy="410.7" rx="2.80" ry="2.65" fill="#0000ff"/>
<ellipse cx="107.9" cy="377.6" rx="2.80" ry="2.65" fill="#ff0000"/>
<ellipse cx="99.5" cy="403.6" rx="2.80" ry="2.65" fill="#ff1818"/>
<ellipse cx="247.6" cy="387.6" rx="2.80" ry="2.65" fill="#0000ff"/>
<ellipse cx="195.8" cy="381.6" rx="2.80" ry="2.65" fill="#4f4fff"/>
<ellipse cx="211.9" cy="431.1" rx="2.80" ry="2.65" fill="#6969ff"/>
<ellipse cx="98.5" cy="392.2" rx="2.80" ry="2.65" fill="#ff1010"/>
<ellipse cx="156.9" cy="389.4" rx="2.80" ry="2.65" fill="#5959ff"/>
<ellipse cx="100.2" cy="392.7" rx="2.80" ry="2.65" fill="#ff0000"/>
<ellipse cx="228.8" cy="402.5" rx="2.80" ry="2.65" fill="#0000ff"/>
<ellipse cx="218.6" cy="372.0" rx="2.80" ry="2.65" fill="#0000ff"/>
<ellipse cx="159.1" cy="395.6" rx="2.80" ry="2.65" fill="#6060ff"/>
<ellipse cx="112.7" cy="388.9" rx="2.80" ry="2.65" fill="#ff0000"/>
<ellipse cx="173.9" cy="368.1" rx="2.80" ry="2.65" fill="#e2e2ff"/>
<ellipse cx="198.8" cy="378.4" rx="2.80" ry="2.65" fill="#2929ff"/>
<ellipse cx="131.7" cy="385.5" rx="2.80" ry="2.65" fill="#ff8282"/>
<ellipse cx="169.2" cy="298.2" rx="2.80" ry="2.65" fill="#dadaff"/>
<ellipse cx="93.6" cy="350.9" rx="2.80" ry="2.65" fill="#ff0000"/>
<ellipse cx="114.9" cy="382.5" rx="2.80" ry="2.65" fill="#ff6e6e"/>
<ellipse cx="178.0" cy="398.3" rx="2.80" ry="2.65" fill="#5151ff"/>
<ellipse cx="211.6" cy="435.3" rx="2.80" ry="2.65" fill="#5050ff"/>
<ellipse cx="117.7" cy="401.2" rx="2.80" ry="2.65" fill="#ff8c8c"/>
<ellipse cx="189.5" cy="291.9" rx="2.80" ry="2.65" fill="#dfdfff"/>
<ellipse cx="109.7" cy="402.6" rx="2.80" ry="2.65" fill="#ffa0a0"/>
<ellipse cx="166.6" cy="422.7" rx="2.80" ry="2.65" fill="#4848ff"/>
<ellipse cx="177.6" cy="353.6" rx="2.80" ry="2.65" fill="#d9d9ff"/>
<ellipse cx="181.3" cy="371.4" rx="2.80" ry="2.65" fill="#1f1fff"/>
<ellipse cx="96.0" cy="371.1" rx="2.80" ry="2.65" fill="#ff0101"/>
<ellipse cx="169.2" cy="383.7" rx="2.80" ry="2.65" fill="#5d5dff"/>
<ellipse cx="118.8" cy="408.3" rx="2.80" ry="2.65" fill="#ff8b8b"/>
<ellipse cx="101.6" cy="431.1" rx="2.80" ry="2.65" fill="#ffb4b4"/>
<ellipse cx="88.5" cy="356.7" rx="2.80" ry="2.65" fill="#ff0b0b"/>
<ellipse cx="106.3" cy="425.1" rx="2.80" ry="2.65" fill="#ff9d9d"/>
<ellipse cx="225.0" cy="386.8" rx="2.80" ry="2.65" fill="#0404ff"/>
<ellipse cx="167.3" cy="325.2" rx="2.80" ry="2.65" fill="#d4d4ff"/>
<ellipse cx="94.7" cy="397.2" rx="2.80" ry="2.65" fill="#ff2424"/>
<ellipse cx="231.9" cy="391.7" rx="2.80" ry="2.65" fill="#0000ff"/>
<ellipse cx="176.8" cy="343.6" rx="2.80" ry="2.65" fill="#c6c6ff"/>
<ellipse cx="188.8" cy="297.6" rx="2.80" ry="2.65" fill="#c6c6ff"/>
<ellipse cx="84.4" cy="361.3" rx="2.80" ry="2.65" fill="#ff0000"/>
<ellipse cx="207.6" cy="396.3" rx="2.80" ry="2.65" fill="#5454ff"/>
<ellipse cx="253.9" cy="416.0" rx="2.80" ry="2.65" fill="#0000ff"/>
<ellipse cx="221.2" cy="402.5" rx="2.80" ry="2.65" fill="#0000ff"/>
<ellipse cx="196.5" cy="305.1" rx="2.80" ry="2.65" fill="#c9c9ff"/>
<ellipse cx="196.8" cy="452.0" rx="2.80" ry="2.65" fill="#3c3cff"/>
<ellipse cx="150.0" cy="333.7" rx="2.80" ry="2.65" fill="#d9d9ff"/>
<ellipse cx="172.3" cy="355.9" rx="2.80" ry="2.65" fill="#e9e9ff"/>
<ellipse cx="160.0" cy="283.1" rx="2.80" ry="2.65" fill="#c0c0ff"/>
<ellipse cx="181.0" cy="404.4" rx="2.80" ry="2.65" fill="#5e5eff"/>
<ellipse cx="84.4" cy="376.6" rx="2.80" ry="2.65" fill="#ff0000"/>
<ellipse cx="229.6" cy="383.3" rx="2.80" ry="2.65" fill="#0000ff"/>
<ellipse cx="89.9" cy="380.4" rx="2.80" ry="2.65" fill="#ff0000"/>
<ellipse cx="200.8" cy="397.3" rx="2.80" ry="2.65" fill="#4a4aff"/>
<ellipse cx="83.1" cy="359.4" rx="2.80" ry="2.65" fill="#ff0101"/>
<ellipse cx="88.2" cy="418.2" rx="2.80" ry="2.65" fill="#ff9393"/>
<ellipse cx="170.4" cy="349.2" rx="2.80" ry="2.65" fill="#e0e0ff"/>
<ellipse cx="99.8" cy="412.6" rx="2.80" ry="2.65" fill="#ffadad"/>
<ellipse cx="194.9" cy="444.0" rx="2.80" ry="2.65" fill="#7272ff"/>
<ellipse cx="100.9" cy="354.4" rx="2.80" ry="2.65" fill="#ff0000"/>
<ellipse cx="223.4" cy="394.4" rx="2.80" ry="2.65" fill="#0000ff"/>
<ellipse cx="100.5" cy="439.6" rx="2.80" ry="2.65" fill="#ffc8c8"/>
<ellipse cx="98.1" cy="397.4" rx="2.80" ry="2.65" fill="#ff1d1d"/>
<ellipse cx="88.8" cy="398.2" rx="2.80" ry="2.65" fill="#ff2929"/>
<ellipse cx="87.7" cy="352.5" rx="2.80" ry="2.65" fill="#ff0000"/>
<ellipse cx="213.8" cy="383.9" rx="2.80" ry="2.65" fill="#0000ff"/>
<ellipse cx="106.4" cy="403.5" rx="2.80" ry="2.65" fill="#ff3f3f"/>
<ellipse cx="182.1" cy="407.9" rx="2.80" ry="2.65" fill="#6262ff"/>
<ellipse cx="177.0" cy="344.0" rx="2.80" ry="2.65" fill="#dedeff"/>
<ellipse cx="101.0" cy="366.6" rx="2.80" ry="2.65" fill="#ff0000"/>
<ellipse cx="195.9" cy="388.3" rx="2.80" ry="2.65" fill="#7070ff"/>
<ellipse cx="195.3" cy="377.1" rx="2.80" ry="2.65" fill="#3434ff"/>
<ellipse cx="125.3" cy="379.7" rx="2.80" ry="2.65" fill="#ff7373"/>
<ellipse cx="149.3" cy="410.6" rx="2.80" ry="2.65" fill="#3c3cff"/>
<ellipse cx="117.3" cy="386.1" rx="2.80" ry="2.65" fill="#ff7c7c"/>
<ellipse cx="83.1" cy="365.3" rx="2.80" ry="2.65" fill="#ff0000"/>
<ellipse cx="147.0" cy="373.9" rx="2.80" ry="2.65" fill="#e4e4ff"/>
<ellipse cx="79.2" cy="381.3" rx="2.80" ry="2.65" fill="#ff1c1c"/>
<ellipse cx="178.7" cy="390.8" rx="2.80" ry="2.65" fill="#5b5bff"/>
<ellipse cx="107.5" cy="387.2" rx="2.80" ry="2.65" fill="#ff0202"/>
<ellipse cx="257.0" cy="423.4" rx="2.80" ry="2.65" fill="#0000ff"/>
<ellipse cx="86.9" cy="414.6" rx="2.80" ry="2.65" fill="#ffa1a1"/>
<ellipse cx="104.5" cy="381.9" rx="2.80" ry="2.65" fill="#ff0505"/>
<ellipse cx="96.9" cy="390.7" rx="2.80" ry="2.65" fill="#ff8585"/>
<ellipse cx="119.3" cy="395.0" rx="2.80" ry="2.65" fill="#ff8282"/>
<ellipse cx="223.2" cy="402.1" rx="2.80" ry="2.65" fill="#1919ff"/>
<ellipse cx="208.9" cy="356.8" rx="2.80" ry="2.65" fill="#4040ff"/>
<ellipse cx="227.1" cy="387.7" rx="2.80" ry="2.65" fill="#0000ff"/>
<ellipse cx="170.3" cy="305.4" rx="2.80" ry="2.65" fill="#b5b5ff"/>
<ellipse cx="184.3" cy="294.3" rx="2.80" ry="2.65" fill="#bebeff"/>
<ellipse cx="213.1" cy="410.4" rx="2.80" ry="2.65" fill="#6969ff"/>
<ellipse cx="97.9" cy="352.7" rx="2.80" ry="2.65" fill="#ff0c0c"/>
<ellipse cx="207.9" cy="379.5" rx="2.80" ry="2.65" fill="#6363ff"/>
<ellipse cx="175.2" cy="283.6" rx="2.80" ry="2.65" fill="#c6c6ff"/>
<ellipse cx="188.9" cy="303.1" rx="2.80" ry="2.65" fill="#bbbbff"/>
<ellipse cx="171.7" cy="402.5" rx="2.80" ry="2.65" fill="#5c5cff"/>
<ellipse cx="216.4" cy="393.9" rx="2.80" ry="2.65" fill="#0000ff"/>
<ellipse cx="211.9" cy="377.8" rx="2.80" ry="2.65" fill="#0303ff"/>
<ellipse cx="157.4" cy="384.7" rx="2.80" ry="2.65" fill="#7272ff"/>
<ellipse cx="248.6" cy="393.4" rx="2.80" ry="2.65" fill="#0000ff"/>
<ellipse cx="217.4" cy="376.3" rx="2.80" ry="2.65" fill="#0000ff"/>
<ellipse cx="199.8" cy="382.6" rx="2.80" ry="2.65" fill="#1616ff"/>
<ellipse cx="72.8" cy="367.2" rx="2.80" ry="2.65" fill="#ff0303"/>
<ellipse cx="105.1" cy="394.5" rx="2.80" ry="2.65" fill="#ff8b8b"/>
<ellipse cx="113.9" cy="382.6" rx="2.80" ry="2.65" fill="#ff0000"/>
<ellipse cx="99.6" cy="358.1" rx="2.80" ry="2.65" fill="#ff0000"/>
<ellipse cx="214.2" cy="400.9" rx="2.80" ry="2.65" fill="#0000ff"/>
<ellipse cx="81.7" cy="394.9" rx="2.80" ry="2.65" fill="#ff1515"/>
<ellipse cx="174.9" cy="382.7" rx="2.80" ry="2.65" fill="#7b7bff"/>
<ellipse cx="152.0" cy="363.4" rx="2.80" ry="2.65" fill="#dadaff"/>
<ellipse cx="82.5" cy="387.4" rx="2.80" ry="2.65" fill="#ff0d0d"/>
<ellipse cx="112.2" cy="385.0" rx="2.80" ry="2.65" fill="#ff0f0f"/>
<ellipse cx="101.6" cy="383.2" rx="2.80" ry="2.65" fill="#ff0000"/>
<ellipse cx="158.6" cy="307.5" rx="2.80" ry="2.65" fill="#d2d2ff"/>
<ellipse cx="208.2" cy="440.6" rx="2.80" ry="2.65" fill="#6a6aff"/>
<ellipse cx="197.0" cy="397.5" rx="2.80" ry="2.65" fill="#2a2aff"/>
<ellipse cx="180.3" cy="299.4" rx="2.80" ry="2.65" fill="#bfbfff"/>
<ellipse cx="222.4" cy="368.5" rx="2.80" ry="2.65" fill="#0a0aff"/>
<ellipse cx="107.6" cy="392.8" rx="2.80" ry="2.65" fill="#ff1010"/>
<ellipse cx="192.9" cy="419.7" rx="2.80" ry="2.65" fill="#5050ff"/>
<ellipse cx="159.3" cy="295.8" rx="2.80" ry="2.65" fill="#cfcfff"/>
<ellipse cx="223.3" cy="377.8" rx="2.80" ry="2.65" fill="#0000ff"/>
<ellipse cx="102.0" cy="448.0" rx="2.80" ry="2.65" fill="#ffb4b4"/>
<ellipse cx="95.2" cy="426.8" rx="2.80" ry="2.65" fill="#ffb7b7"/>
<ellipse cx="243.9" cy="413.9" rx="2.80" ry="2.65" fill="#0000ff"/>
<ellipse cx="97.6" cy="398.6" rx="2.80" ry="2.65" fill="#ff7e7e"/>
<ellipse cx="101.0" cy="386.9" rx="2.80" ry="2.65" fill="#ff0000"/>
<ellipse cx="223.3" cy="394.8" rx="2.80" ry="2.65" fill="#2626ff"/>
<ellipse cx="174.9" cy="416.5" rx="2.80" ry="2.65" fill="#7676ff"/>
<ellipse cx="153.1" cy="361.6" rx="2.80" ry="2.65" fill="#d5d5ff"/>
<ellipse cx="188.2" cy="382.6" rx="2.80" ry="2.65" fill="#3131ff"/>
<ellipse cx="97.8" cy="391.6" rx="2.80" ry="2.65" fill="#ff1818"/>
<ellipse cx="169.4" cy="407.1" rx="2.80" ry="2.65" fill="#4545ff"/>
<ellipse cx="113.2" cy="427.3" rx="2.80" ry="2.65" fill="#ffb8b8"/>
<ellipse cx="194.0" cy="385.6" rx="2.80" ry="2.65" fill="#5f5fff"/>
<ellipse cx="242.8" cy="405.0" rx="2.80" ry="2.65" fill="#0000ff"/>
<ellipse cx="147.5" cy="359.7" rx="2.80" ry="2.65" fill="#e9e9ff"/>
<ellipse cx="208.1" cy="380.5" rx="2.80" ry="2.65" fill="#5959ff"/>
<ellipse cx="101.3" cy="409.0" rx="2.80" ry="2.65" fill="#ff9e9e"/>
<ellipse cx="203.6" cy="398.1" rx="2.80" ry="2.65" fill="#0000ff"/>
<ellipse cx="71.6" cy="395.1" rx="2.80" ry="2.65" fill="#ff1111"/>
<ellipse cx="100.6" cy="352.9" rx="2.80" ry="2.65" fill="#ff0404"/>
<ellipse cx="169.3" cy="309.9" rx="2.80" ry="2.65" fill="#c5c5ff"/>
<ellipse cx="199.9" cy="366.0" rx="2.80" ry="2.65" fill="#0c0cff"/>
<ellipse cx="104.7" cy="439.9" rx="2.80" ry="2.65" fill="#ffd0d0"/>
<ellipse cx="203.9" cy="358.8" rx="2.80" ry="2.65" fill="#2323ff"/>
<ellipse cx="101.7" cy="398.1" rx="2.80" ry="2.65" fill="#ff3131"/>
<ellipse cx="106.6" cy="380.9" rx="2.80" ry="2.65" fill="#ff1414"/>
<ellipse cx="107.2" cy="385.1" rx="2.80" ry="2.65" fill="#ff0303"/>
<ellipse cx="203.7" cy="438.8" rx="2.80" ry="2.65" fill="#6363ff"/>
<ellipse cx="210.0" cy="405.4" rx="2.80" ry="2.65" fill="#2121ff"/>
<ellipse cx="197.2" cy="446.9" rx="2.80" ry="2.65" fill="#6060ff"/>
<ellipse cx="161.0" cy="315.2" rx="2.80" ry="2.65" fill="#e5e5ff"/>
<ellipse cx="90.2" cy="423.6" rx="2.80" ry="2.65" fill="#ffaaaa"/>
<ellipse cx="210.3" cy="429.2" rx="2.80" ry="2.65" fill="#5555ff"/>
<ellipse cx="189.1" cy="404.9" rx="2.80" ry="2.65" fill="#6b6bff"/>
<ellipse cx="184.2" cy="278.4" rx="2.80" ry="2.65" fill="#c7c7ff"/>
<ellipse cx="213.3" cy="360.5" rx="2.80" ry="2.65" fill="#0f0fff"/>
<ellipse cx="94.4" cy="370.5" rx="2.80" ry="2.65" fill="#ff0000"/>
<ellipse cx="192.4" cy="422.5" rx="2.80" ry="2.65" fill="#4e4eff"/>
<ellipse cx="177.8" cy="333.1" rx="2.80" ry="2.65" fill="#d0d0ff"/>
<ellipse cx="100.2" cy="360.5" rx="2.80" ry="2.65" fill="#ff0000"/>
<ellipse cx="93.0" cy="347.0" rx="2.80" ry="2.65" fill="#ff0000"/>
<ellipse cx="193.8" cy="309.9" rx="2.80" ry="2.65" fill="#d9d9ff"/>
<ellipse cx="207.5" cy="425.5" rx="2.80" ry="2.65" fill="#5e5eff"/>
<ellipse cx="200.2" cy="445.4" rx="2.80" ry="2.65" fill="#6363ff"/>
<ellipse cx="179.4" cy="415.9" rx="2.80" ry="2.65" fill="#3131ff"/>
<ellipse cx="173.8" cy="425.8" rx="2.80" ry="2.65" fill="#5d5dff"/>
<ellipse cx="163.7" cy="327.4" rx="2.80" ry="2.65" fill="#e2e2ff"/>
<ellipse cx="193.6" cy="432.3" rx="2.80" ry="2.65" fill="#6b6bff"/>
<ellipse cx="144.8" cy="364.0" rx="2.80" ry="2.65" fill="#e0e0ff"/>
<ellipse cx="189.6" cy="297.4" rx="2.80" ry="2.65" fill="#c1c1ff"/>
<ellipse cx="147.5" cy="311.8" rx="2.80" ry="2.65" fill="#ceceff"/>
<ellipse cx="197.5" cy="383.1" rx="2.80" ry="2.65" fill="#6c6cff"/>
<ellipse cx="74.3" cy="358.8" rx="2.80" ry="2.65" fill="#ff0000"/>
<ellipse cx="162.9" cy="388.4" rx="2.80" ry="2.65" fill="#6565ff"/>
<ellipse cx="188.2" cy="367.9" rx="2.80" ry="2.65" fill="#6f6fff"/>
<ellipse cx="184.0" cy="368.6" rx="2.80" ry="2.65" fill="#4d4dff"/>
<ellipse cx="70.9" cy="366.4" rx="2.80" ry="2.65" fill="#ff0000"/>
<ellipse cx="97.9" cy="414.9" rx="2.80" ry="2.65" fill="#ffaaaa"/>
<ellipse cx="154.2" cy="358.8" rx="2.80" ry="2.65" fill="#e3e3ff"/>
<ellipse cx="179.8" cy="401.8" rx="2.80" ry="2.65" fill="#6262ff"/>
<ellipse cx="176.1" cy="345.6" rx="2.80" ry="2.65" fill="#dcdcff"/>
<ellipse cx="175.5" cy="300.0" rx="2.80" ry="2.65" fill="#d4d4ff"/>
<ellipse cx="99.5" cy="412.9" rx="2.80" ry="2.65" fill="#ff8787"/>
<ellipse cx="194.4" cy="427.5" rx="2.80" ry="2.65" fill="#5858ff"/>
<ellipse cx="227.8" cy="377.5" rx="2.80" ry="2.65" fill="#0000ff"/>
<ellipse cx="82.9" cy="395.4" rx="2.80" ry="2.65" fill="#ff2323"/>
<ellipse cx="95.7" cy="396.4" rx="2.80" ry="2.65" fill="#ff1919"/>
<ellipse cx="172.9" cy="318.9" rx="2.80" ry="2.65" fill="#dcdcff"/>
<ellipse cx="187.9" cy="430.1" rx="2.80" ry="2.65" fill="#5555ff"/>
<ellipse cx="78.4" cy="382.6" rx="2.80" ry="2.65" fill="#ff0303"/>
<ellipse cx="213.3" cy="403.4" rx="2.80" ry="2.65" fill="#3c3cff"/>
<ellipse cx="87.1" cy="361.5" rx="2.80" ry="2.65" fill="#ff0000"/>
<ellipse cx="176.6" cy="371.2" rx="2.80" ry="2.65" fill="#ebebff"/>
<ellipse cx="163.3" cy="422.6" rx="2.80" ry="2.65" fill="#6363ff"/>
<ellipse cx="97.7" cy="413.4" rx="2.80" ry="2.65" fill="#ffaeae"/>
<ellipse cx="237.6" cy="387.0" rx="2.80" ry="2.65" fill="#0000ff"/>
<ellipse cx="176.4" cy="316.8" rx="2.80" ry="2.65" fill="#ceceff"/>
<ellipse cx="109.0" cy="364.5" rx="2.80" ry="2.65" fill="#ff0000"/>
<ellipse cx="103.9" cy="373.8" rx="2.80" ry="2.65" fill="#ff0000"/>
<ellipse cx="182.2" cy="387.7" rx="2.80" ry="2.65" fill="#5c5cff"/>
<ellipse cx="229.2" cy="389.7" rx="2.80" ry="2.65" fill="#0000ff"/>
<ellipse cx="96.8" cy="403.0" rx="2.80" ry="2.65" fill="#ff3232"/>
<ellipse cx="165.0" cy="357.0" rx="2.80" ry="2.65" fill="#e0e0ff"/>
<ellipse cx="107.2" cy="358.8" rx="2.80" ry="2.65" fill="#ff0000"/>
<ellipse cx="173.7" cy="369.4" rx="2.80" ry="2.65" fill="#e4e4ff"/>
<ellipse cx="190.2" cy="314.9" rx="2.80" ry="2.65" fill="#d0d0ff"/>
<ellipse cx="193.8" cy="367.1" rx="2.80" ry="2.65" fill="#5757ff"/>
<ellipse cx="104.1" cy="380.7" rx="2.80" ry="2.65" fill="#ff0000"/>
<ellipse cx="76.0" cy="354.4" rx="2.80" ry="2.65" fill="#ff0000"/>
<ellipse cx="113.3" cy="369.2" rx="2.80" ry="2.65" fill="#ff1717"/>
<ellipse cx="182.3" cy="339.4" rx="2.80" ry="2.65" fill="#b1b1ff"/>
<ellipse cx="106.3" cy="377.5" rx="2.80" ry="2.65" fill="#ff0000"/>
<ellipse cx="174.0" cy="307.4" rx="2.80" ry="2.65" fill="#cacaff"/>
<ellipse cx="100.6" cy="365.9" rx="2.80" ry="2.65" fill="#ff0000"/>
<ellipse cx="87.9" cy="401.7" rx="2.80" ry="2.65" fill="#ff3434"/>
<ellipse cx="171.2" cy="316.2" rx="2.80" ry="2.65" fill="#d0d0ff"/>
<ellipse cx="113.2" cy="386.0" rx="2.80" ry="2.65" fill="#ff7272"/>
<ellipse cx="236.5" cy="397.6" rx="2.80" ry="2.65" fill="#0000ff"/>
<ellipse cx="85.5" cy="365.8" rx="2.80" ry="2.65" fill="#ff0707"/>
<ellipse cx="163.2" cy="427.5" rx="2.80" ry="2.65" fill="#7a7aff"/>
<ellipse cx="184.6" cy="433.1" rx="2.80" ry="2.65" fill="#5757ff"/>
<ellipse cx="215.4" cy="390.4" rx="2.80" ry="2.65" fill="#0000ff"/>
<ellipse cx="154.4" cy="298.4" rx="2.80" ry="2.65" fill="#c1c1ff"/>
<ellipse cx="108.9" cy="409.3" rx="2.80" ry="2.65" fill="#ff9b9b"/>
<ellipse cx="172.4" cy="280.8" rx="2.80" ry="2.65" fill="#cdcdff"/>
<ellipse cx="156.5" cy="347.0" rx="2.80" ry="2.65" fill="#e3e3ff"/>
<ellipse cx="99.0" cy="345.0" rx="2.80" ry="2.65" fill="#ff0000"/>
<ellipse cx="128.5" cy="387.7" rx="2.80" ry="2.65" fill="#ff7575"/>
<ellipse cx="104.6" cy="358.4" rx="2.80" ry="2.65" fill="#ff0000"/>
<ellipse cx="115.4" cy="398.0" rx="2.80" ry="2.65" fill="#ff9090"/>
<ellipse cx="229.9" cy="406.2" rx="2.80" ry="2.65" fill="#0000ff"/>
<ellipse cx="194.6" cy="450.1" rx="2.80" ry="2.65" fill="#4949ff"/>
<ellipse cx="202.3" cy="383.9" rx="2.80" ry="2.65" fill="#6969ff"/>
<ellipse cx="99.4" cy="386.8" rx="2.80" ry="2.65" fill="#ff0000"/>
<ellipse cx="80.9" cy="398.4" rx="2.80" ry="2.65" fill="#ff2626"/>
<ellipse cx="156.3" cy="282.8" rx="2.80" ry="2.65" fill="#f1f1ff"/>
<ellipse cx="99.6" cy="391.1" rx="2.80" ry="2.65" fill="#ff0000"/>
<ellipse cx="96.7" cy="396.9" rx="2.80" ry="2.65" fill="#ff9191"/>
<ellipse cx="78.0" cy="351.0" rx="2.80" ry="2.65" fill="#ff0000"/>
<ellipse cx="122.3" cy="390.0" rx="2.80" ry="2.65" fill="#ff8b8b"/>
<ellipse cx="153.1" cy="297.7" rx="2.80" ry="2.65" fill="#dadaff"/>
<ellipse cx="103.2" cy="355.5" rx="2.80" ry="2.65" fill="#ff0303"/>
<ellipse cx="174.2" cy="372.1" rx="2.80" ry="2.65" fill="#dadaff"/>
<ellipse cx="190.5" cy="393.2" rx="2.80" ry="2.65" fill="#5151ff"/>
<ellipse cx="107.0" cy="391.1" rx="2.80" ry="2.65" fill="#ff7a7a"/>
<ellipse cx="205.7" cy="449.8" rx="2.80" ry="2.65" fill="#4a4aff"/>
<ellipse cx="114.5" cy="371.3" rx="2.80" ry="2.65" fill="#ff0e0e"/>
<ellipse cx="211.9" cy="423.0" rx="2.80" ry="2.65" fill="#5353ff"/>
<ellipse cx="190.2" cy="435.6" rx="2.80" ry="2.65" fill="#5f5fff"/>
<ellipse cx="228.8" cy="375.6" rx="2.80" ry="2.65" fill="#0000ff"/>
<ellipse cx="170.5" cy="327.1" rx="2.80" ry="2.65" fill="#d5d5ff"/>
<ellipse cx="182.8" cy="284.0" rx="2.80" ry="2.65" fill="#cacaff"/>
<ellipse cx="184.3" cy="431.9" rx="2.80" ry="2.65" fill="#4545ff"/>
<ellipse cx="113.3" cy="392.2" rx="2.80" ry="2.65" fill="#ff2a2a"/>
<ellipse cx="206.1" cy="371.1" rx="2.80" ry="2.65" fill="#1b1bff"/>
<ellipse cx="101.9" cy="399.2" rx="2.80" ry="2.65" fill="#ff9292"/>
<ellipse cx="208.2" cy="383.9" rx="2.80" ry="2.65" fill="#8181ff"/>
<ellipse cx="193.9" cy="372.5" rx="2.80" ry="2.65" fill="#6d6dff"/>
<ellipse cx="105.8" cy="441.0" rx="2.80" ry="2.65" fill="#ffd2d2"/>
<ellipse cx="163.0" cy="379.6" rx="2.80" ry="2.65" fill="#5e5eff"/>
<ellipse cx="102.9" cy="431.9" rx="2.80" ry="2.65" fill="#ffb3b3"/>
<ellipse cx="178.3" cy="332.4" rx="2.80" ry="2.65" fill="#c9c9ff"/>
<ellipse cx="156.6" cy="401.1" rx="2.80" ry="2.65" fill="#7373ff"/>
<ellipse cx="110.6" cy="374.1" rx="2.80" ry="2.65" fill="#ff0202"/>
<ellipse cx="77.5" cy="378.1" rx="2.80" ry="2.65" fill="#ff0000"/>
<ellipse cx="186.9" cy="388.8" rx="2.80" ry="2.65" fill="#6666ff"/>
<ellipse cx="171.7" cy="396.9" rx="2.80" ry="2.65" fill="#7272ff"/>
<ellipse cx="218.1" cy="394.9" rx="2.80" ry="2.65" fill="#0000ff"/>
<ellipse cx="221.3" cy="373.0" rx="2.80" ry="2.65" fill="#0000ff"/>
<ellipse cx="189.9" cy="401.3" rx="2.80" ry="2.65" fill="#5e5eff"/>
<ellipse cx="183.7" cy="414.5" rx="2.80" ry="2.65" fill="#5c5cff"/>
<ellipse cx="229.6" cy="384.0" rx="2.80" ry="2.65" fill="#0000ff"/>
<ellipse cx="175.4" cy="363.2" rx="2.80" ry="2.65" fill="#e5e5ff"/>
<ellipse cx="186.9" cy="413.4" rx="2.80" ry="2.65" fill="#5757ff"/>
<ellipse cx="161.3" cy="357.8" rx="2.80" ry="2.65" fill="#dadaff"/>
<ellipse cx="175.3" cy="377.9" rx="2.80" ry="2.65" fill="#5858ff"/>
<ellipse cx="215.2" cy="376.2" rx="2.80" ry="2.65" fill="#0d0dff"/>
<ellipse cx="74.5" cy="382.7" rx="2.80" ry="2.65" fill="#ff0000"/>
<ellipse cx="110.8" cy="421.9" rx="2.80" ry="2.65" fill="#ffa7a7"/>
<ellipse cx="252.8" cy="395.5" rx="2.80" ry="2.65" fill="#0000ff"/>
<ellipse cx="216.0" cy="374.5" rx="2.80" ry="2.65" fill="#1212ff"/>
<ellipse cx="181.6" cy="324.8" rx="2.80" ry="2.65" fill="#d0d0ff"/>
<ellipse cx="187.5" cy="443.4" rx="2.80" ry="2.65" fill="#4e4eff"/>
<ellipse cx="121.7" cy="403.6" rx="2.80" ry="2.65" fill="#ff8888"/>
<ellipse cx="213.8" cy="385.0" rx="2.80" ry="2.65" fill="#0101ff"/>
<ellipse cx="161.1" cy="420.4" rx="2.80" ry="2.65" fill="#5353ff"/>
<ellipse cx="111.5" cy="403.6" rx="2.80" ry="2.65" fill="#ff9292"/>
<ellipse cx="188.7" cy="318.0" rx="2.80" ry="2.65" fill="#dedeff"/>
<ellipse cx="209.9" cy="392.1" rx="2.80" ry="2.65" fill="#3232ff"/>
<ellipse cx="106.2" cy="441.7" rx="2.80" ry="2.65" fill="#ffdede"/>
<ellipse cx="110.1" cy="365.1" rx="2.80" ry="2.65" fill="#ff0000"/>
<ellipse cx="205.6" cy="385.2" rx="2.80" ry="2.65" fill="#1212ff"/>
<ellipse cx="216.4" cy="398.9" rx="2.80" ry="2.65" fill="#0606ff"/>
<ellipse cx="207.0" cy="419.6" rx="2.80" ry="2.65" fill="#6161ff"/>
<ellipse cx="191.7" cy="385.2" rx="2.80" ry="2.65" fill="#2525ff"/>
<ellipse cx="168.1" cy="341.1" rx="2.80" ry="2.65" fill="#b6b6ff"/>
<ellipse cx="200.8" cy="415.3" rx="2.80" ry="2.65" fill="#4343ff"/>
<ellipse cx="166.5" cy="364.4" rx="2.80" ry="2.65" fill="#eaeaff"/>
<ellipse cx="178.9" cy="318.1" rx="2.80" ry="2.65" fill="#c1c1ff"/>
<ellipse cx="114.0" cy="372.4" rx="2.80" ry="2.65" fill="#ff0909"/>
<ellipse cx="108.9" cy="395.9" rx="2.80" ry="2.65" fill="#ff8f8f"/>
<ellipse cx="150.7" cy="314.9" rx="2.80" ry="2.65" fill="#c2c2ff"/>
<ellipse cx="203.0" cy="367.2" rx="2.80" ry="2.65" fill="#0000ff"/>
<ellipse cx="211.2" cy="425.0" rx="2.80" ry="2.65" fill="#4646ff"/>
<ellipse cx="87.2" cy="383.9" rx="2.80" ry="2.65" fill="#ff0404"/>
<ellipse cx="208.0" cy="374.2" rx="2.80" ry="2.65" fill="#2020ff"/>
<ellipse cx="95.0" cy="343.0" rx="2.80" ry="2.65" fill="#ff0000"/>
<ellipse cx="82.6" cy="402.0" rx="2.80" ry="2.65" fill="#ff3737"/>
<ellipse cx="97.7" cy="425.3" rx="2.80" ry="2.65" fill="#ffa4a4"/>
<ellipse cx="166.0" cy="388.1" rx="2.80" ry="2.65" fill="#6464ff"/>
<ellipse cx="166.5" cy="332.6" rx="2.80" ry="2.65" fill="#b4b4ff"/>
<ellipse cx="214.6" cy="377.6" rx="2.80" ry="2.65" fill="#0000ff"/>
<ellipse cx="87.0" cy="341.5" rx="2.80" ry="2.65" fill="#ff0000"/>
<ellipse cx="99.6" cy="403.4" rx="2.80" ry="2.65" fill="#ff3737"/>
<ellipse cx="182.3" cy="329.3" rx="2.80" ry="2.65" fill="#c4c4ff"/>
<ellipse cx="164.6" cy="352.7" rx="2.80" ry="2.65" fill="#f2f2ff"/>
<ellipse cx="95.7" cy="368.6" rx="2.80" ry="2.65" fill="#ff0000"/>
<ellipse cx="115.3" cy="375.0" rx="2.80" ry="2.65" fill="#ff1818"/>
<ellipse cx="100.4" cy="354.6" rx="2.80" ry="2.65" fill="#ff0000"/>
<ellipse cx="91.8" cy="384.7" rx="2.80" ry="2.65" fill="#ff0000"/>
<ellipse cx="101.2" cy="412.7" rx="2.80" ry="2.65" fill="#ffa8a8"/>
<ellipse cx="252.3" cy="427.0" rx="2.80" ry="2.65" fill="#0000ff"/>
<ellipse cx="158.8" cy="380.6" rx="2.80" ry="2.65" fill="#6f6fff"/>
<ellipse cx="187.6" cy="311.5" rx="2.80" ry="2.65" fill="#bcbcff"/>
<ellipse cx="206.3" cy="382.8" rx="2.80" ry="2.65" fill="#4b4bff"/>
<ellipse cx="172.0" cy="377.5" rx="2.80" ry="2.65" fill="#6565ff"/>
<ellipse cx="131.3" cy="395.1" rx="2.80" ry="2.65" fill="#ff8888"/>
<ellipse cx="157.1" cy="373.1" rx="2.80" ry="2.65" fill="#e9e9ff"/>
<ellipse cx="185.1" cy="395.8" rx="2.80" ry="2.65" fill="#6767ff"/>
<ellipse cx="114.8" cy="424.9" rx="2.80" ry="2.65" fill="#ffb8b8"/>
<ellipse cx="188.8" cy="384.0" rx="2.80" ry="2.65" fill="#2020ff"/>
<ellipse cx="79.5" cy="401.9" rx="2.80" ry="2.65" fill="#ff1717"/>
<ellipse cx="215.3" cy="361.7" rx="2.80" ry="2.65" fill="#1515ff"/>
<ellipse cx="187.4" cy="428.8" rx="2.80" ry="2.65" fill="#6e6eff"/>
<ellipse cx="186.9" cy="404.2" rx="2.80" ry="2.65" fill="#4f4fff"/>
<ellipse cx="197.8" cy="365.5" rx="2.80" ry="2.65" fill="#5e5eff"/>
<ellipse cx="212.3" cy="386.7" rx="2.80" ry="2.65" fill="#0000ff"/>
<ellipse cx="176.8" cy="329.7" rx="2.80" ry="2.65" fill="#b9b9ff"/>
<ellipse cx="87.0" cy="362.1" rx="2.80" ry="2.65" fill="#ff0000"/>
<ellipse cx="83.5" cy="403.1" rx="2.80" ry="2.65" fill="#ff4646"/>
<ellipse cx="172.3" cy="291.0" rx="2.80" ry="2.65" fill="#ececff"/>
<ellipse cx="88.1" cy="404.4" rx="2.80" ry="2.65" fill="#ff8686"/>
<ellipse cx="104.3" cy="416.4" rx="2.80" ry="2.65" fill="#ffabab"/>
<ellipse cx="150.1" cy="346.4" rx="2.80" ry="2.65" fill="#e6e6ff"/>
<ellipse cx="99.6" cy="362.0" rx="2.80" ry="2.65" fill="#ff0000"/>
<ellipse cx="208.6" cy="413.6" rx="2.80" ry="2.65" fill="#6868ff"/>
<ellipse cx="88.3" cy="404.4" rx="2.80" ry="2.65" fill="#ff2424"/>
<ellipse cx="99.6" cy="396.4" rx="2.80" ry="2.65" fill="#ff3232"/>
<ellipse cx="188.6" cy="399.3" rx="2.80" ry="2.65" fill="#7676ff"/>
<ellipse cx="89.7" cy="386.8" rx="2.80" ry="2.65" fill="#ff0909"/>
<ellipse cx="156.7" cy="340.7" rx="2.80" ry="2.65" fill="#adadff"/>
<ellipse cx="161.9" cy="334.9" rx="2.80" ry="2.65" fill="#c5c5ff"/>
<ellipse cx="214.5" cy="378.7" rx="2.80" ry="2.65" fill="#1212ff"/>
<ellipse cx="188.5" cy="378.5" rx="2.80" ry="2.65" fill="#5a5aff"/>
<ellipse cx="119.7" cy="392.9" rx="2.80" ry="2.65" fill="#ff8c8c"/>
<ellipse cx="148.3" cy="315.5" rx="2.80" ry="2.65" fill="#bebeff"/>
<ellipse cx="105.5" cy="419.7" rx="2.80" ry="2.65" fill="#ffa9a9"/>
<ellipse cx="123.5" cy="390.5" rx="2.80" ry="2.65" fill="#ff5f5f"/>
<ellipse cx="168.1" cy="297.9" rx="2.80" ry="2.65" fill="#ddddff"/>
<ellipse cx="70.5" cy="360.8" rx="2.80" ry="2.65" fill="#ff0000"/>
<ellipse cx="191.6" cy="410.4" rx="2.80" ry="2.65" fill="#6161ff"/>
<ellipse cx="99.2" cy="379.4" rx="2.80" ry="2.65" fill="#ff0000"/>
<ellipse cx="222.0" cy="366.4" rx="2.80" ry="2.65" fill="#0202ff"/>
<ellipse cx="221.6" cy="367.2" rx="2.80" ry="2.65" fill="#0505ff"/>
<ellipse cx="258.1" cy="398.1" rx="2.80" ry="2.65" fill="#0000ff"/>
<ellipse cx="196.8" cy="435.9" rx="2.80" ry="2.65" fill="#5151ff"/>
<ellipse cx="192.5" cy="448.3" rx="2.80" ry="2.65" fill="#7070ff"/>
<ellipse cx="121.8" cy="413.5" rx="2.80" ry="2.65" fill="#ff9898"/>
<ellipse cx="149.1" cy="330.1" rx="2.80" ry="2.65" fill="#cacaff"/>
<ellipse cx="90.4" cy="421.5" rx="2.80" ry="2.65" fill="#ffb9b9"/>
<ellipse cx="195.5" cy="321.9" rx="2.80" ry="2.65" fill="#b7b7ff"/>
<ellipse cx="158.9" cy="411.4" rx="2.80" ry="2.65" fill="#6c6cff"/>
<ellipse cx="157.6" cy="364.9" rx="2.80" ry="2.65" fill="#e0e0ff"/>
<ellipse cx="78.6" cy="387.0" rx="2.80" ry="2.65" fill="#ff1c1c"/>
<ellipse cx="194.3" cy="424.5" rx="2.80" ry="2.65" fill="#4646ff"/>
<ellipse cx="245.5" cy="398.0" rx="2.80" ry="2.65" fill="#0000ff"/>
<ellipse cx="212.1" cy="396.7" rx="2.80" ry="2.65" fill="#2222ff"/>
<ellipse cx="107.9" cy="408.9" rx="2.80" ry="2.65" fill="#ff9797"/>
<ellipse cx="79.5" cy="367.5" rx="2.80" ry="2.65" fill="#ff0000"/>
<ellipse cx="186.7" cy="405.1" rx="2.80" ry="2.65" fill="#8d8dff"/>
<ellipse cx="100.1" cy="399.7" rx="2.80" ry="2.65" fill="#ff1a1a"/>
<ellipse cx="110.6" cy="358.1" rx="2.80" ry="2.65" fill="#ff0000"/>
<ellipse cx="124.7" cy="391.7" rx="2.80" ry="2.65" fill="#ff8080"/>
<ellipse cx="84.0" cy="347.0" rx="2.80" ry="2.65" fill="#ff0000"/>
<ellipse cx="96.9" cy="386.7" rx="2.80" ry="2.65" fill="#ff1515"/>
<ellipse cx="99.0" cy="389.0" rx="2.80" ry="2.65" fill="#ff0000"/>
<ellipse cx="120.0" cy="392.2" rx="2.80" ry="2.65" fill="#ff7878"/>
<ellipse cx="122.1" cy="377.0" rx="2.80" ry="2.65" fill="#ff6e6e"/>
<ellipse cx="167.3" cy="333.9" rx="2.80" ry="2.65" fill="#c5c5ff"/>
<ellipse cx="147.0" cy="327.4" rx="2.80" ry="2.65" fill="#e6e6ff"/>
<ellipse cx="96.4" cy="433.4" rx="2.80" ry="2.65" fill="#ffbfbf"/>
<ellipse cx="191.2" cy="315.0" rx="2.80" ry="2.65" fill="#ccccff"/>
<ellipse cx="123.5" cy="380.2" rx="2.80" ry="2.65" fill="#ff8181"/>
<ellipse cx="95.1" cy="399.2" rx="2.80" ry="2.65" fill="#ff3333"/>
<ellipse cx="167.7" cy="313.2" rx="2.80" ry="2.65" fill="#d8d8ff"/>
<ellipse cx="89.9" cy="414.1" rx="2.80" ry="2.65" fill="#ffa1a1"/>
<ellipse cx="204.2" cy="384.4" rx="2.80" ry="2.65" fill="#0808ff"/>
<ellipse cx="108.5" cy="378.3" rx="2.80" ry="2.65" fill="#ff0909"/>
<ellipse cx="98.3" cy="389.3" rx="2.80" ry="2.65" fill="#ff1b1b"/>
<ellipse cx="190.0" cy="343.8" rx="2.80" ry="2.65" fill="#d1d1ff"/>
<ellipse cx="198.0" cy="381.1" rx="2.80" ry="2.65" fill="#6161ff"/>
<ellipse cx="88.9" cy="359.2" rx="2.80" ry="2.65" fill="#ff0000"/>
<ellipse cx="185.2" cy="416.4" rx="2.80" ry="2.65" fill="#6969ff"/>
<ellipse cx="202.3" cy="391.7" rx="2.80" ry="2.65" fill="#3131ff"/>
<ellipse cx="102.8" cy="374.6" rx="2.80" ry="2.65" fill="#ff0909"/>
<ellipse cx="113.7" cy="407.0" rx="2.80" ry="2.65" fill="#ff9a9a"/>
<ellipse cx="177.7" cy="375.0" rx="2.80" ry="2.65" fill="#2424ff"/>
<ellipse cx="146.1" cy="356.7" rx="2.80" ry="2.65" fill="#e5e5ff"/>
<ellipse cx="212.2" cy="397.3" rx="2.80" ry="2.65" fill="#0000ff"/>
<ellipse cx="94.1" cy="424.9" rx="2.80" ry="2.65" fill="#ffc1c1"/>
<ellipse cx="114.4" cy="383.8" rx="2.80" ry="2.65" fill="#ff7272"/>
<ellipse cx="102.8" cy="401.7" rx="2.80" ry="2.65" fill="#ff3131"/>
<ellipse cx="201.7" cy="377.7" rx="2.80" ry="2.65" fill="#3c3cff"/>
<ellipse cx="239.7" cy="383.4" rx="2.80" ry="2.65" fill="#0000ff"/>
<ellipse cx="169.6" cy="307.5" rx="2.80" ry="2.65" fill="#d4d4ff"/>
<ellipse cx="194.5" cy="361.5" rx="2.80" ry="2.65" fill="#1818ff"/>
<ellipse cx="172.9" cy="315.7" rx="2.80" ry="2.65" fill="#bbbbff"/>
<ellipse cx="166.0" cy="320.5" rx="2.80" ry="2.65" fill="#d6d6ff"/>
<ellipse cx="85.3" cy="383.9" rx="2.80" ry="2.65" fill="#ff0000"/>
<ellipse cx="113.3" cy="411.3" rx="2.80" ry="2.65" fill="#ff8888"/>
<ellipse cx="100.5" cy="440.9" rx="2.80" ry="2.65" fill="#ffc4c4"/>
<ellipse cx="178.7" cy="328.6" rx="2.80" ry="2.65" fill="#dcdcff"/>
<ellipse cx="207.2" cy="434.0" rx="2.80" ry="2.65" fill="#4242ff"/>
<ellipse cx="155.9" cy="340.9" rx="2.80" ry="2.65" fill="#d0d0ff"/>
<ellipse cx="109.3" cy="421.2" rx="2.80" ry="2.65" fill="#ffb8b8"/>
<ellipse cx="72.9" cy="392.8" rx="2.80" ry="2.65" fill="#ff0606"/>
<ellipse cx="155.8" cy="328.3" rx="2.80" ry="2.65" fill="#bdbdff"/>
<ellipse cx="197.0" cy="301.5" rx="2.80" ry="2.65" fill="#c8c8ff"/>
<ellipse cx="104.4" cy="355.7" rx="2.80" ry="2.65" fill="#ff0000"/>
<ellipse cx="190.1" cy="373.0" rx="2.80" ry="2.65" fill="#1b1bff"/>
<ellipse cx="187.3" cy="422.3" rx="2.80" ry="2.65" fill="#5b5bff"/>
<ellipse cx="190.0" cy="289.7" rx="2.80" ry="2.65" fill="#cbcbff"/>
<ellipse cx="204.7" cy="357.7" rx="2.80" ry="2.65" fill="#0000ff"/>
<ellipse cx="179.6" cy="335.6" rx="2.80" ry="2.65" fill="#d2d2ff"/>
<ellipse cx="91.5" cy="361.9" rx="2.80" ry="2.65" fill="#ff0000"/>
<ellipse cx="110.5" cy="391.8" rx="2.80" ry="2.65" fill="#ff2f2f"/>
<ellipse cx="86.3" cy="402.7" rx="2.80" ry="2.65" fill="#ff0d0d"/>
<ellipse cx="79.5" cy="374.0" rx="2.80" ry="2.65" fill="#ff0000"/>
<ellipse cx="186.4" cy="333.8" rx="2.80" ry="2.65" fill="#d0d0ff"/>
<ellipse cx="181.5" cy="427.5" rx="2.80" ry="2.65" fill="#6161ff"/>
<ellipse cx="82.4" cy="376.8" rx="2.80" ry="2.65" fill="#ff0909"/>
<ellipse cx="78.5" cy="376.9" rx="2.80" ry="2.65" fill="#ff0000"/>
<ellipse cx="168.9" cy="344.0" rx="2.80" ry="2.65" fill="#bfbfff"/>
<ellipse cx="167.0" cy="283.2" rx="2.80" ry="2.65" fill="#a7a7ff"/>
<ellipse cx="170.4" cy="409.5" rx="2.80" ry="2.65" fill="#7373ff"/>
<ellipse cx="104.2" cy="352.9" rx="2.80" ry="2.65" fill="#ff0000"/>
<ellipse cx="221.4" cy="386.8" rx="2.80" ry="2.65" fill="#0000ff"/>
<ellipse cx="85.5" cy="393.0" rx="2.80" ry="2.65" fill="#ff1313"/>
<ellipse cx="213.5" cy="363.0" rx="2.80" ry="2.65" fill="#0000ff"/>
<ellipse cx="200.0" cy="364.4" rx="2.80" ry="2.65" fill="#2828ff"/>
<ellipse cx="154.7" cy="312.7" rx="2.80" ry="2.65" fill="#c6c6ff"/>
<ellipse cx="192.4" cy="368.4" rx="2.80" ry="2.65" fill="#4d4dff"/>
<ellipse cx="239.0" cy="397.8" rx="2.80" ry="2.65" fill="#0000ff"/>
<ellipse cx="93.0" cy="402.8" rx="2.80" ry="2.65" fill="#ff8e8e"/>
<ellipse cx="173.2" cy="395.4" rx="2.80" ry="2.65" fill="#5b5bff"/>
<ellipse cx="159.6" cy="413.2" rx="2.80" ry="2.65" fill="#6767ff"/>
<ellipse cx="227.3" cy="401.3" rx="2.80" ry="2.65" fill="#0000ff"/>
<ellipse cx="103.3" cy="403.7" rx="2.80" ry="2.65" fill="#ff2121"/>
<ellipse cx="103.6" cy="399.0" rx="2.80" ry="2.65" fill="#ff2424"/>
<ellipse cx="201.5" cy="448.7" rx="2.80" ry="2.65" fill="#4e4eff"/>
<ellipse cx="73.1" cy="400.1" rx="2.80" ry="2.65" fill="#ff2121"/>
<ellipse cx="210.0" cy="357.3" rx="2.80" ry="2.65" fill="#0000ff"/>
<ellipse cx="169.2" cy="341.4" rx="2.80" ry="2.65" fill="#b7b7ff"/>
<ellipse cx="173.0" cy="438.0" rx="2.80" ry="2.65" fill="#3c3cff"/>
<ellipse cx="191.9" cy="417.5" rx="2.80" ry="2.65" fill="#6060ff"/>
<ellipse cx="82.7" cy="400.8" rx="2.80" ry="2.65" fill="#ff4141"/>
<ellipse cx="194.7" cy="376.6" rx="2.80" ry="2.65" fill="#2323ff"/>
<ellipse cx="105.4" cy="425.3" rx="2.80" ry="2.65" fill="#ffb1b1"/>
<ellipse cx="160.1" cy="409.4" rx="2.80" ry="2.65" fill="#5656ff"/>
<ellipse cx="165.0" cy="302.6" rx="2.80" ry="2.65" fill="#d9d9ff"/>
<ellipse cx="162.7" cy="296.4" rx="2.80" ry="2.65" fill="#dadaff"/>
<ellipse cx="115.5" cy="372.8" rx="2.80" ry="2.65" fill="#ff0e0e"/>
<ellipse cx="179.7" cy="318.8" rx="2.80" ry="2.65" fill="#c9c9ff"/>
<ellipse cx="205.3" cy="372.5" rx="2.80" ry="2.65" fill="#3e3eff"/>
<ellipse cx="191.4" cy="408.0" rx="2.80" ry="2.65" fill="#6565ff"/>
<ellipse cx="177.9" cy="403.2" rx="2.80" ry="2.65" fill="#5252ff"/>
<ellipse cx="109.4" cy="442.7" rx="2.80" ry="2.65" fill="#ffb4b4"/>
<ellipse cx="177.6" cy="312.0" rx="2.80" ry="2.65" fill="#d2d2ff"/>
<ellipse cx="197.3" cy="449.3" rx="2.80" ry="2.65" fill="#7474ff"/>
<ellipse cx="74.8" cy="361.3" rx="2.80" ry="2.65" fill="#ff0101"/>
<ellipse cx="95.5" cy="381.0" rx="2.80" ry="2.65" fill="#ff0000"/>
<ellipse cx="84.8" cy="381.9" rx="2.80" ry="2.65" fill="#ff0000"/>
<ellipse cx="119.2" cy="401.9" rx="2.80" ry="2.65" fill="#ff8989"/>
<ellipse cx="210.5" cy="414.8" rx="2.80" ry="2.65" fill="#5b5bff"/>
<ellipse cx="207.9" cy="433.0" rx="2.80" ry="2.65" fill="#6464ff"/>
<ellipse cx="76.6" cy="394.5" rx="2.80" ry="2.65" fill="#ff1919"/>
<ellipse cx="158.9" cy="383.2" rx="2.80" ry="2.65" fill="#7a7aff"/>
<ellipse cx="102.4" cy="388.3" rx="2.80" ry="2.65" fill="#ff7171"/>
<ellipse cx="187.5" cy="324.1" rx="2.80" ry="2.65" fill="#e1e1ff"/>
<ellipse cx="189.3" cy="426.2" rx="2.80" ry="2.65" fill="#7575ff"/>
<ellipse cx="213.5" cy="373.4" rx="2.80" ry="2.65" fill="#0000ff"/>
<ellipse cx="84.5" cy="399.8" rx="2.80" ry="2.65" fill="#ff2e2e"/>
<ellipse cx="82.5" cy="355.2" rx="2.80" ry="2.65" fill="#ff0000"/>
<ellipse cx="204.8" cy="430.5" rx="2.80" ry="2.65" fill="#6e6eff"/>
<ellipse cx="81.6" cy="382.2" rx="2.80" ry="2.65" fill="#ff0000"/>
<ellipse cx="206.2" cy="403.0" rx="2.80" ry="2.65" fill="#2121ff"/>
<ellipse cx="126.0" cy="410.9" rx="2.80" ry="2.65" fill="#ff9696"/>
<ellipse cx="160.5" cy="419.2" rx="2.80" ry="2.65" fill="#6161ff"/>
<ellipse cx="192.2" cy="390.6" rx="2.80" ry="2.65" fill="#8787ff"/>
<ellipse cx="187.5" cy="286.4" rx="2.80" ry="2.65" fill="#e0e0ff"/>
<ellipse cx="133.2" cy="381.7" rx="2.80" ry="2.65" fill="#ff7a7a"/>
<ellipse cx="186.7" cy="373.9" rx="2.80" ry="2.65" fill="#4848ff"/>
<ellipse cx="118.7" cy="393.0" rx="2.80" ry="2.65" fill="#ff8989"/>
<ellipse cx="229.2" cy="381.3" rx="2.80" ry="2.65" fill="#0000ff"/>
<ellipse cx="192.2" cy="338.3" rx="2.80" ry="2.65" fill="#c5c5ff"/>
<ellipse cx="117.4" cy="404.3" rx="2.80" ry="2.65" fill="#ffabab"/>
<ellipse cx="156.9" cy="386.2" rx="2.80" ry="2.65" fill="#4545ff"/>
<ellipse cx="75.1" cy="377.4" rx="2.80" ry="2.65" fill="#ff1212"/>
<ellipse cx="150.1" cy="310.7" rx="2.80" ry="2.65" fill="#ceceff"/>
<ellipse cx="80.3" cy="380.7" rx="2.80" ry="2.65" fill="#ff0000"/>
<ellipse cx="132.1" cy="390.5" rx="2.80" ry="2.65" fill="#ff9999"/>
<ellipse cx="100.5" cy="377.8" rx="2.80" ry="2.65" fill="#ff0000"/>
<ellipse cx="91.1" cy="364.1" rx="2.80" ry="2.65" fill="#ff0000"/>
<ellipse cx="162.2" cy="399.8" rx="2.80" ry="2.65" fill="#7979ff"/>
<ellipse cx="112.8" cy="378.3" rx="2.80" ry="2.65" fill="#ff5a5a"/>
<ellipse cx="96.9" cy="361.2" rx="2.80" ry="2.65" fill="#ff0000"/>
<ellipse cx="207.5" cy="377.4" rx="2.80" ry="2.65" fill="#0707ff"/>
<ellipse cx="89.6" cy="361.4" rx="2.80" ry="2.65" fill="#ff0000"/>
<ellipse cx="105.7" cy="373.7" rx="2.80" ry="2.65" fill="#ff0000"/>
<ellipse cx="228.2" cy="403.8" rx="2.80" ry="2.65" fill="#0000ff"/>
<ellipse cx="111.4" cy="356.8" rx="2.80" ry="2.65" fill="#ff0000"/>
<ellipse cx="202.9" cy="372.6" rx="2.80" ry="2.65" fill="#1b1bff"/>
<ellipse cx="219.6" cy="386.6" rx="2.80" ry="2.65" fill="#0000ff"/>
<ellipse cx="114.0" cy="334.0" rx="2.80" ry="2.65" fill="#ff0000"/>
<ellipse cx="129.3" cy="400.9" rx="2.80" ry="2.65" fill="#ff9a9a"/>
<ellipse cx="100.1" cy="360.7" rx="2.80" ry="2.65" fill="#ff0000"/>
<ellipse cx="81.6" cy="386.0" rx="2.80" ry="2.65" fill="#ff1111"/>
<ellipse cx="162.4" cy="385.6" rx="2.80" ry="2.65" fill="#5f5fff"/>
<ellipse cx="86.8" cy="408.0" rx="2.80" ry="2.65" fill="#ffa3a3"/>
<ellipse cx="209.9" cy="383.5" rx="2.80" ry="2.65" fill="#4343ff"/>
<ellipse cx="158.7" cy="297.9" rx="2.80" ry="2.65" fill="#ceceff"/>
<ellipse cx="209.4" cy="444.7" rx="2.80" ry="2.65" fill="#6464ff"/>
<ellipse cx="114.3" cy="418.9" rx="2.80" ry="2.65" fill="#ffa5a5"/>
<ellipse cx="80.6" cy="392.4" rx="2.80" ry="2.65" fill="#ff0e0e"/>
<ellipse cx="159.7" cy="356.1" rx="2.80" ry="2.65" fill="#dcdcff"/>
<ellipse cx="206.3" cy="359.3" rx="2.80" ry="2.65" fill="#0000ff"/>
<ellipse cx="194.5" cy="364.5" rx="2.80" ry="2.65" fill="#0f0fff"/>
<ellipse cx="220.6" cy="421.0" rx="2.80" ry="2.65" fill="#3c3cff"/>
<ellipse cx="210.6" cy="398.3" rx="2.80" ry="2.65" fill="#6161ff"/>
<ellipse cx="220.0" cy="406.2" rx="2.80" ry="2.65" fill="#0000ff"/>
<ellipse cx="210.9" cy="413.5" rx="2.80" ry="2.65" fill="#6060ff"/>
<ellipse cx="178.1" cy="383.2" rx="2.80" ry="2.65" fill="#9696ff"/>
<ellipse cx="206.0" cy="395.3" rx="2.80" ry="2.65" fill="#4747ff"/>
<ellipse cx="91.2" cy="412.3" rx="2.80" ry="2.65" fill="#ffb7b7"/>
<ellipse cx="91.4" cy="426.7" rx="2.80" ry="2.65" fill="#ffacac"/>
<ellipse cx="226.8" cy="384.0" rx="2.80" ry="2.65" fill="#0000ff"/>
<ellipse cx="112.1" cy="381.1" rx="2.80" ry="2.65" fill="#ff7171"/>
<ellipse cx="99.0" cy="334.0" rx="2.80" ry="2.65" fill="#ff9c9c"/>
<ellipse cx="98.8" cy="370.6" rx="2.80" ry="2.65" fill="#ff0000"/>
<ellipse cx="88.1" cy="374.1" rx="2.80" ry="2.65" fill="#ff0000"/>
<ellipse cx="209.6" cy="386.5" rx="2.80" ry="2.65" fill="#0303ff"/>
<ellipse cx="191.9" cy="375.2" rx="2.80" ry="2.65" fill="#0505ff"/>
<ellipse cx="132.7" cy="392.7" rx="2.80" ry="2.65" fill="#ff9797"/>
<ellipse cx="98.4" cy="388.8" rx="2.80" ry="2.65" fill="#ff0000"/>
<ellipse cx="89.2" cy="370.8" rx="2.80" ry="2.65" fill="#ff0606"/>
<ellipse cx="191.9" cy="311.6" rx="2.80" ry="2.65" fill="#dedeff"/>
<ellipse cx="99.8" cy="424.9" rx="2.80" ry="2.65" fill="#ffa6a6"/>
<ellipse cx="225.5" cy="381.8" rx="2.80" ry="2.65" fill="#0000ff"/>
<ellipse cx="180.9" cy="397.8" rx="2.80" ry="2.65" fill="#5e5eff"/>
<ellipse cx="91.2" cy="385.6" rx="2.80" ry="2.65" fill="#ff0000"/>
<ellipse cx="170.9" cy="345.7" rx="2.80" ry="2.65" fill="#d2d2ff"/>
<ellipse cx="96.2" cy="371.6" rx="2.80" ry="2.65" fill="#ff0000"/>
<ellipse cx="118.2" cy="413.8" rx="2.80" ry="2.65" fill="#ffa3a3"/>
<ellipse cx="165.9" cy="356.6" rx="2.80" ry="2.65" fill="#ddddff"/>
<ellipse cx="187.0" cy="317.8" rx="2.80" ry="2.65" fill="#cfcfff"/>
<ellipse cx="77.4" cy="385.4" rx="2.80" ry="2.65" fill="#ff0000"/>
<ellipse cx="185.7" cy="309.0" rx="2.80" ry="2.65" fill="#d1d1ff"/>
<ellipse cx="100.4" cy="442.1" rx="2.80" ry="2.65" fill="#ffcaca"/>
<ellipse cx="206.0" cy="393.5" rx="2.80" ry="2.65" fill="#4545ff"/>
<ellipse cx="99.0" cy="387.7" rx="2.80" ry="2.65" fill="#ff1515"/>
<ellipse cx="99.9" cy="435.3" rx="2.80" ry="2.65" fill="#ffbfbf"/>
<ellipse cx="105.1" cy="395.7" rx="2.80" ry="2.65" fill="#ff9191"/>
<ellipse cx="101.5" cy="382.4" rx="2.80" ry="2.65" fill="#ff0000"/>
<ellipse cx="122.5" cy="395.2" rx="2.80" ry="2.65" fill="#ff9393"/>
<ellipse cx="234.4" cy="406.5" rx="2.80" ry="2.65" fill="#0000ff"/>
<ellipse cx="206.1" cy="387.0" rx="2.80" ry="2.65" fill="#4b4bff"/>
<ellipse cx="100.5" cy="388.1" rx="2.80" ry="2.65" fill="#ff0505"/>
<ellipse cx="86.3" cy="393.1" rx="2.80" ry="2.65" fill="#ff1111"/>
<ellipse cx="176.2" cy="396.6" rx="2.80" ry="2.65" fill="#5d5dff"/>
<ellipse cx="204.7" cy="395.9" rx="2.80" ry="2.65" fill="#4242ff"/>
<ellipse cx="208.7" cy="384.5" rx="2.80" ry="2.65" fill="#5252ff"/>
<ellipse cx="167.0" cy="408.4" rx="2.80" ry="2.65" fill="#4949ff"/>
<ellipse cx="187.5" cy="281.3" rx="2.80" ry="2.65" fill="#f2f2ff"/>
<ellipse cx="77.9" cy="375.6" rx="2.80" ry="2.65" fill="#ff0000"/>
<ellipse cx="93.9" cy="402.0" rx="2.80" ry="2.65" fill="#ff3535"/>
<ellipse cx="188.9" cy="371.3" rx="2.80" ry="2.65" fill="#5a5aff"/>
<ellipse cx="181.8" cy="425.7" rx="2.80" ry="2.65" fill="#5454ff"/>
<ellipse cx="159.9" cy="308.2" rx="2.80" ry="2.65" fill="#bfbfff"/>
<ellipse cx="93.6" cy="369.4" rx="2.80" ry="2.65" fill="#ff0000"/>
<ellipse cx="112.8" cy="360.2" rx="2.80" ry="2.65" fill="#ff0000"/>
<ellipse cx="184.0" cy="406.5" rx="2.80" ry="2.65" fill="#2b2bff"/>
<ellipse cx="99.5" cy="393.0" rx="2.80" ry="2.65" fill="#ff2020"/>
<ellipse cx="175.7" cy="334.6" rx="2.80" ry="2.65" fill="#acacff"/>
<ellipse cx="151.4" cy="332.7" rx="2.80" ry="2.65" fill="#d1d1ff"/>
<ellipse cx="109.8" cy="442.6" rx="2.80" ry="2.65" fill="#ffd3d3"/>
<ellipse cx="110.3" cy="413.4" rx="2.80" ry="2.65" fill="#ffa4a4"/>
<ellipse cx="155.0" cy="291.6" rx="2.80" ry="2.65" fill="#ceceff"/>
<ellipse cx="163.1" cy="339.0" rx="2.80" ry="2.65" fill="#e7e7ff"/>
<ellipse cx="212.4" cy="372.8" rx="2.80" ry="2.65" fill="#0202ff"/>
<ellipse cx="81.2" cy="380.6" rx="2.80" ry="2.65" fill="#ff0000"/>
<ellipse cx="179.0" cy="438.0" rx="2.80" ry="2.65" fill="#3c3cff"/>
<ellipse cx="98.4" cy="394.9" rx="2.80" ry="2.65" fill="#ff2727"/>
<ellipse cx="192.7" cy="380.2" rx="2.80" ry="2.65" fill="#4a4aff"/>
<ellipse cx="221.6" cy="383.7" rx="2.80" ry="2.65" fill="#0000ff"/>
<ellipse cx="95.1" cy="400.2" rx="2.80" ry="2.65" fill="#ff2121"/>
<ellipse cx="70.4" cy="378.9" rx="2.80" ry="2.65" fill="#ff0000"/>
<ellipse cx="210.6" cy="367.5" rx="2.80" ry="2.65" fill="#0a0aff"/>
<ellipse cx="227.8" cy="374.6" rx="2.80" ry="2.65" fill="#0000ff"/>
<ellipse cx="158.6" cy="359.6" rx="2.80" ry="2.65" fill="#e4e4ff"/>
<ellipse cx="186.3" cy="375.8" rx="2.80" ry="2.65" fill="#6a6aff"/>
<ellipse cx="123.3" cy="382.2" rx="2.80" ry="2.65" fill="#ff6363"/>
<ellipse cx="77.4" cy="401.2" rx="2.80" ry="2.65" fill="#ff2626"/>
<ellipse cx="173.6" cy="435.3" rx="2.80" ry="2.65" fill="#5353ff"/>
<ellipse cx="189.9" cy="362.4" rx="2.80" ry="2.65" fill="#4a4aff"/>
<ellipse cx="162.7" cy="419.5" rx="2.80" ry="2.65" fill="#5050ff"/>
<ellipse cx="206.1" cy="382.5" rx="2.80" ry="2.65" fill="#5959ff"/>
<ellipse cx="204.9" cy="431.1" rx="2.80" ry="2.65" fill="#5959ff"/>
<ellipse cx="83.9" cy="353.3" rx="2.80" ry="2.65" fill="#ff0000"/>
<ellipse cx="167.1" cy="359.8" rx="2.80" ry="2.65" fill="#cacaff"/>
<ellipse cx="192.4" cy="437.6" rx="2.80" ry="2.65" fill="#6666ff"/>
<ellipse cx="158.1" cy="364.8" rx="2.80" ry="2.65" fill="#e2e2ff"/>
<ellipse cx="193.3" cy="373.6" rx="2.80" ry="2.65" fill="#5858ff"/>
<ellipse cx="100.9" cy="363.7" rx="2.80" ry="2.65" fill="#ff0000"/>
<ellipse cx="166.3" cy="375.1" rx="2.80" ry="2.65" fill="#7070ff"/>
<ellipse cx="164.3" cy="308.3" rx="2.80" ry="2.65" fill="#d2d2ff"/>
<ellipse cx="198.1" cy="362.8" rx="2.80" ry="2.65" fill="#1d1dff"/>
<ellipse cx="190.8" cy="444.6" rx="2.80" ry="2.65" fill="#5d5dff"/>
<ellipse cx="85.7" cy="369.3" rx="2.80" ry="2.65" fill="#ff0000"/>
<ellipse cx="103.6" cy="347.5" rx="2.80" ry="2.65" fill="#ff0000"/>
<ellipse cx="217.1" cy="383.4" rx="2.80" ry="2.65" fill="#0f0fff"/>
<ellipse cx="257.0" cy="403.9" rx="2.80" ry="2.65" fill="#0000ff"/>
<ellipse cx="174.4" cy="427.2" rx="2.80" ry="2.65" fill="#4848ff"/>
<ellipse cx="216.4" cy="388.5" rx="2.80" ry="2.65" fill="#0000ff"/>
<ellipse cx="187.9" cy="329.5" rx="2.80" ry="2.65" fill="#c6c6ff"/>
<ellipse cx="202.4" cy="374.0" rx="2.80" ry="2.65" fill="#4343ff"/>
<ellipse cx="108.8" cy="377.6" rx="2.80" ry="2.65" fill="#ff0c0c"/>
<ellipse cx="177.0" cy="397.3" rx="2.80" ry="2.65" fill="#4343ff"/>
<ellipse cx="244.4" cy="411.3" rx="2.80" ry="2.65" fill="#0000ff"/>
<ellipse cx="161.5" cy="317.5" rx="2.80" ry="2.65" fill="#cacaff"/>
<ellipse cx="171.1" cy="403.2" rx="2.80" ry="2.65" fill="#4343ff"/>
<ellipse cx="73.1" cy="366.8" rx="2.80" ry="2.65" fill="#ff0000"/>
<ellipse cx="112.6" cy="349.0" rx="2.80" ry="2.65" fill="#ff0000"/>
<ellipse cx="183.0" cy="319.2" rx="2.80" ry="2.65" fill="#d2d2ff"/>
<ellipse cx="155.3" cy="344.0" rx="2.80" ry="2.65" fill="#b6b6ff"/>
<ellipse cx="193.8" cy="379.2" rx="2.80" ry="2.65" fill="#5757ff"/>
<ellipse cx="170.6" cy="391.3" rx="2.80" ry="2.65" fill="#4747ff"/>
<ellipse cx="170.2" cy="362.0" rx="2.80" ry="2.65" fill="#e7e7ff"/>
<ellipse cx="162.9" cy="342.4" rx="2.80" ry="2.65" fill="#cbcbff"/>
<ellipse cx="174.3" cy="437.0" rx="2.80" ry="2.65" fill="#6e6eff"/>
<ellipse cx="172.8" cy="369.1" rx="2.80" ry="2.65" fill="#e7e7ff"/>
<ellipse cx="154.7" cy="333.3" rx="2.80" ry="2.65" fill="#d8d8ff"/>
<ellipse cx="105.8" cy="378.8" rx="2.80" ry="2.65" fill="#ff0000"/>
<ellipse cx="188.7" cy="314.6" rx="2.80" ry="2.65" fill="#d8d8ff"/>
<ellipse cx="194.4" cy="401.4" rx="2.80" ry="2.65" fill="#5858ff"/>
<ellipse cx="111.8" cy="429.5" rx="2.80" ry="2.65" fill="#ffb2b2"/>
<ellipse cx="177.8" cy="318.7" rx="2.80" ry="2.65" fill="#b3b3ff"/>
<ellipse cx="192.4" cy="390.5" rx="2.80" ry="2.65" fill="#1111ff"/>
<ellipse cx="83.6" cy="379.2" rx="2.80" ry="2.65" fill="#ff0303"/>
<ellipse cx="209.1" cy="380.7" rx="2.80" ry="2.65" fill="#7272ff"/>
<ellipse cx="97.6" cy="396.3" rx="2.80" ry="2.65" fill="#ffa4a4"/>
<ellipse cx="111.1" cy="432.3" rx="2.80" ry="2.65" fill="#ffb8b8"/>
<ellipse cx="100.1" cy="389.2" rx="2.80" ry="2.65" fill="#ff8282"/>
<ellipse cx="174.8" cy="408.5" rx="2.80" ry="2.65" fill="#2d2dff"/>
<ellipse cx="93.0" cy="408.7" rx="2.80" ry="2.65" fill="#ff8f8f"/>
<ellipse cx="108.0" cy="346.0" rx="2.80" ry="2.65" fill="#ff0000"/>
<ellipse cx="221.6" cy="437.5" rx="2.80" ry="2.65" fill="#3c3cff"/>
<ellipse cx="105.1" cy="386.9" rx="2.80" ry="2.65" fill="#ff8585"/>
<ellipse cx="92.7" cy="355.4" rx="2.80" ry="2.65" fill="#ff0000"/>
<ellipse cx="177.3" cy="410.8" rx="2.80" ry="2.65" fill="#5757ff"/>
<ellipse cx="156.1" cy="403.4" rx="2.80" ry="2.65" fill="#3131ff"/>
<ellipse cx="182.2" cy="395.6" rx="2.80" ry="2.65" fill="#6262ff"/>
<ellipse cx="177.3" cy="399.4" rx="2.80" ry="2.65" fill="#4848ff"/>
<ellipse cx="193.3" cy="445.5" rx="2.80" ry="2.65" fill="#5f5fff"/>
<ellipse cx="216.8" cy="368.6" rx="2.80" ry="2.65" fill="#0e0eff"/>
<ellipse cx="172.4" cy="415.8" rx="2.80" ry="2.65" fill="#5555ff"/>
<ellipse cx="94.0" cy="389.0" rx="2.80" ry="2.65" fill="#ff0505"/>
</g>
<line x1="84.6" y1="469.8" x2="259.5" y2="469.8" stroke="#4a4a4a" stroke-width="1.4"/>
<line x1="84.6" y1="469.8" x2="84.6" y2="476.3" stroke="#4a4a4a" stroke-width="1.3"/>
<line x1="113.8" y1="469.8" x2="113.8" y2="476.3" stroke="#4a4a4a" stroke-width="1.3"/>
<line x1="142.9" y1="469.8" x2="142.9" y2="476.3" stroke="#4a4a4a" stroke-width="1.3"/>
<line x1="172.1" y1="469.8" x2="172.1" y2="476.3" stroke="#4a4a4a" stroke-width="1.3"/>
<line x1="201.2" y1="469.8" x2="201.2" y2="476.3" stroke="#4a4a4a" stroke-width="1.3"/>
<line x1="230.4" y1="469.8" x2="230.4" y2="476.3" stroke="#4a4a4a" stroke-width="1.3"/>
<line x1="259.5" y1="469.8" x2="259.5" y2="476.3" stroke="#4a4a4a" stroke-width="1.3"/>
<line x1="63.5" y1="440.3" x2="63.5" y2="286.6" stroke="#4a4a4a" stroke-width="1.4"/>
<line x1="56.5" y1="440.3" x2="63.5" y2="440.3" stroke="#4a4a4a" stroke-width="1.3"/>
<line x1="56.5" y1="409.6" x2="63.5" y2="409.6" stroke="#4a4a4a" stroke-width="1.3"/>
<line x1="56.5" y1="378.8" x2="63.5" y2="378.8" stroke="#4a4a4a" stroke-width="1.3"/>
<line x1="56.5" y1="348.1" x2="63.5" y2="348.1" stroke="#4a4a4a" stroke-width="1.3"/>
<line x1="56.5" y1="317.3" x2="63.5" y2="317.3" stroke="#4a4a4a" stroke-width="1.3"/>
<line x1="56.5" y1="286.6" x2="63.5" y2="286.6" stroke="#4a4a4a" stroke-width="1.3"/>
<text transform="translate(84.60 493.30) scale(1.000 0.920)" font-size="9.10" text-anchor="middle" font-weight="bold" fill="#4d4d4d" font-family='"DejaVu Sans", "Liberation Sans", sans-serif' >-10</text>
<text transform="translate(113.75 493.30) scale(1.000 0.920)" font-size="9.10" text-anchor="middle" font-weight="bold" fill="#4d4d4d" font-family='"DejaVu Sans", "Liberation Sans", sans-serif' >-5</text>
<text transform="translate(142.90 493.30) scale(1.000 0.920)" font-size="9.10" text-anchor="middle" font-weight="bold" fill="#4d4d4d" font-family='"DejaVu Sans", "Liberation Sans", sans-serif' >0</text>
<text transform="translate(172.05 493.30) scale(1.000 0.920)" font-size="9.10" text-anchor="middle" font-weight="bold" fill="#4d4d4d" font-family='"DejaVu Sans", "Liberation Sans", sans-serif' >5</text>
<text transform="translate(201.20 493.30) scale(1.000 0.920)" font-size="9.10" text-anchor="middle" font-weight="bold" fill="#4d4d4d" font-family='"DejaVu Sans", "Liberation Sans", sans-serif' >10</text>
<text transform="translate(230.35 493.30) scale(1.000 0.920)" font-size="9.10" text-anchor="middle" font-weight="bold" fill="#4d4d4d" font-family='"DejaVu Sans", "Liberation Sans", sans-serif' >15</text>
<text transform="translate(259.50 493.30) scale(1.000 0.920)" font-size="9.10" text-anchor="middle" font-weight="bold" fill="#4d4d4d" font-family='"DejaVu Sans", "Liberation Sans", sans-serif' >20</text>
<text transform="translate(47.00 440.30) rotate(-90)" font-size="9.30" text-anchor="middle" font-weight="bold" fill="#4d4d4d" font-family='"DejaVu Sans", "Liberation Sans", sans-serif' >-10</text>
<text transform="translate(47.00 409.55) rotate(-90)" font-size="9.30" text-anchor="middle" font-weight="bold" fill="#4d4d4d" font-family='"DejaVu Sans", "Liberation Sans", sans-serif' >-5</text>
<text transform="translate(47.00 378.80) rotate(-90)" font-size="9.30" text-anchor="middle" font-weight="bold" fill="#4d4d4d" font-family='"DejaVu Sans", "Liberation Sans", sans-serif' >0</text>
<text transform="translate(47.00 348.05) rotate(-90)" font-size="9.30" text-anchor="middle" font-weight="bold" fill="#4d4d4d" font-family='"DejaVu Sans", "Liberation Sans", sans-serif' >5</text>
<text transform="translate(47.00 317.30) rotate(-90)" font-size="9.30" text-anchor="middle" font-weight="bold" fill="#4d4d4d" font-family='"DejaVu Sans", "Liberation Sans", sans-serif' >10</text>
<text transform="translate(47.00 286.55) rotate(-90)" font-size="9.30" text-anchor="middle" font-weight="bold" fill="#4d4d4d" font-family='"DejaVu Sans", "Liberation Sans", sans-serif' >15</text>
<text transform="translate(165.40 519.80) scale(1.000 0.920)" font-size="9.50" text-anchor="middle" font-weight="bold" fill="#4d4d4d" font-family='"DejaVu Sans", "Liberation Sans", sans-serif' >PC1 (24.25%)</text>
<text transform="translate(23.20 371.20) rotate(-90)" font-size="10.50" text-anchor="middle" font-weight="normal" fill="#2e2e2e" font-family='"DejaVu Sans", "Liberation Sans", sans-serif' >PC3 (10.07%)</text>
<rect x="333.2" y="273.5" width="202.2" height="196.6" fill="none" stroke="#8a8a8a" stroke-width="1.3"/>
<clipPath id="cD"><rect x="333.2" y="273.5" width="202.2" height="196.6"/></clipPath>
<polyline points="350.1,280.1 359.2,369.9 368.9,386.9 378.0,422.0 387.4,431.9 396.7,433.5 406.0,439.0 415.2,442.8 424.7,447.6 434.3,449.3 443.6,450.3 453.2,452.9 462.5,452.9 471.7,454.5 481.1,454.5 490.3,456.0 500.1,456.2 509.5,456.6 518.6,457.1 528.0,457.7" fill="none" stroke="#222" stroke-width="1.1"/>
<path d="M350.1 277.5 l2.6 2.6 l-2.6 2.6 l-2.6 -2.6 z" fill="#000"/>
<path d="M359.2 367.3 l2.6 2.6 l-2.6 2.6 l-2.6 -2.6 z" fill="#000"/>
<path d="M368.9 384.3 l2.6 2.6 l-2.6 2.6 l-2.6 -2.6 z" fill="#000"/>
<path d="M378.0 419.4 l2.6 2.6 l-2.6 2.6 l-2.6 -2.6 z" fill="#000"/>
<path d="M387.4 429.3 l2.6 2.6 l-2.6 2.6 l-2.6 -2.6 z" fill="#000"/>
<path d="M396.7 430.9 l2.6 2.6 l-2.6 2.6 l-2.6 -2.6 z" fill="#000"/>
<path d="M406.0 436.4 l2.6 2.6 l-2.6 2.6 l-2.6 -2.6 z" fill="#000"/>
<path d="M415.2 440.2 l2.6 2.6 l-2.6 2.6 l-2.6 -2.6 z" fill="#000"/>
<path d="M424.7 445.0 l2.6 2.6 l-2.6 2.6 l-2.6 -2.6 z" fill="#000"/>
<path d="M434.3 446.7 l2.6 2.6 l-2.6 2.6 l-2.6 -2.6 z" fill="#000"/>
<path d="M443.6 447.7 l2.6 2.6 l-2.6 2.6 l-2.6 -2.6 z" fill="#000"/>
<path d="M453.2 450.3 l2.6 2.6 l-2.6 2.6 l-2.6 -2.6 z" fill="#000"/>
<path d="M462.5 450.3 l2.6 2.6 l-2.6 2.6 l-2.6 -2.6 z" fill="#000"/>
<path d="M471.7 451.9 l2.6 2.6 l-2.6 2.6 l-2.6 -2.6 z" fill="#000"/>
<path d="M481.1 451.9 l2.6 2.6 l-2.6 2.6 l-2.6 -2.6 z" fill="#000"/>
<path d="M490.3 453.4 l2.6 2.6 l-2.6 2.6 l-2.6 -2.6 z" fill="#000"/>
<path d="M500.1 453.6 l2.6 2.6 l-2.6 2.6 l-2.6 -2.6 z" fill="#000"/>
<path d="M509.5 454.0 l2.6 2.6 l-2.6 2.6 l-2.6 -2.6 z" fill="#000"/>
<path d="M518.6 454.5 l2.6 2.6 l-2.6 2.6 l-2.6 -2.6 z" fill="#000"/>
<path d="M528.0 455.1 l2.6 2.6 l-2.6 2.6 l-2.6 -2.6 z" fill="#000"/>
<line x1="350.1" y1="470.1" x2="528.0" y2="470.1" stroke="#4a4a4a" stroke-width="1.4"/>
<line x1="350.1" y1="470.1" x2="350.1" y2="476.6" stroke="#4a4a4a" stroke-width="1.3"/>
<line x1="359.5" y1="470.1" x2="359.5" y2="476.6" stroke="#4a4a4a" stroke-width="1.3"/>
<line x1="368.8" y1="470.1" x2="368.8" y2="476.6" stroke="#4a4a4a" stroke-width="1.3"/>
<line x1="378.2" y1="470.1" x2="378.2" y2="476.6" stroke="#4a4a4a" stroke-width="1.3"/>
<line x1="387.6" y1="470.1" x2="387.6" y2="476.6" stroke="#4a4a4a" stroke-width="1.3"/>
<line x1="396.9" y1="470.1" x2="396.9" y2="476.6" stroke="#4a4a4a" stroke-width="1.3"/>
<line x1="406.3" y1="470.1" x2="406.3" y2="476.6" stroke="#4a4a4a" stroke-width="1.3"/>
<line x1="415.6" y1="470.1" x2="415.6" y2="476.6" stroke="#4a4a4a" stroke-width="1.3"/>
<line x1="528.0" y1="470.1" x2="528.0" y2="476.6" stroke="#4a4a4a" stroke-width="1.3"/>
<line x1="333.2" y1="462.2" x2="333.2" y2="280.2" stroke="#4a4a4a" stroke-width="1.4"/>
<line x1="326.2" y1="280.2" x2="333.2" y2="280.2" stroke="#4a4a4a" stroke-width="1.3"/>
<line x1="326.2" y1="370.8" x2="333.2" y2="370.8" stroke="#4a4a4a" stroke-width="1.3"/>
<line x1="326.2" y1="386.6" x2="333.2" y2="386.6" stroke="#4a4a4a" stroke-width="1.3"/>
<line x1="326.2" y1="422.5" x2="333.2" y2="422.5" stroke="#4a4a4a" stroke-width="1.3"/>
<line x1="326.2" y1="431.5" x2="333.2" y2="431.5" stroke="#4a4a4a" stroke-width="1.3"/>
<line x1="326.2" y1="462.2" x2="333.2" y2="462.2" stroke="#4a4a4a" stroke-width="1.3"/>
<text transform="translate(350.10 493.60) scale(1.000 0.920)" font-size="9.10" text-anchor="middle" font-weight="bold" fill="#4d4d4d" font-family='"DejaVu Sans", "Liberation Sans", sans-serif' >1</text>
<text transform="translate(368.83 493.60) scale(1.000 0.920)" font-size="9.10" text-anchor="middle" font-weight="bold" fill="#4d4d4d" font-family='"DejaVu Sans", "Liberation Sans", sans-serif' >3</text>
<text transform="translate(387.55 493.60) scale(1.000 0.920)" font-size="9.10" text-anchor="middle" font-weight="bold" fill="#4d4d4d" font-family='"DejaVu Sans", "Liberation Sans", sans-serif' >5</text>
<text transform="translate(406.28 493.60) scale(1.000 0.920)" font-size="9.10" text-anchor="middle" font-weight="bold" fill="#4d4d4d" font-family='"DejaVu Sans", "Liberation Sans", sans-serif' >7</text>
<text transform="translate(528.00 493.60) scale(1.000 0.920)" font-size="9.10" text-anchor="middle" font-weight="bold" fill="#4d4d4d" font-family='"DejaVu Sans", "Liberation Sans", sans-serif' >20</text>
<text transform="translate(317.00 280.19) rotate(-90)" font-size="9.30" text-anchor="middle" font-weight="bold" fill="#4d4d4d" font-family='"DejaVu Sans", "Liberation Sans", sans-serif' >24.3</text>
<text transform="translate(317.00 386.55) rotate(-90)" font-size="9.30" text-anchor="middle" font-weight="bold" fill="#4d4d4d" font-family='"DejaVu Sans", "Liberation Sans", sans-serif' >10.1</text>
<text transform="translate(317.00 431.49) rotate(-90)" font-size="9.30" text-anchor="middle" font-weight="bold" fill="#4d4d4d" font-family='"DejaVu Sans", "Liberation Sans", sans-serif' >4.1</text>
<text transform="translate(317.00 462.20) rotate(-90)" font-size="9.30" text-anchor="middle" font-weight="bold" fill="#4d4d4d" font-family='"DejaVu Sans", "Liberation Sans", sans-serif' >0.0</text>
<text transform="translate(357.10 283.40) scale(1.000 0.920)" font-size="9.10" text-anchor="start" font-weight="bold" fill="#4d4d4d" font-family='"DejaVu Sans", "Liberation Sans", sans-serif' >24.3</text>
<text transform="translate(366.20 373.20) scale(1.000 0.920)" font-size="9.10" text-anchor="start" font-weight="bold" fill="#4d4d4d" font-family='"DejaVu Sans", "Liberation Sans", sans-serif' >36.5</text>
<text transform="translate(375.90 390.20) scale(1.000 0.920)" font-size="9.10" text-anchor="start" font-weight="bold" fill="#4d4d4d" font-family='"DejaVu Sans", "Liberation Sans", sans-serif' >46.6</text>
<text transform="translate(385.00 425.30) scale(1.000 0.920)" font-size="9.10" text-anchor="start" font-weight="bold" fill="#4d4d4d" font-family='"DejaVu Sans", "Liberation Sans", sans-serif' >51.9</text>
<text transform="translate(403.70 436.80) scale(1.000 0.920)" font-size="9.10" text-anchor="start" font-weight="bold" fill="#4d4d4d" font-family='"DejaVu Sans", "Liberation Sans", sans-serif' >65.6</text>
<g clip-path="url(#cD)">
<text transform="translate(517.10 451.20) scale(1.000 0.920)" font-size="9.10" text-anchor="start" font-weight="bold" fill="#4d4d4d" font-family='"DejaVu Sans", "Liberation Sans", sans-serif' >79.4</text>
</g>
<text transform="translate(434.20 519.60) scale(1.000 0.920)" font-size="9.40" text-anchor="middle" font-weight="bold" fill="#4d4d4d" font-family='"DejaVu Sans", "Liberation Sans", sans-serif' >Eigenvalue Rank</text>
<text transform="translate(290.60 371.50) rotate(-90)" font-size="10.20" text-anchor="middle" font-weight="normal" fill="#2e2e2e" font-family='"DejaVu Sans", "Liberation Sans", sans-serif' >Proportion of Variance (%)</text>
</g>
<text transform="translate(240.20 39.00) scale(0.930 1.000)" font-size="22.60" text-anchor="middle" font-weight="bold" fill="#000" font-family='"Liberation Sans", "DejaVu Sans", sans-serif' >(A)</text>
<text transform="translate(510.30 39.00) scale(0.930 1.000)" font-size="22.60" text-anchor="middle" font-weight="bold" fill="#000" font-family='"Liberation Sans", "DejaVu Sans", sans-serif' >(B)</text>
<text transform="translate(241.10 301.30) scale(0.930 1.000)" font-size="22.60" text-anchor="middle" font-weight="bold" fill="#000" font-family='"Liberation Sans", "DejaVu Sans", sans-serif' >(C)</text>
<text transform="translate(509.90 301.30) scale(0.930 1.000)" font-size="22.60" text-anchor="middle" font-weight="bold" fill="#000" font-family='"Liberation Sans", "DejaVu Sans", sans-serif' >(D)</text>
<path d="M5.8 3 H545.2 V526.3 H5.8 Z M275.7 3 V526.3 M5.8 264.8 H545.2" fill="none" stroke="#000" stroke-width="2.3"/>
</svg></body></html>
